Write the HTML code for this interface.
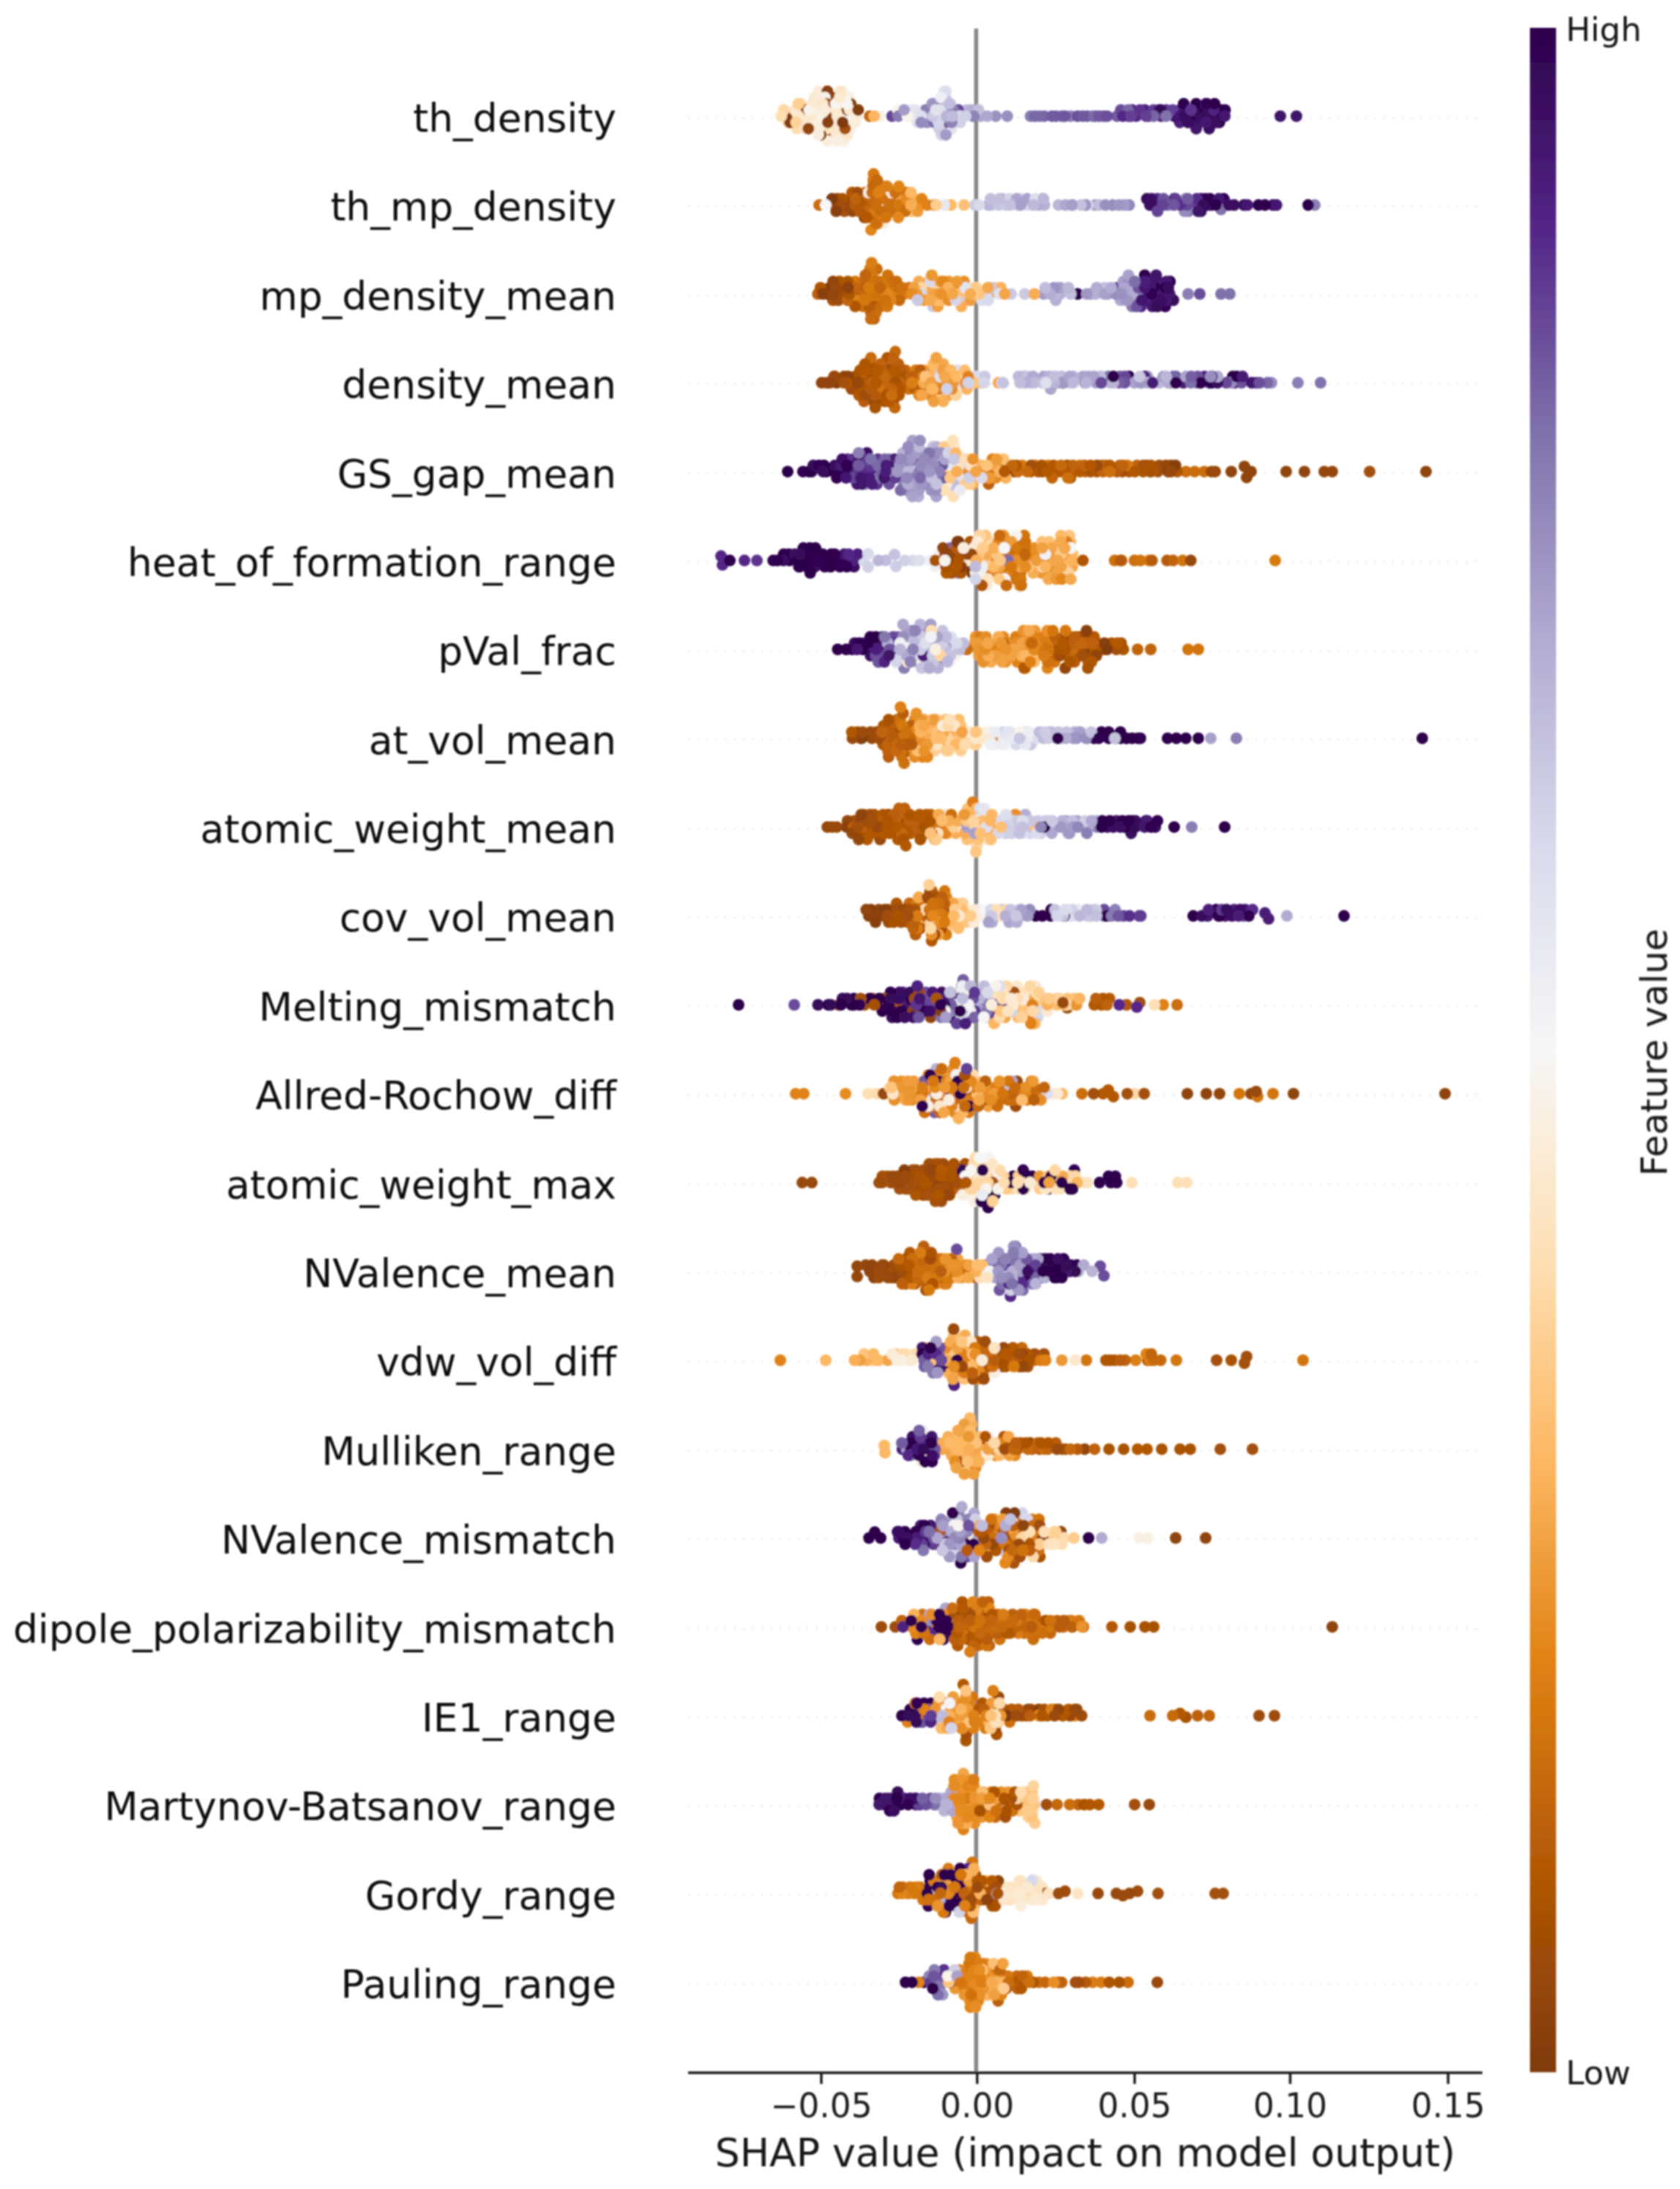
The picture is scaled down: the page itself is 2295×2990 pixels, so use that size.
<!DOCTYPE html><html><head><meta charset="utf-8"><title>SHAP summary</title>
<style>html,body{margin:0;padding:0;background:#fff}svg{display:block}text{font-family:"DejaVu Sans","Liberation Sans",sans-serif}</style></head><body>
<svg width="2295" height="2990" viewBox="0 0 2295 2990">
<rect width="2295" height="2990" fill="#fff"/>
<defs><linearGradient id="cb" x1="0" y1="0" x2="0" y2="1"><stop offset="0%" stop-color="#2d004b"/><stop offset="10%" stop-color="#542788"/><stop offset="20%" stop-color="#8073ac"/><stop offset="30%" stop-color="#b2abd2"/><stop offset="40%" stop-color="#d8daeb"/><stop offset="50%" stop-color="#f7f7f7"/><stop offset="60%" stop-color="#fee0b6"/><stop offset="70%" stop-color="#fdb863"/><stop offset="80%" stop-color="#e08214"/><stop offset="90%" stop-color="#b35806"/><stop offset="100%" stop-color="#7f3b08"/></linearGradient><filter id="bl" x="0" y="0" width="100%" height="100%" filterUnits="userSpaceOnUse"><feGaussianBlur stdDeviation="0.9"/></filter></defs>
<g filter="url(#bl)">
<line x1="1333.5" y1="39" x2="1333.5" y2="2830.5" stroke="#888" stroke-width="5.6"/>
<line x1="940" y1="160.7" x2="2025" y2="160.7" stroke="#ccc" stroke-width="2.1" stroke-dasharray="2.1 10.4" opacity="0.55"/>
<line x1="940" y1="282.1" x2="2025" y2="282.1" stroke="#ccc" stroke-width="2.1" stroke-dasharray="2.1 10.4" opacity="0.55"/>
<line x1="940" y1="403.5" x2="2025" y2="403.5" stroke="#ccc" stroke-width="2.1" stroke-dasharray="2.1 10.4" opacity="0.55"/>
<line x1="940" y1="524.8" x2="2025" y2="524.8" stroke="#ccc" stroke-width="2.1" stroke-dasharray="2.1 10.4" opacity="0.55"/>
<line x1="940" y1="646.2" x2="2025" y2="646.2" stroke="#ccc" stroke-width="2.1" stroke-dasharray="2.1 10.4" opacity="0.55"/>
<line x1="940" y1="767.6" x2="2025" y2="767.6" stroke="#ccc" stroke-width="2.1" stroke-dasharray="2.1 10.4" opacity="0.55"/>
<line x1="940" y1="889.0" x2="2025" y2="889.0" stroke="#ccc" stroke-width="2.1" stroke-dasharray="2.1 10.4" opacity="0.55"/>
<line x1="940" y1="1010.4" x2="2025" y2="1010.4" stroke="#ccc" stroke-width="2.1" stroke-dasharray="2.1 10.4" opacity="0.55"/>
<line x1="940" y1="1131.7" x2="2025" y2="1131.7" stroke="#ccc" stroke-width="2.1" stroke-dasharray="2.1 10.4" opacity="0.55"/>
<line x1="940" y1="1253.1" x2="2025" y2="1253.1" stroke="#ccc" stroke-width="2.1" stroke-dasharray="2.1 10.4" opacity="0.55"/>
<line x1="940" y1="1374.5" x2="2025" y2="1374.5" stroke="#ccc" stroke-width="2.1" stroke-dasharray="2.1 10.4" opacity="0.55"/>
<line x1="940" y1="1495.9" x2="2025" y2="1495.9" stroke="#ccc" stroke-width="2.1" stroke-dasharray="2.1 10.4" opacity="0.55"/>
<line x1="940" y1="1617.3" x2="2025" y2="1617.3" stroke="#ccc" stroke-width="2.1" stroke-dasharray="2.1 10.4" opacity="0.55"/>
<line x1="940" y1="1738.6" x2="2025" y2="1738.6" stroke="#ccc" stroke-width="2.1" stroke-dasharray="2.1 10.4" opacity="0.55"/>
<line x1="940" y1="1860.0" x2="2025" y2="1860.0" stroke="#ccc" stroke-width="2.1" stroke-dasharray="2.1 10.4" opacity="0.55"/>
<line x1="940" y1="1981.4" x2="2025" y2="1981.4" stroke="#ccc" stroke-width="2.1" stroke-dasharray="2.1 10.4" opacity="0.55"/>
<line x1="940" y1="2102.8" x2="2025" y2="2102.8" stroke="#ccc" stroke-width="2.1" stroke-dasharray="2.1 10.4" opacity="0.55"/>
<line x1="940" y1="2224.2" x2="2025" y2="2224.2" stroke="#ccc" stroke-width="2.1" stroke-dasharray="2.1 10.4" opacity="0.55"/>
<line x1="940" y1="2345.5" x2="2025" y2="2345.5" stroke="#ccc" stroke-width="2.1" stroke-dasharray="2.1 10.4" opacity="0.55"/>
<line x1="940" y1="2466.9" x2="2025" y2="2466.9" stroke="#ccc" stroke-width="2.1" stroke-dasharray="2.1 10.4" opacity="0.55"/>
<line x1="940" y1="2588.3" x2="2025" y2="2588.3" stroke="#ccc" stroke-width="2.1" stroke-dasharray="2.1 10.4" opacity="0.55"/>
<line x1="940" y1="2709.7" x2="2025" y2="2709.7" stroke="#ccc" stroke-width="2.1" stroke-dasharray="2.1 10.4" opacity="0.55"/>
<g>
<circle cx="1320.5" cy="150.2" r="8" fill="#bebada"/><circle cx="1622.7" cy="150.2" r="8" fill="#2d004b"/><circle cx="1650.3" cy="167.2" r="8" fill="#451871"/><circle cx="1149.6" cy="167.2" r="8" fill="#faedda"/><circle cx="1485.4" cy="158.7" r="8" fill="#7159a0"/><circle cx="1273.3" cy="158.7" r="8" fill="#958abc"/><circle cx="1139.6" cy="158.7" r="8" fill="#934607"/><circle cx="1291.3" cy="133.2" r="8" fill="#c5c2de"/><circle cx="1132.6" cy="184.2" r="8" fill="#a34f07"/><circle cx="1153.2" cy="158.7" r="8" fill="#fbebd5"/><circle cx="1253.5" cy="167.2" r="8" fill="#dddfed"/><circle cx="1161.4" cy="167.2" r="8" fill="#f9f1e6"/><circle cx="1658.4" cy="158.7" r="8" fill="#380b5c"/><circle cx="1611.6" cy="167.2" r="8" fill="#4a1d78"/><circle cx="1122.5" cy="167.2" r="8" fill="#faeedd"/><circle cx="1159.4" cy="133.2" r="8" fill="#f9f0e2"/><circle cx="1159.0" cy="158.7" r="8" fill="#f8f5f2"/><circle cx="1665.3" cy="158.7" r="8" fill="#310451"/><circle cx="1243.3" cy="150.2" r="8" fill="#ebecf3"/><circle cx="1273.4" cy="150.2" r="8" fill="#9489bb"/><circle cx="1118.5" cy="124.7" r="8" fill="#faecd9"/><circle cx="1328.4" cy="158.7" r="8" fill="#b9b4d7"/><circle cx="1143.6" cy="141.7" r="8" fill="#f9f1e6"/><circle cx="1129.7" cy="175.7" r="8" fill="#fde2bc"/><circle cx="1525.8" cy="158.7" r="8" fill="#725ca1"/><circle cx="1088.4" cy="175.7" r="8" fill="#feddaf"/><circle cx="1611.9" cy="150.2" r="8" fill="#471a73"/><circle cx="1531.1" cy="150.2" r="8" fill="#694b99"/><circle cx="1151.7" cy="124.7" r="8" fill="#f8f3eb"/><circle cx="1635.4" cy="158.7" r="8" fill="#390c5d"/><circle cx="1264.3" cy="150.2" r="8" fill="#8b80b5"/><circle cx="1100.1" cy="175.7" r="8" fill="#fde4c2"/><circle cx="1546.4" cy="150.2" r="8" fill="#4a1d79"/><circle cx="1286.1" cy="184.2" r="8" fill="#d3d3e7"/><circle cx="1376.0" cy="158.7" r="8" fill="#998fbf"/><circle cx="1496.0" cy="158.7" r="8" fill="#6e539d"/><circle cx="1286.4" cy="141.7" r="8" fill="#ada5ce"/><circle cx="1617.0" cy="141.7" r="8" fill="#2f024e"/><circle cx="1309.1" cy="150.2" r="8" fill="#674897"/><circle cx="1420.1" cy="158.7" r="8" fill="#7f71ab"/><circle cx="1289.9" cy="124.7" r="8" fill="#e2e3ef"/><circle cx="1245.2" cy="158.7" r="8" fill="#fbebd5"/><circle cx="1326.7" cy="150.2" r="8" fill="#b5afd4"/><circle cx="1162.0" cy="141.7" r="8" fill="#873f08"/><circle cx="1593.1" cy="150.2" r="8" fill="#5c358f"/><circle cx="1552.1" cy="158.7" r="8" fill="#552989"/><circle cx="1252.7" cy="158.7" r="8" fill="#e4e6f0"/><circle cx="1604.1" cy="158.7" r="8" fill="#3e1165"/><circle cx="1124.2" cy="133.2" r="8" fill="#f8f3ed"/><circle cx="1202.3" cy="158.7" r="8" fill="#f9f1e6"/><circle cx="1098.2" cy="158.7" r="8" fill="#fde2bc"/><circle cx="1120.1" cy="150.2" r="8" fill="#f8f2ea"/><circle cx="1130.2" cy="192.7" r="8" fill="#faeedd"/><circle cx="1292.3" cy="175.7" r="8" fill="#d1d2e7"/><circle cx="1568.9" cy="158.7" r="8" fill="#542788"/><circle cx="1298.2" cy="141.7" r="8" fill="#cecee4"/><circle cx="1138.1" cy="133.2" r="8" fill="#8b4208"/><circle cx="1653.9" cy="158.7" r="8" fill="#3b0e61"/><circle cx="1107.3" cy="167.2" r="8" fill="#853e08"/><circle cx="1668.0" cy="150.2" r="8" fill="#2d004b"/><circle cx="1563.7" cy="150.2" r="8" fill="#4c1f7b"/><circle cx="1111.3" cy="158.7" r="8" fill="#faeede"/><circle cx="1218.5" cy="158.7" r="8" fill="#664696"/><circle cx="1116.6" cy="175.7" r="8" fill="#f9f0e3"/><circle cx="1094.3" cy="141.7" r="8" fill="#fedfb4"/><circle cx="1541.5" cy="158.7" r="8" fill="#613e93"/><circle cx="1130.2" cy="124.7" r="8" fill="#873f08"/><circle cx="1152.3" cy="192.7" r="8" fill="#f9efe1"/><circle cx="1121.2" cy="184.2" r="8" fill="#873f08"/><circle cx="1601.9" cy="150.2" r="8" fill="#634195"/><circle cx="1626.3" cy="158.7" r="8" fill="#41146a"/><circle cx="1290.4" cy="150.2" r="8" fill="#cecee5"/><circle cx="1226.6" cy="150.2" r="8" fill="#f8f4ef"/><circle cx="1147.0" cy="175.7" r="8" fill="#f7f6f4"/><circle cx="1227.0" cy="158.7" r="8" fill="#887cb2"/><circle cx="1140.2" cy="150.2" r="8" fill="#fce7c9"/><circle cx="1135.8" cy="167.2" r="8" fill="#faedda"/><circle cx="1299.9" cy="175.7" r="8" fill="#e1e2ee"/><circle cx="1082.6" cy="158.7" r="8" fill="#feddaf"/><circle cx="1292.0" cy="124.7" r="8" fill="#dcdeed"/><circle cx="1157.5" cy="184.2" r="8" fill="#fce7c9"/><circle cx="1450.8" cy="158.7" r="8" fill="#7662a4"/><circle cx="1302.0" cy="150.2" r="8" fill="#8b80b5"/><circle cx="1126.7" cy="133.2" r="8" fill="#f9f1e7"/><circle cx="1360.2" cy="158.7" r="8" fill="#9c92c1"/><circle cx="1339.7" cy="158.7" r="8" fill="#aca5ce"/><circle cx="1575.8" cy="150.2" r="8" fill="#613e93"/><circle cx="1128.9" cy="141.7" r="8" fill="#9d4b07"/><circle cx="1628.7" cy="167.2" r="8" fill="#2d004b"/><circle cx="1771.0" cy="158.7" r="8" fill="#40146a"/><circle cx="1426.6" cy="158.7" r="8" fill="#7967a6"/><circle cx="1284.4" cy="158.7" r="8" fill="#d3d4e8"/><circle cx="1250.2" cy="150.2" r="8" fill="#e3e4ef"/><circle cx="1632.8" cy="150.2" r="8" fill="#350857"/><circle cx="1583.7" cy="150.2" r="8" fill="#512483"/><circle cx="1336.7" cy="150.2" r="8" fill="#c2bfdc"/><circle cx="1274.9" cy="141.7" r="8" fill="#867ab0"/><circle cx="1076.6" cy="167.2" r="8" fill="#fedbac"/><circle cx="1437.1" cy="158.7" r="8" fill="#735ca1"/><circle cx="1079.2" cy="167.2" r="8" fill="#833d08"/><circle cx="1330.2" cy="158.7" r="8" fill="#8f83b7"/><circle cx="1647.1" cy="150.2" r="8" fill="#320552"/><circle cx="1647.6" cy="158.7" r="8" fill="#380b5b"/><circle cx="1586.1" cy="158.7" r="8" fill="#4e217f"/><circle cx="1239.7" cy="158.7" r="8" fill="#f8f4ed"/><circle cx="1149.5" cy="150.2" r="8" fill="#fde4c1"/><circle cx="1611.9" cy="158.7" r="8" fill="#461972"/><circle cx="1651.8" cy="175.7" r="8" fill="#390c5e"/><circle cx="1111.0" cy="150.2" r="8" fill="#faeede"/><circle cx="1634.0" cy="141.7" r="8" fill="#2d004b"/><circle cx="1651.6" cy="150.2" r="8" fill="#370a5a"/><circle cx="1188.1" cy="158.7" r="8" fill="#c4670b"/><circle cx="1099.8" cy="150.2" r="8" fill="#a65107"/><circle cx="1128.7" cy="158.7" r="8" fill="#894108"/><circle cx="1292.0" cy="167.2" r="8" fill="#735ca1"/><circle cx="1266.5" cy="167.2" r="8" fill="#998fbf"/><circle cx="1118.4" cy="175.7" r="8" fill="#faedda"/><circle cx="1647.5" cy="141.7" r="8" fill="#461973"/><circle cx="1665.8" cy="167.2" r="8" fill="#2d004b"/><circle cx="1121.9" cy="158.7" r="8" fill="#f9f0e3"/><circle cx="1113.1" cy="167.2" r="8" fill="#faefdf"/><circle cx="1283.4" cy="150.2" r="8" fill="#e0e1ee"/><circle cx="1273.5" cy="141.7" r="8" fill="#9e95c3"/><circle cx="1462.6" cy="158.7" r="8" fill="#8b80b5"/><circle cx="1442.5" cy="158.7" r="8" fill="#725aa0"/><circle cx="1311.7" cy="158.7" r="8" fill="#d9dbeb"/><circle cx="1585.7" cy="150.2" r="8" fill="#340756"/><circle cx="1144.1" cy="158.7" r="8" fill="#fbead4"/><circle cx="1106.8" cy="158.7" r="8" fill="#fbe9cf"/><circle cx="1161.5" cy="175.7" r="8" fill="#f9efe2"/><circle cx="1074.1" cy="158.7" r="8" fill="#863f08"/><circle cx="1139.9" cy="175.7" r="8" fill="#fce8cc"/><circle cx="1276.1" cy="167.2" r="8" fill="#7d6eaa"/><circle cx="1258.5" cy="158.7" r="8" fill="#dfe0ee"/><circle cx="1557.4" cy="150.2" r="8" fill="#5b328d"/><circle cx="1235.1" cy="150.2" r="8" fill="#a49cc8"/><circle cx="1089.0" cy="150.2" r="8" fill="#884008"/><circle cx="1311.8" cy="167.2" r="8" fill="#d1d2e7"/><circle cx="1348.5" cy="158.7" r="8" fill="#aea7cf"/><circle cx="1258.3" cy="167.2" r="8" fill="#968bbd"/><circle cx="1285.5" cy="133.2" r="8" fill="#eeeef3"/><circle cx="1142.7" cy="184.2" r="8" fill="#fbe9d0"/><circle cx="1154.4" cy="175.7" r="8" fill="#a55007"/><circle cx="1109.9" cy="141.7" r="8" fill="#fce7c9"/><circle cx="1282.9" cy="175.7" r="8" fill="#cecee5"/><circle cx="1319.0" cy="158.7" r="8" fill="#d1d1e6"/><circle cx="1638.7" cy="167.2" r="8" fill="#3d1065"/><circle cx="1085.8" cy="150.2" r="8" fill="#fce8cb"/><circle cx="1097.3" cy="167.2" r="8" fill="#fce8cd"/><circle cx="1168.2" cy="167.2" r="8" fill="#faeede"/><circle cx="1282.1" cy="167.2" r="8" fill="#d4d5e9"/><circle cx="1090.7" cy="158.7" r="8" fill="#fce8cd"/><circle cx="1493.4" cy="158.7" r="8" fill="#7b6ba8"/><circle cx="1541.1" cy="150.2" r="8" fill="#7866a6"/><circle cx="1143.4" cy="192.7" r="8" fill="#f9f0e2"/><circle cx="1634.1" cy="175.7" r="8" fill="#3f1267"/><circle cx="1300.1" cy="167.2" r="8" fill="#8e82b6"/><circle cx="1157.6" cy="150.2" r="8" fill="#833d08"/><circle cx="1194.1" cy="158.7" r="8" fill="#fcb660"/><circle cx="1160.8" cy="150.2" r="8" fill="#fbe9d1"/><circle cx="1407.8" cy="158.7" r="8" fill="#887cb2"/><circle cx="1658.1" cy="150.2" r="8" fill="#502382"/><circle cx="1533.9" cy="158.7" r="8" fill="#542888"/><circle cx="1070.7" cy="150.2" r="8" fill="#fed7a3"/><circle cx="1673.5" cy="150.2" r="8" fill="#2f024e"/><circle cx="1593.1" cy="158.7" r="8" fill="#8073ac"/><circle cx="1471.9" cy="158.7" r="8" fill="#6c519c"/><circle cx="1155.2" cy="133.2" r="8" fill="#f9f0e4"/><circle cx="1274.5" cy="158.7" r="8" fill="#cbcae2"/><circle cx="1141.9" cy="141.7" r="8" fill="#f8f3ed"/><circle cx="1576.1" cy="158.7" r="8" fill="#7865a5"/><circle cx="1508.0" cy="158.7" r="8" fill="#6c519c"/><circle cx="1170.5" cy="158.7" r="8" fill="#faeddb"/><circle cx="1105.6" cy="150.2" r="8" fill="#f8f3eb"/><circle cx="1114.4" cy="141.7" r="8" fill="#faecd8"/><circle cx="1117.7" cy="184.2" r="8" fill="#f9efe1"/><circle cx="1293.2" cy="158.7" r="8" fill="#b8b2d6"/><circle cx="1622.7" cy="167.2" r="8" fill="#3b0e61"/><circle cx="1749.0" cy="158.7" r="8" fill="#40146a"/><circle cx="1156.6" cy="141.7" r="8" fill="#f7f6f4"/><circle cx="1618.5" cy="158.7" r="8" fill="#390c5e"/><circle cx="1673.1" cy="158.7" r="8" fill="#451870"/><circle cx="1172.3" cy="150.2" r="8" fill="#823d08"/><circle cx="1661.2" cy="167.2" r="8" fill="#3a0d5f"/><circle cx="1413.7" cy="158.7" r="8" fill="#7968a7"/><circle cx="1087.6" cy="167.2" r="8" fill="#fed29a"/><circle cx="1565.4" cy="158.7" r="8" fill="#623f93"/><circle cx="1148.0" cy="124.7" r="8" fill="#fce6c7"/><circle cx="1123.5" cy="141.7" r="8" fill="#fce7cb"/><circle cx="1067.2" cy="158.7" r="8" fill="#fedfb4"/><circle cx="1090.7" cy="141.7" r="8" fill="#fecf92"/><circle cx="1545.2" cy="158.7" r="8" fill="#634194"/><circle cx="1104.3" cy="175.7" r="8" fill="#944607"/><circle cx="1292.1" cy="184.2" r="8" fill="#a39bc7"/><circle cx="1627.0" cy="150.2" r="8" fill="#5a328d"/><circle cx="1648.4" cy="141.7" r="8" fill="#320553"/><circle cx="1659.2" cy="141.7" r="8" fill="#2d004b"/><circle cx="1479.1" cy="158.7" r="8" fill="#70589f"/><circle cx="1647.3" cy="167.2" r="8" fill="#44176f"/><circle cx="1501.4" cy="158.7" r="8" fill="#6f569e"/><circle cx="1126.8" cy="150.2" r="8" fill="#faeddb"/><circle cx="1130.9" cy="167.2" r="8" fill="#894108"/><circle cx="1147.2" cy="133.2" r="8" fill="#fbead1"/><circle cx="1112.9" cy="133.2" r="8" fill="#fbead3"/><circle cx="1454.8" cy="158.7" r="8" fill="#70579f"/><circle cx="1151.2" cy="167.2" r="8" fill="#7f3b08"/><circle cx="1297.0" cy="141.7" r="8" fill="#c1bddc"/><circle cx="1300.9" cy="158.7" r="8" fill="#c0bcdb"/><circle cx="1512.5" cy="158.7" r="8" fill="#6c509c"/><circle cx="1278.4" cy="150.2" r="8" fill="#e0e2ee"/>
</g>
<g>
<circle cx="1173.9" cy="288.6" r="8" fill="#934607"/><circle cx="1163.3" cy="271.6" r="8" fill="#823c08"/><circle cx="1445.9" cy="280.1" r="8" fill="#bbb6d8"/><circle cx="1640.5" cy="288.6" r="8" fill="#340756"/><circle cx="1604.1" cy="271.6" r="8" fill="#41146a"/><circle cx="1225.7" cy="271.6" r="8" fill="#e3881c"/><circle cx="1153.6" cy="288.6" r="8" fill="#a55007"/><circle cx="1426.9" cy="280.1" r="8" fill="#b7b1d5"/><circle cx="1299.0" cy="280.1" r="8" fill="#fdb863"/><circle cx="1619.8" cy="280.1" r="8" fill="#745ea2"/><circle cx="1520.0" cy="280.1" r="8" fill="#968cbd"/><circle cx="1190.5" cy="271.6" r="8" fill="#d97c12"/><circle cx="1213.2" cy="280.1" r="8" fill="#c66a0c"/><circle cx="1355.5" cy="280.1" r="8" fill="#cac9e2"/><circle cx="1640.3" cy="271.6" r="8" fill="#360959"/><circle cx="1671.8" cy="271.6" r="8" fill="#310452"/><circle cx="1174.3" cy="271.6" r="8" fill="#7f3b08"/><circle cx="1495.8" cy="280.1" r="8" fill="#a79ec9"/><circle cx="1581.2" cy="271.6" r="8" fill="#572c8a"/><circle cx="1163.0" cy="280.1" r="8" fill="#8f4407"/><circle cx="1465.1" cy="280.1" r="8" fill="#a39ac6"/><circle cx="1646.7" cy="271.6" r="8" fill="#330654"/><circle cx="1163.9" cy="263.1" r="8" fill="#b55906"/><circle cx="1181.4" cy="263.1" r="8" fill="#d77911"/><circle cx="1486.0" cy="280.1" r="8" fill="#d8daeb"/><circle cx="1144.0" cy="271.6" r="8" fill="#9b4b07"/><circle cx="1231.1" cy="271.6" r="8" fill="#f4a74a"/><circle cx="1482.9" cy="280.1" r="8" fill="#9f95c3"/><circle cx="1207.7" cy="263.1" r="8" fill="#c1650a"/><circle cx="1157.9" cy="280.1" r="8" fill="#964807"/><circle cx="1245.2" cy="288.6" r="8" fill="#fdc073"/><circle cx="1331.9" cy="280.1" r="8" fill="#cbcbe3"/><circle cx="1796.0" cy="280.1" r="8" fill="#8a7eb4"/><circle cx="1594.9" cy="280.1" r="8" fill="#7866a6"/><circle cx="1182.8" cy="280.1" r="8" fill="#b55a07"/><circle cx="1209.2" cy="288.6" r="8" fill="#e3881d"/><circle cx="1673.0" cy="280.1" r="8" fill="#340756"/><circle cx="1542.5" cy="280.1" r="8" fill="#9287b9"/><circle cx="1248.1" cy="280.1" r="8" fill="#fbb45e"/><circle cx="1192.5" cy="297.1" r="8" fill="#c2660b"/><circle cx="1631.3" cy="280.1" r="8" fill="#634094"/><circle cx="1253.5" cy="288.6" r="8" fill="#ed9a37"/><circle cx="1589.5" cy="271.6" r="8" fill="#6c519c"/><circle cx="1199.3" cy="280.1" r="8" fill="#faecd8"/><circle cx="1699.3" cy="280.1" r="8" fill="#380b5c"/><circle cx="1187.0" cy="271.6" r="8" fill="#c5680b"/><circle cx="1404.2" cy="280.1" r="8" fill="#d5d7e9"/><circle cx="1369.2" cy="271.6" r="8" fill="#bab5d7"/><circle cx="1212.3" cy="271.6" r="8" fill="#c76a0c"/><circle cx="1164.7" cy="288.6" r="8" fill="#974807"/><circle cx="1739.0" cy="280.1" r="8" fill="#3a0d60"/><circle cx="1190.0" cy="314.1" r="8" fill="#e28519"/><circle cx="1177.8" cy="280.1" r="8" fill="#b35806"/><circle cx="1290.0" cy="280.1" r="8" fill="#e8e8f1"/><circle cx="1150.7" cy="271.6" r="8" fill="#a95206"/><circle cx="1255.3" cy="280.1" r="8" fill="#ea952f"/><circle cx="1393.8" cy="271.6" r="8" fill="#d4d4e8"/><circle cx="1186.8" cy="263.1" r="8" fill="#f9f0e3"/><circle cx="1424.2" cy="271.6" r="8" fill="#a9a1cb"/><circle cx="1573.6" cy="280.1" r="8" fill="#390c5d"/><circle cx="1248.6" cy="271.6" r="8" fill="#f8ae55"/><circle cx="1654.4" cy="280.1" r="8" fill="#380b5c"/><circle cx="1223.0" cy="288.6" r="8" fill="#e78f27"/><circle cx="1476.6" cy="280.1" r="8" fill="#c4c1de"/><circle cx="1216.4" cy="271.6" r="8" fill="#d0730f"/><circle cx="1455.5" cy="280.1" r="8" fill="#b0a8d0"/><circle cx="1350.1" cy="280.1" r="8" fill="#bab5d7"/><circle cx="1233.0" cy="280.1" r="8" fill="#d77a11"/><circle cx="1217.5" cy="263.1" r="8" fill="#faeedf"/><circle cx="1623.6" cy="288.6" r="8" fill="#8a7eb4"/><circle cx="1180.9" cy="297.1" r="8" fill="#994907"/><circle cx="1419.0" cy="280.1" r="8" fill="#b1aad2"/><circle cx="1619.5" cy="271.6" r="8" fill="#968cbd"/><circle cx="1390.0" cy="280.1" r="8" fill="#cbcae3"/><circle cx="1168.0" cy="280.1" r="8" fill="#b55a07"/><circle cx="1192.9" cy="246.1" r="8" fill="#d67911"/><circle cx="1205.4" cy="297.1" r="8" fill="#e18316"/><circle cx="1403.1" cy="271.6" r="8" fill="#aaa2cc"/><circle cx="1222.7" cy="263.1" r="8" fill="#ce710e"/><circle cx="1171.2" cy="263.1" r="8" fill="#9f4d07"/><circle cx="1183.6" cy="288.6" r="8" fill="#c4670b"/><circle cx="1378.8" cy="271.6" r="8" fill="#d3d4e8"/><circle cx="1266.6" cy="280.1" r="8" fill="#e18316"/><circle cx="1501.4" cy="280.1" r="8" fill="#c0bcdb"/><circle cx="1649.3" cy="280.1" r="8" fill="#3c0f63"/><circle cx="1743.8" cy="280.1" r="8" fill="#461972"/><circle cx="1191.3" cy="263.1" r="8" fill="#ca6d0d"/><circle cx="1218.7" cy="288.6" r="8" fill="#c96d0d"/><circle cx="1787.0" cy="280.1" r="8" fill="#2d004b"/><circle cx="1276.4" cy="280.1" r="8" fill="#d47710"/><circle cx="1259.1" cy="271.6" r="8" fill="#e08214"/><circle cx="1653.0" cy="271.6" r="8" fill="#310451"/><circle cx="1510.1" cy="280.1" r="8" fill="#9a90c0"/><circle cx="1192.5" cy="254.6" r="8" fill="#c4670b"/><circle cx="1139.9" cy="280.1" r="8" fill="#a14e07"/><circle cx="1536.0" cy="280.1" r="8" fill="#a39ac7"/><circle cx="1414.2" cy="271.6" r="8" fill="#dddeed"/><circle cx="1618.1" cy="288.6" r="8" fill="#978cbd"/><circle cx="1119.0" cy="280.1" r="8" fill="#ca6d0d"/><circle cx="1175.0" cy="288.6" r="8" fill="#b55a07"/><circle cx="1148.3" cy="280.1" r="8" fill="#a14e07"/><circle cx="1668.0" cy="286.1" r="8" fill="#8073ac"/><circle cx="1621.8" cy="280.1" r="8" fill="#684998"/><circle cx="1353.0" cy="271.6" r="8" fill="#c2bfdd"/><circle cx="1237.9" cy="263.1" r="8" fill="#d1740f"/><circle cx="1195.1" cy="288.6" r="8" fill="#d87b12"/><circle cx="1388.8" cy="271.6" r="8" fill="#ada5ce"/><circle cx="1605.9" cy="271.6" r="8" fill="#623e93"/><circle cx="1464.1" cy="280.1" r="8" fill="#a69dc9"/><circle cx="1528.6" cy="280.1" r="8" fill="#9f96c3"/><circle cx="1214.9" cy="280.1" r="8" fill="#cb6f0e"/><circle cx="1136.6" cy="271.6" r="8" fill="#7f3b08"/><circle cx="1142.3" cy="288.6" r="8" fill="#884008"/><circle cx="1128.0" cy="280.1" r="8" fill="#f7f7f7"/><circle cx="1279.0" cy="280.1" r="8" fill="#fecc8c"/><circle cx="1566.7" cy="271.6" r="8" fill="#350858"/><circle cx="1634.7" cy="271.6" r="8" fill="#572c8a"/><circle cx="1612.6" cy="280.1" r="8" fill="#5a328d"/><circle cx="1603.6" cy="280.1" r="8" fill="#6e549d"/><circle cx="1588.4" cy="280.1" r="8" fill="#644395"/><circle cx="1364.5" cy="280.1" r="8" fill="#c6c3df"/><circle cx="1168.6" cy="271.6" r="8" fill="#be630a"/><circle cx="1184.6" cy="297.1" r="8" fill="#b45906"/><circle cx="1193.4" cy="237.6" r="8" fill="#d57811"/><circle cx="1228.1" cy="280.1" r="8" fill="#d57710"/><circle cx="1719.1" cy="280.1" r="8" fill="#2d004b"/><circle cx="1411.8" cy="280.1" r="8" fill="#bdb9d9"/><circle cx="1685.9" cy="280.1" r="8" fill="#370a5b"/><circle cx="1205.3" cy="271.6" r="8" fill="#cf720f"/><circle cx="1203.0" cy="288.6" r="8" fill="#c96c0d"/><circle cx="1425.5" cy="271.6" r="8" fill="#bcb7d8"/><circle cx="1206.3" cy="305.6" r="8" fill="#f9efe2"/><circle cx="1643.8" cy="280.1" r="8" fill="#360959"/><circle cx="1199.0" cy="305.6" r="8" fill="#ed9b38"/><circle cx="1196.4" cy="280.1" r="8" fill="#c96d0d"/><circle cx="1238.5" cy="271.6" r="8" fill="#e58a20"/><circle cx="1210.1" cy="297.1" r="8" fill="#d27510"/><circle cx="1664.9" cy="271.6" r="8" fill="#441770"/><circle cx="1728.0" cy="280.1" r="8" fill="#2f024e"/><circle cx="1205.7" cy="254.6" r="8" fill="#df8114"/><circle cx="1394.2" cy="280.1" r="8" fill="#a79fca"/><circle cx="1636.7" cy="288.6" r="8" fill="#401368"/><circle cx="1374.2" cy="280.1" r="8" fill="#c9c8e1"/><circle cx="1236.5" cy="288.6" r="8" fill="#cc700e"/><circle cx="1678.7" cy="280.1" r="8" fill="#3b0e61"/><circle cx="1200.3" cy="263.1" r="8" fill="#de8013"/><circle cx="1337.4" cy="280.1" r="8" fill="#d8daeb"/><circle cx="1244.5" cy="263.1" r="8" fill="#fdb863"/><circle cx="1211.8" cy="254.6" r="8" fill="#dc7f13"/><circle cx="1622.6" cy="271.6" r="8" fill="#725aa0"/><circle cx="1227.9" cy="254.6" r="8" fill="#e18417"/><circle cx="1317.0" cy="280.1" r="8" fill="#fdc074"/><circle cx="1379.9" cy="280.1" r="8" fill="#c4c1de"/><circle cx="1196.9" cy="305.6" r="8" fill="#cc6f0e"/><circle cx="1227.1" cy="297.1" r="8" fill="#e3871c"/><circle cx="1704.2" cy="280.1" r="8" fill="#461972"/><circle cx="1244.3" cy="280.1" r="8" fill="#f7ad53"/><circle cx="1570.8" cy="280.1" r="8" fill="#3a0d60"/><circle cx="1581.3" cy="288.6" r="8" fill="#644395"/><circle cx="1198.4" cy="246.1" r="8" fill="#c5690c"/><circle cx="1365.1" cy="271.6" r="8" fill="#c2bedc"/><circle cx="1661.0" cy="280.1" r="8" fill="#2d004b"/><circle cx="1573.2" cy="271.6" r="8" fill="#3d1064"/>
</g>
<g>
<circle cx="1268.8" cy="384.5" r="8" fill="#f4a84b"/><circle cx="1197.9" cy="367.5" r="8" fill="#c86c0d"/><circle cx="1179.9" cy="401.5" r="8" fill="#d37610"/><circle cx="1680.0" cy="401.5" r="8" fill="#8073ac"/><circle cx="1167.8" cy="401.5" r="8" fill="#b85c07"/><circle cx="1526.1" cy="393.0" r="8" fill="#b4add3"/><circle cx="1195.9" cy="393.0" r="8" fill="#ce720f"/><circle cx="1546.5" cy="418.5" r="8" fill="#867ab0"/><circle cx="1211.7" cy="384.5" r="8" fill="#dd7f13"/><circle cx="1582.4" cy="393.0" r="8" fill="#3d1064"/><circle cx="1570.5" cy="401.5" r="8" fill="#380b5d"/><circle cx="1668.0" cy="401.5" r="8" fill="#8073ac"/><circle cx="1168.2" cy="384.5" r="8" fill="#d67811"/><circle cx="1582.1" cy="384.5" r="8" fill="#491c77"/><circle cx="1544.0" cy="393.0" r="8" fill="#b9b3d6"/><circle cx="1133.5" cy="393.0" r="8" fill="#823d08"/><circle cx="1158.2" cy="384.5" r="8" fill="#ab5406"/><circle cx="1274.6" cy="418.5" r="8" fill="#cac9e2"/><circle cx="1598.3" cy="384.5" r="8" fill="#2d004b"/><circle cx="1593.7" cy="384.5" r="8" fill="#461972"/><circle cx="1292.5" cy="401.5" r="8" fill="#f6aa4f"/><circle cx="1449.1" cy="393.0" r="8" fill="#c5c2de"/><circle cx="1358.8" cy="393.0" r="8" fill="#fdca88"/><circle cx="1212.8" cy="376.0" r="8" fill="#cf720f"/><circle cx="1352.6" cy="401.5" r="8" fill="#f1a243"/><circle cx="1200.7" cy="401.5" r="8" fill="#d47710"/><circle cx="1591.3" cy="401.5" r="8" fill="#8e83b7"/><circle cx="1568.2" cy="384.5" r="8" fill="#a9a1cb"/><circle cx="1296.0" cy="384.5" r="8" fill="#eb9732"/><circle cx="1230.3" cy="401.5" r="8" fill="#c76a0c"/><circle cx="1639.0" cy="401.5" r="8" fill="#6a4d9a"/><circle cx="1508.7" cy="393.0" r="8" fill="#c4c1de"/><circle cx="1254.8" cy="410.0" r="8" fill="#e8912a"/><circle cx="1186.9" cy="384.5" r="8" fill="#d1740f"/><circle cx="1117.2" cy="401.5" r="8" fill="#bc6009"/><circle cx="1425.7" cy="401.5" r="8" fill="#a39ac7"/><circle cx="1120.8" cy="393.0" r="8" fill="#ac5406"/><circle cx="1219.4" cy="401.5" r="8" fill="#df8114"/><circle cx="1579.4" cy="376.0" r="8" fill="#41146a"/><circle cx="1334.3" cy="393.0" r="8" fill="#fed39a"/><circle cx="1316.9" cy="384.5" r="8" fill="#e89029"/><circle cx="1183.1" cy="376.0" r="8" fill="#c96c0d"/><circle cx="1281.0" cy="418.5" r="8" fill="#f09f3e"/><circle cx="1526.9" cy="393.0" r="8" fill="#664697"/><circle cx="1558.7" cy="418.5" r="8" fill="#512483"/><circle cx="1341.2" cy="410.0" r="8" fill="#dcdeec"/><circle cx="1275.7" cy="393.0" r="8" fill="#f7ad53"/><circle cx="1489.6" cy="401.5" r="8" fill="#9b91c0"/><circle cx="1156.1" cy="401.5" r="8" fill="#934607"/><circle cx="1310.8" cy="393.0" r="8" fill="#dee0ed"/><circle cx="1448.1" cy="401.5" r="8" fill="#b7b2d6"/><circle cx="1183.5" cy="410.0" r="8" fill="#c86c0d"/><circle cx="1148.8" cy="393.0" r="8" fill="#9e4c07"/><circle cx="1262.7" cy="401.5" r="8" fill="#f5a94d"/><circle cx="1347.2" cy="401.5" r="8" fill="#d1d1e6"/><circle cx="1442.3" cy="410.0" r="8" fill="#b5afd4"/><circle cx="1367.1" cy="393.0" r="8" fill="#fab35c"/><circle cx="1234.7" cy="401.5" r="8" fill="#d67911"/><circle cx="1280.7" cy="410.0" r="8" fill="#fdbe6f"/><circle cx="1159.1" cy="393.0" r="8" fill="#853e08"/><circle cx="1280.3" cy="393.0" r="8" fill="#fed6a0"/><circle cx="1578.2" cy="393.0" r="8" fill="#2d004b"/><circle cx="1137.8" cy="410.0" r="8" fill="#a34f07"/><circle cx="1381.2" cy="401.5" r="8" fill="#cac8e2"/><circle cx="1353.9" cy="393.0" r="8" fill="#c9c8e1"/><circle cx="1146.4" cy="401.5" r="8" fill="#9d4c07"/><circle cx="1602.9" cy="410.0" r="8" fill="#340756"/><circle cx="1472.0" cy="401.5" r="8" fill="#2d004b"/><circle cx="1191.3" cy="376.0" r="8" fill="#d37610"/><circle cx="1168.1" cy="393.0" r="8" fill="#c2660b"/><circle cx="1145.2" cy="410.0" r="8" fill="#9d4b07"/><circle cx="1498.2" cy="393.0" r="8" fill="#b2abd2"/><circle cx="1196.5" cy="410.0" r="8" fill="#dc7e13"/><circle cx="1213.3" cy="393.0" r="8" fill="#d0730f"/><circle cx="1262.1" cy="393.0" r="8" fill="#f3a648"/><circle cx="1215.0" cy="393.0" r="8" fill="#d77911"/><circle cx="1201.3" cy="384.5" r="8" fill="#d87a11"/><circle cx="1566.0" cy="410.0" r="8" fill="#4f2280"/><circle cx="1159.1" cy="410.0" r="8" fill="#ba5e08"/><circle cx="1591.8" cy="418.5" r="8" fill="#330655"/><circle cx="1530.7" cy="410.0" r="8" fill="#aea7cf"/><circle cx="1571.7" cy="393.0" r="8" fill="#3f1267"/><circle cx="1220.3" cy="384.5" r="8" fill="#cb6e0d"/><circle cx="1442.3" cy="401.5" r="8" fill="#bcb7d8"/><circle cx="1205.6" cy="410.0" r="8" fill="#da7c12"/><circle cx="1146.8" cy="384.5" r="8" fill="#ac5406"/><circle cx="1179.2" cy="418.5" r="8" fill="#ce710e"/><circle cx="1228.6" cy="410.0" r="8" fill="#c4680b"/><circle cx="1138.0" cy="384.5" r="8" fill="#904407"/><circle cx="1534.6" cy="384.5" r="8" fill="#a79fca"/><circle cx="1526.5" cy="401.5" r="8" fill="#b1aad2"/><circle cx="1587.6" cy="401.5" r="8" fill="#3f1267"/><circle cx="1198.9" cy="384.5" r="8" fill="#cc6f0e"/><circle cx="1579.1" cy="410.0" r="8" fill="#41146a"/><circle cx="1447.2" cy="393.0" r="8" fill="#a79fca"/><circle cx="1623.0" cy="401.5" r="8" fill="#8a7eb4"/><circle cx="1195.1" cy="418.5" r="8" fill="#b45906"/><circle cx="1399.9" cy="401.5" r="8" fill="#cbcae2"/><circle cx="1193.9" cy="435.5" r="8" fill="#c0640a"/><circle cx="1309.2" cy="393.0" r="8" fill="#e4891e"/><circle cx="1271.3" cy="384.5" r="8" fill="#dadcec"/><circle cx="1284.7" cy="384.5" r="8" fill="#ee9b39"/><circle cx="1302.7" cy="401.5" r="8" fill="#fdb863"/><circle cx="1228.0" cy="393.0" r="8" fill="#c96c0d"/><circle cx="1211.1" cy="401.5" r="8" fill="#e4891f"/><circle cx="1255.2" cy="384.5" r="8" fill="#f6aa4f"/><circle cx="1312.8" cy="410.0" r="8" fill="#d1d1e6"/><circle cx="1574.2" cy="418.5" r="8" fill="#43166e"/><circle cx="1592.4" cy="393.0" r="8" fill="#2e014c"/><circle cx="1560.6" cy="401.5" r="8" fill="#461972"/><circle cx="1563.8" cy="376.0" r="8" fill="#2e014d"/><circle cx="1216.5" cy="410.0" r="8" fill="#e2861a"/><circle cx="1242.0" cy="393.0" r="8" fill="#cc700e"/><circle cx="1551.9" cy="410.0" r="8" fill="#8c81b5"/><circle cx="1141.7" cy="393.0" r="8" fill="#994907"/><circle cx="1129.8" cy="401.5" r="8" fill="#863f08"/><circle cx="1541.8" cy="384.5" r="8" fill="#968cbd"/><circle cx="1331.1" cy="393.0" r="8" fill="#fdcc8c"/><circle cx="1325.6" cy="410.0" r="8" fill="#ef9d3c"/><circle cx="1203.0" cy="418.5" r="8" fill="#c6690c"/><circle cx="1553.6" cy="401.5" r="8" fill="#8b7fb4"/><circle cx="1196.1" cy="401.5" r="8" fill="#cf720f"/><circle cx="1185.1" cy="401.5" r="8" fill="#d0730f"/><circle cx="1365.5" cy="401.5" r="8" fill="#e0e2ee"/><circle cx="1496.7" cy="401.5" r="8" fill="#b6afd4"/><circle cx="1310.4" cy="401.5" r="8" fill="#fdbf71"/><circle cx="1350.1" cy="410.0" r="8" fill="#d8daeb"/><circle cx="1413.0" cy="401.5" r="8" fill="#f7ad53"/><circle cx="1277.5" cy="401.5" r="8" fill="#f0a141"/><circle cx="1169.8" cy="410.0" r="8" fill="#de8013"/><circle cx="1212.1" cy="418.5" r="8" fill="#d47610"/><circle cx="1290.7" cy="393.0" r="8" fill="#f6ac51"/><circle cx="1313.4" cy="418.5" r="8" fill="#f8ae55"/><circle cx="1189.7" cy="427.0" r="8" fill="#bf630a"/><circle cx="1258.7" cy="393.0" r="8" fill="#fed6a1"/><circle cx="1196.7" cy="427.0" r="8" fill="#c86c0d"/><circle cx="1258.6" cy="401.5" r="8" fill="#d6d8ea"/><circle cx="1318.7" cy="393.0" r="8" fill="#e3e5ef"/><circle cx="1524.1" cy="401.5" r="8" fill="#958abc"/><circle cx="1547.0" cy="401.5" r="8" fill="#b2abd2"/><circle cx="1541.6" cy="376.0" r="8" fill="#a9a1cb"/><circle cx="1262.4" cy="410.0" r="8" fill="#ec9935"/><circle cx="1288.2" cy="384.5" r="8" fill="#e3881d"/><circle cx="1484.6" cy="401.5" r="8" fill="#a096c4"/><circle cx="1439.9" cy="393.0" r="8" fill="#9d93c2"/><circle cx="1295.6" cy="393.0" r="8" fill="#fab25b"/><circle cx="1512.5" cy="401.5" r="8" fill="#9d93c2"/><circle cx="1248.5" cy="393.0" r="8" fill="#f1a142"/><circle cx="1573.1" cy="401.5" r="8" fill="#330655"/><circle cx="1252.3" cy="401.5" r="8" fill="#ec9935"/><circle cx="1337.6" cy="401.5" r="8" fill="#fdc680"/><circle cx="1329.2" cy="401.5" r="8" fill="#fecd90"/><circle cx="1286.3" cy="410.0" r="8" fill="#fdbc6c"/><circle cx="1180.5" cy="384.5" r="8" fill="#c76b0c"/><circle cx="1245.2" cy="401.5" r="8" fill="#e58b22"/><circle cx="1572.3" cy="384.5" r="8" fill="#42156c"/><circle cx="1188.3" cy="367.5" r="8" fill="#d37610"/><circle cx="1508.9" cy="401.5" r="8" fill="#a8a0ca"/><circle cx="1295.9" cy="410.0" r="8" fill="#e8912b"/><circle cx="1372.6" cy="401.5" r="8" fill="#f3a547"/><circle cx="1182.1" cy="376.0" r="8" fill="#c1650a"/><circle cx="1517.8" cy="393.0" r="8" fill="#b4add3"/><circle cx="1462.7" cy="401.5" r="8" fill="#c1bedc"/><circle cx="1555.0" cy="393.0" r="8" fill="#6f559e"/><circle cx="1124.1" cy="401.5" r="8" fill="#894008"/><circle cx="1182.2" cy="393.0" r="8" fill="#bc6009"/><circle cx="1305.8" cy="410.0" r="8" fill="#d4d5e9"/><circle cx="1186.9" cy="393.0" r="8" fill="#d77a11"/><circle cx="1552.7" cy="418.5" r="8" fill="#6c519c"/><circle cx="1540.2" cy="410.0" r="8" fill="#a096c4"/><circle cx="1224.7" cy="384.5" r="8" fill="#c96c0d"/><circle cx="1349.5" cy="393.0" r="8" fill="#f5a94c"/><circle cx="1168.3" cy="418.5" r="8" fill="#b15706"/><circle cx="1593.2" cy="410.0" r="8" fill="#461971"/><circle cx="1232.5" cy="393.0" r="8" fill="#cf720f"/><circle cx="1535.6" cy="393.0" r="8" fill="#ada5ce"/><circle cx="1538.5" cy="410.0" r="8" fill="#a096c4"/><circle cx="1202.5" cy="393.0" r="8" fill="#c3660b"/><circle cx="1559.4" cy="410.0" r="8" fill="#42156d"/><circle cx="1187.0" cy="418.5" r="8" fill="#b65b07"/><circle cx="1581.0" cy="418.5" r="8" fill="#350858"/><circle cx="1563.5" cy="393.0" r="8" fill="#461971"/><circle cx="1270.6" cy="410.0" r="8" fill="#f5a94e"/><circle cx="1307.6" cy="384.5" r="8" fill="#ed9a36"/><circle cx="1189.7" cy="435.5" r="8" fill="#c66a0c"/><circle cx="1563.5" cy="384.5" r="8" fill="#4c1f7c"/><circle cx="1209.6" cy="410.0" r="8" fill="#ce710e"/><circle cx="1434.9" cy="401.5" r="8" fill="#b4add3"/><circle cx="1181.3" cy="410.0" r="8" fill="#d47710"/><circle cx="1587.6" cy="410.0" r="8" fill="#3d1064"/><circle cx="1285.6" cy="401.5" r="8" fill="#e9922c"/><circle cx="1597.8" cy="401.5" r="8" fill="#42156c"/><circle cx="1301.3" cy="401.5" r="8" fill="#f3a649"/><circle cx="1427.8" cy="393.0" r="8" fill="#bfbbda"/><circle cx="1157.8" cy="410.0" r="8" fill="#c0640a"/><circle cx="1550.2" cy="384.5" r="8" fill="#7d6da9"/><circle cx="1325.7" cy="401.5" r="8" fill="#f7ad53"/><circle cx="1272.9" cy="376.0" r="8" fill="#eb9732"/><circle cx="1532.0" cy="401.5" r="8" fill="#9b91c0"/><circle cx="1160.1" cy="401.5" r="8" fill="#ad5506"/><circle cx="1459.5" cy="393.0" r="8" fill="#bbb7d8"/><circle cx="1190.7" cy="359.0" r="8" fill="#da7d12"/><circle cx="1137.4" cy="401.5" r="8" fill="#924607"/><circle cx="1596.1" cy="393.0" r="8" fill="#370a5b"/><circle cx="1158.4" cy="393.0" r="8" fill="#8e4307"/><circle cx="1253.5" cy="410.0" r="8" fill="#cbcae3"/>
</g>
<g>
<circle cx="1645.5" cy="514.3" r="8" fill="#502382"/><circle cx="1479.4" cy="514.3" r="8" fill="#aba3cc"/><circle cx="1683.9" cy="514.3" r="8" fill="#2d004b"/><circle cx="1180.5" cy="531.3" r="8" fill="#b85c07"/><circle cx="1190.8" cy="497.3" r="8" fill="#a95206"/><circle cx="1507.5" cy="514.3" r="8" fill="#d6d7e9"/><circle cx="1296.3" cy="539.8" r="8" fill="#f4a84b"/><circle cx="1481.9" cy="522.8" r="8" fill="#a39ac6"/><circle cx="1435.3" cy="531.3" r="8" fill="#aca4cd"/><circle cx="1391.4" cy="514.3" r="8" fill="#bebada"/><circle cx="1542.6" cy="514.3" r="8" fill="#2d004b"/><circle cx="1220.9" cy="539.8" r="8" fill="#b35806"/><circle cx="1129.7" cy="522.8" r="8" fill="#924507"/><circle cx="1567.6" cy="514.3" r="8" fill="#a299c6"/><circle cx="1153.0" cy="514.3" r="8" fill="#924607"/><circle cx="1486.6" cy="514.3" r="8" fill="#aca4cd"/><circle cx="1284.9" cy="539.8" r="8" fill="#fbb55e"/><circle cx="1288.7" cy="497.3" r="8" fill="#f4a74b"/><circle cx="1335.9" cy="514.3" r="8" fill="#d9dbeb"/><circle cx="1274.5" cy="514.3" r="8" fill="#ef9e3d"/><circle cx="1364.0" cy="522.8" r="8" fill="#f5a94d"/><circle cx="1240.9" cy="531.3" r="8" fill="#ce720f"/><circle cx="1606.4" cy="514.3" r="8" fill="#755fa3"/><circle cx="1425.6" cy="514.3" r="8" fill="#aba3cc"/><circle cx="1220.3" cy="548.3" r="8" fill="#a24e07"/><circle cx="1408.4" cy="522.8" r="8" fill="#b9b4d7"/><circle cx="1210.2" cy="522.8" r="8" fill="#a65106"/><circle cx="1686.5" cy="522.8" r="8" fill="#3a0d60"/><circle cx="1188.7" cy="514.3" r="8" fill="#c2660b"/><circle cx="1515.9" cy="522.8" r="8" fill="#bfbbda"/><circle cx="1223.0" cy="480.3" r="8" fill="#c5690c"/><circle cx="1773.0" cy="522.8" r="8" fill="#8a7eb4"/><circle cx="1184.3" cy="514.3" r="8" fill="#a34f07"/><circle cx="1340.2" cy="522.8" r="8" fill="#fcb660"/><circle cx="1563.6" cy="514.3" r="8" fill="#4d207e"/><circle cx="1191.5" cy="505.8" r="8" fill="#aa5306"/><circle cx="1204.9" cy="497.3" r="8" fill="#c76b0c"/><circle cx="1280.0" cy="539.8" r="8" fill="#fdc47d"/><circle cx="1175.9" cy="514.3" r="8" fill="#c3670b"/><circle cx="1206.5" cy="531.3" r="8" fill="#b15706"/><circle cx="1369.0" cy="522.8" r="8" fill="#e0e1ee"/><circle cx="1236.9" cy="505.8" r="8" fill="#c4680b"/><circle cx="1167.1" cy="531.3" r="8" fill="#984907"/><circle cx="1330.8" cy="514.3" r="8" fill="#dadcec"/><circle cx="1602.8" cy="514.3" r="8" fill="#7866a6"/><circle cx="1514.4" cy="514.3" r="8" fill="#8073ac"/><circle cx="1311.2" cy="531.3" r="8" fill="#fce6c7"/><circle cx="1284.0" cy="522.8" r="8" fill="#f5a94d"/><circle cx="1271.3" cy="539.8" r="8" fill="#e3881d"/><circle cx="1201.7" cy="514.3" r="8" fill="#b25806"/><circle cx="1307.5" cy="505.8" r="8" fill="#dbddec"/><circle cx="1450.3" cy="514.3" r="8" fill="#bfbbdb"/><circle cx="1189.7" cy="488.8" r="8" fill="#c96c0d"/><circle cx="1181.0" cy="505.8" r="8" fill="#b55906"/><circle cx="1696.0" cy="522.8" r="8" fill="#6c519c"/><circle cx="1305.8" cy="539.8" r="8" fill="#fed298"/><circle cx="1442.6" cy="514.3" r="8" fill="#c2bfdd"/><circle cx="1529.6" cy="514.3" r="8" fill="#735da1"/><circle cx="1227.3" cy="497.3" r="8" fill="#b95e08"/><circle cx="1505.0" cy="522.8" r="8" fill="#a49bc7"/><circle cx="1262.4" cy="531.3" r="8" fill="#f5a94c"/><circle cx="1197.7" cy="539.8" r="8" fill="#c66a0c"/><circle cx="1681.7" cy="522.8" r="8" fill="#958bbc"/><circle cx="1445.1" cy="522.8" r="8" fill="#a59cc8"/><circle cx="1536.5" cy="514.3" r="8" fill="#664797"/><circle cx="1716.9" cy="522.8" r="8" fill="#4f2280"/><circle cx="1310.6" cy="514.3" r="8" fill="#e68e25"/><circle cx="1398.7" cy="514.3" r="8" fill="#bbb6d8"/><circle cx="1460.9" cy="522.8" r="8" fill="#c4c1de"/><circle cx="1567.6" cy="522.8" r="8" fill="#b5aed4"/><circle cx="1403.5" cy="514.3" r="8" fill="#c6c3df"/><circle cx="1252.7" cy="522.8" r="8" fill="#dc7e13"/><circle cx="1452.0" cy="522.8" r="8" fill="#2d004b"/><circle cx="1276.9" cy="505.8" r="8" fill="#cdcce3"/><circle cx="1300.4" cy="531.3" r="8" fill="#e58b21"/><circle cx="1710.0" cy="522.8" r="8" fill="#43166d"/><circle cx="1222.4" cy="556.8" r="8" fill="#c2660b"/><circle cx="1274.9" cy="497.3" r="8" fill="#fdb762"/><circle cx="1560.1" cy="522.8" r="8" fill="#aca4cd"/><circle cx="1598.4" cy="522.8" r="8" fill="#7967a6"/><circle cx="1242.8" cy="514.3" r="8" fill="#ca6e0d"/><circle cx="1225.3" cy="514.3" r="8" fill="#b85c07"/><circle cx="1616.6" cy="522.8" r="8" fill="#471a73"/><circle cx="1231.5" cy="505.8" r="8" fill="#b85d08"/><circle cx="1212.2" cy="488.8" r="8" fill="#ae5506"/><circle cx="1257.5" cy="531.3" r="8" fill="#d0730f"/><circle cx="1200.3" cy="548.3" r="8" fill="#bf630a"/><circle cx="1228.0" cy="539.8" r="8" fill="#b05606"/><circle cx="1636.2" cy="514.3" r="8" fill="#6d539d"/><circle cx="1312.5" cy="522.8" r="8" fill="#d7d9eb"/><circle cx="1675.1" cy="522.8" r="8" fill="#654596"/><circle cx="1142.8" cy="522.8" r="8" fill="#884008"/><circle cx="1250.6" cy="505.8" r="8" fill="#da7d12"/><circle cx="1451.7" cy="522.8" r="8" fill="#a198c5"/><circle cx="1173.8" cy="522.8" r="8" fill="#9a4a07"/><circle cx="1440.5" cy="522.8" r="8" fill="#b9b4d7"/><circle cx="1180.3" cy="548.3" r="8" fill="#b85d08"/><circle cx="1283.3" cy="531.3" r="8" fill="#dc7e13"/><circle cx="1208.5" cy="548.3" r="8" fill="#ab5306"/><circle cx="1270.4" cy="505.8" r="8" fill="#fdba68"/><circle cx="1249.6" cy="531.3" r="8" fill="#ba5f08"/><circle cx="1320.9" cy="531.3" r="8" fill="#fab35b"/><circle cx="1193.8" cy="548.3" r="8" fill="#964807"/><circle cx="1220.3" cy="488.8" r="8" fill="#be6209"/><circle cx="1652.2" cy="522.8" r="8" fill="#4e217f"/><circle cx="1497.7" cy="522.8" r="8" fill="#a49cc8"/><circle cx="1466.2" cy="514.3" r="8" fill="#b7b1d5"/><circle cx="1503.1" cy="514.3" r="8" fill="#c0bcdb"/><circle cx="1411.2" cy="514.3" r="8" fill="#afa8d0"/><circle cx="1279.0" cy="488.8" r="8" fill="#f1a243"/><circle cx="1314.9" cy="514.3" r="8" fill="#fed6a2"/><circle cx="1291.5" cy="505.8" r="8" fill="#f4a84b"/><circle cx="1274.9" cy="531.3" r="8" fill="#fab35c"/><circle cx="1302.1" cy="522.8" r="8" fill="#eb9632"/><circle cx="1433.0" cy="514.3" r="8" fill="#b6b0d4"/><circle cx="1212.5" cy="522.8" r="8" fill="#c3670b"/><circle cx="1737.0" cy="522.8" r="8" fill="#998fbf"/><circle cx="1413.0" cy="522.8" r="8" fill="#bebada"/><circle cx="1203.0" cy="497.3" r="8" fill="#c0640a"/><circle cx="1219.1" cy="497.3" r="8" fill="#be6209"/><circle cx="1583.5" cy="522.8" r="8" fill="#bbb6d8"/><circle cx="1596.0" cy="522.8" r="8" fill="#b1aad1"/><circle cx="1273.5" cy="514.3" r="8" fill="#fcb55f"/><circle cx="1276.3" cy="522.8" r="8" fill="#e8912a"/><circle cx="1689.3" cy="514.3" r="8" fill="#2d004b"/><circle cx="1214.3" cy="505.8" r="8" fill="#9c4b07"/><circle cx="1262.4" cy="505.8" r="8" fill="#ef9d3c"/><circle cx="1255.6" cy="539.8" r="8" fill="#e3871c"/><circle cx="1242.2" cy="522.8" r="8" fill="#c5690c"/><circle cx="1304.6" cy="514.3" r="8" fill="#fdb864"/><circle cx="1163.2" cy="531.3" r="8" fill="#9e4c07"/><circle cx="1257.0" cy="505.8" r="8" fill="#b85d08"/><circle cx="1655.1" cy="522.8" r="8" fill="#2d004c"/><circle cx="1400.7" cy="522.8" r="8" fill="#b5aed4"/><circle cx="1731.5" cy="522.8" r="8" fill="#7a68a7"/><circle cx="1284.4" cy="514.3" r="8" fill="#dddfed"/><circle cx="1589.0" cy="514.3" r="8" fill="#a59cc8"/><circle cx="1330.9" cy="522.8" r="8" fill="#fdc67f"/><circle cx="1214.5" cy="514.3" r="8" fill="#b95d08"/><circle cx="1720.7" cy="522.8" r="8" fill="#6c509b"/><circle cx="1174.9" cy="505.8" r="8" fill="#b05606"/><circle cx="1234.7" cy="514.3" r="8" fill="#ab5406"/><circle cx="1229.4" cy="522.8" r="8" fill="#bf630a"/><circle cx="1549.5" cy="522.8" r="8" fill="#aaa2cc"/><circle cx="1557.9" cy="522.8" r="8" fill="#a096c4"/><circle cx="1230.0" cy="531.3" r="8" fill="#b35806"/><circle cx="1173.5" cy="539.8" r="8" fill="#b15706"/><circle cx="1461.1" cy="514.3" r="8" fill="#ada5ce"/><circle cx="1214.2" cy="548.3" r="8" fill="#b25806"/><circle cx="1259.6" cy="539.8" r="8" fill="#f4a649"/><circle cx="1180.9" cy="522.8" r="8" fill="#ac5406"/><circle cx="1317.9" cy="505.8" r="8" fill="#fdbc6c"/><circle cx="1635.7" cy="522.8" r="8" fill="#6a4d9a"/><circle cx="1345.4" cy="514.3" r="8" fill="#cac9e2"/><circle cx="1494.5" cy="514.3" r="8" fill="#aaa3cc"/><circle cx="1640.2" cy="522.8" r="8" fill="#2d004b"/><circle cx="1393.4" cy="522.8" r="8" fill="#c1bedc"/><circle cx="1200.7" cy="531.3" r="8" fill="#d1740f"/><circle cx="1370.3" cy="522.8" r="8" fill="#c5c3df"/><circle cx="1223.3" cy="522.8" r="8" fill="#a65106"/><circle cx="1205.4" cy="505.8" r="8" fill="#b95e08"/><circle cx="1122.5" cy="522.8" r="8" fill="#914507"/><circle cx="1288.6" cy="548.3" r="8" fill="#f8af55"/><circle cx="1344.4" cy="522.8" r="8" fill="#d5d6e9"/><circle cx="1536.4" cy="522.8" r="8" fill="#6d529c"/><circle cx="1318.6" cy="522.8" r="8" fill="#ea9530"/><circle cx="1194.7" cy="539.8" r="8" fill="#b55a07"/><circle cx="1663.2" cy="522.8" r="8" fill="#390c5d"/><circle cx="1178.3" cy="531.3" r="8" fill="#ac5406"/><circle cx="1259.4" cy="514.3" r="8" fill="#ce710e"/><circle cx="1168.0" cy="514.3" r="8" fill="#a85206"/><circle cx="1140.4" cy="514.3" r="8" fill="#974907"/><circle cx="1190.7" cy="522.8" r="8" fill="#bd6109"/><circle cx="1294.0" cy="522.8" r="8" fill="#ec9936"/><circle cx="1424.5" cy="522.8" r="8" fill="#c4c1de"/><circle cx="1226.8" cy="531.3" r="8" fill="#b15706"/><circle cx="1439.4" cy="514.3" r="8" fill="#c2bedc"/><circle cx="1322.6" cy="514.3" r="8" fill="#df8214"/><circle cx="1663.3" cy="514.3" r="8" fill="#b0a9d1"/><circle cx="1158.5" cy="514.3" r="8" fill="#8b4208"/><circle cx="1139.2" cy="514.3" r="8" fill="#994907"/><circle cx="1528.8" cy="522.8" r="8" fill="#745ea2"/><circle cx="1466.0" cy="522.8" r="8" fill="#bcb8d9"/><circle cx="1217.7" cy="531.3" r="8" fill="#c0640a"/><circle cx="1222.8" cy="505.8" r="8" fill="#b45906"/><circle cx="1430.0" cy="522.8" r="8" fill="#b6b0d5"/><circle cx="1156.4" cy="522.8" r="8" fill="#b15706"/><circle cx="1262.1" cy="522.8" r="8" fill="#f6ab50"/><circle cx="1606.1" cy="522.8" r="8" fill="#2f024e"/><circle cx="1556.9" cy="514.3" r="8" fill="#cac9e2"/><circle cx="1504.3" cy="522.8" r="8" fill="#674897"/><circle cx="1484.2" cy="522.8" r="8" fill="#b9b4d7"/><circle cx="1264.1" cy="514.3" r="8" fill="#fdc379"/><circle cx="1287.9" cy="505.8" r="8" fill="#ef9f3e"/><circle cx="1182.0" cy="539.8" r="8" fill="#a24e07"/><circle cx="1275.5" cy="548.3" r="8" fill="#ef9f3e"/><circle cx="1520.7" cy="522.8" r="8" fill="#bab4d7"/><circle cx="1298.7" cy="505.8" r="8" fill="#fcb761"/><circle cx="1208.5" cy="514.3" r="8" fill="#c3670b"/><circle cx="1593.2" cy="514.3" r="8" fill="#bbb7d8"/><circle cx="1181.5" cy="497.3" r="8" fill="#ac5406"/><circle cx="1271.4" cy="522.8" r="8" fill="#f1a243"/><circle cx="1429.0" cy="522.8" r="8" fill="#dee0ed"/><circle cx="1322.9" cy="522.8" r="8" fill="#d2d2e7"/><circle cx="1655.5" cy="514.3" r="8" fill="#43166d"/><circle cx="1244.7" cy="514.3" r="8" fill="#bc6109"/><circle cx="1195.6" cy="556.8" r="8" fill="#a75206"/><circle cx="1133.4" cy="522.8" r="8" fill="#914507"/><circle cx="1198.9" cy="505.8" r="8" fill="#b45906"/><circle cx="1190.2" cy="531.3" r="8" fill="#b55a07"/><circle cx="1653.9" cy="514.3" r="8" fill="#998fbf"/><circle cx="1152.7" cy="522.8" r="8" fill="#a55007"/><circle cx="1520.9" cy="514.3" r="8" fill="#2d004b"/><circle cx="1245.7" cy="522.8" r="8" fill="#dc7e13"/><circle cx="1197.0" cy="522.8" r="8" fill="#b35806"/><circle cx="1290.6" cy="514.3" r="8" fill="#f4a84b"/><circle cx="1210.8" cy="539.8" r="8" fill="#ad5506"/><circle cx="1293.5" cy="531.3" r="8" fill="#d1d2e7"/><circle cx="1620.1" cy="514.3" r="8" fill="#aca4cd"/><circle cx="1626.7" cy="522.8" r="8" fill="#7e70aa"/><circle cx="1171.7" cy="522.8" r="8" fill="#964807"/><circle cx="1273.1" cy="531.3" r="8" fill="#fcb761"/><circle cx="1574.6" cy="522.8" r="8" fill="#471a74"/><circle cx="1697.5" cy="514.3" r="8" fill="#471a73"/><circle cx="1218.2" cy="539.8" r="8" fill="#ca6d0d"/><circle cx="1627.3" cy="514.3" r="8" fill="#745ea2"/><circle cx="1804.0" cy="522.8" r="8" fill="#8073ac"/>
</g>
<g>
<circle cx="1277.0" cy="627.2" r="8" fill="#beb9da"/><circle cx="1373.3" cy="635.7" r="8" fill="#e9932d"/><circle cx="1294.9" cy="644.2" r="8" fill="#cecde4"/><circle cx="1620.0" cy="644.2" r="8" fill="#ca6d0d"/><circle cx="1303.9" cy="610.2" r="8" fill="#fce8cc"/><circle cx="1297.3" cy="618.7" r="8" fill="#fedcae"/><circle cx="1254.6" cy="678.2" r="8" fill="#b2abd2"/><circle cx="1317.5" cy="644.2" r="8" fill="#fedbab"/><circle cx="1199.4" cy="627.2" r="8" fill="#5a318d"/><circle cx="1385.1" cy="644.2" r="8" fill="#984907"/><circle cx="1645.0" cy="644.2" r="8" fill="#ca6d0d"/><circle cx="1166.1" cy="627.2" r="8" fill="#461972"/><circle cx="1418.2" cy="644.2" r="8" fill="#b15706"/><circle cx="1184.3" cy="618.7" r="8" fill="#3d1064"/><circle cx="1581.7" cy="644.2" r="8" fill="#a34f07"/><circle cx="1275.0" cy="627.2" r="8" fill="#988ebe"/><circle cx="1198.1" cy="661.2" r="8" fill="#5c358e"/><circle cx="1279.0" cy="678.2" r="8" fill="#aaa2cc"/><circle cx="1463.6" cy="644.2" r="8" fill="#cd710e"/><circle cx="1166.4" cy="652.7" r="8" fill="#3b0e62"/><circle cx="1272.3" cy="669.7" r="8" fill="#9b91c0"/><circle cx="1234.8" cy="661.2" r="8" fill="#8d82b6"/><circle cx="1247.3" cy="669.7" r="8" fill="#8e83b7"/><circle cx="1157.6" cy="644.2" r="8" fill="#522585"/><circle cx="1265.6" cy="644.2" r="8" fill="#c5c2de"/><circle cx="1233.3" cy="618.7" r="8" fill="#b8b3d6"/><circle cx="1236.0" cy="644.2" r="8" fill="#8477af"/><circle cx="1255.2" cy="669.7" r="8" fill="#a69ec9"/><circle cx="1213.3" cy="652.7" r="8" fill="#7e70ab"/><circle cx="1462.4" cy="652.7" r="8" fill="#b25806"/><circle cx="1214.8" cy="627.2" r="8" fill="#8174ad"/><circle cx="1157.9" cy="627.2" r="8" fill="#5b338e"/><circle cx="1311.0" cy="661.2" r="8" fill="#f2a345"/><circle cx="1147.0" cy="644.2" r="8" fill="#43166d"/><circle cx="1187.6" cy="635.7" r="8" fill="#582e8b"/><circle cx="1475.0" cy="635.7" r="8" fill="#cb6f0e"/><circle cx="1353.3" cy="635.7" r="8" fill="#de8013"/><circle cx="1190.5" cy="644.2" r="8" fill="#562a89"/><circle cx="1482.7" cy="644.2" r="8" fill="#c1650a"/><circle cx="1238.6" cy="635.7" r="8" fill="#8f84b7"/><circle cx="1315.7" cy="627.2" r="8" fill="#c5c2de"/><circle cx="1553.2" cy="635.7" r="8" fill="#bf630a"/><circle cx="1274.6" cy="610.2" r="8" fill="#c6c4df"/><circle cx="1285.3" cy="644.2" r="8" fill="#a9a1cb"/><circle cx="1260.1" cy="618.7" r="8" fill="#9186b9"/><circle cx="1263.4" cy="635.7" r="8" fill="#aaa2cc"/><circle cx="1182.1" cy="661.2" r="8" fill="#9186b9"/><circle cx="1193.2" cy="652.7" r="8" fill="#461973"/><circle cx="1294.3" cy="627.2" r="8" fill="#fde2bb"/><circle cx="1583.7" cy="635.7" r="8" fill="#a24f07"/><circle cx="1330.3" cy="635.7" r="8" fill="#ef9e3d"/><circle cx="1363.5" cy="644.2" r="8" fill="#fed59e"/><circle cx="1566.5" cy="635.7" r="8" fill="#a75106"/><circle cx="1505.7" cy="635.7" r="8" fill="#c1650a"/><circle cx="1299.6" cy="669.7" r="8" fill="#d1d2e7"/><circle cx="1076.0" cy="644.2" r="8" fill="#2d004b"/><circle cx="1572.6" cy="644.2" r="8" fill="#bd6109"/><circle cx="1109.0" cy="644.2" r="8" fill="#360959"/><circle cx="1350.5" cy="661.2" r="8" fill="#bc6009"/><circle cx="1340.3" cy="635.7" r="8" fill="#fdb762"/><circle cx="1285.4" cy="669.7" r="8" fill="#9d93c2"/><circle cx="1809.0" cy="644.2" r="8" fill="#944707"/><circle cx="1246.5" cy="601.7" r="8" fill="#a89fca"/><circle cx="1608.2" cy="644.2" r="8" fill="#b05706"/><circle cx="1632.0" cy="644.2" r="8" fill="#ca6d0d"/><circle cx="1297.0" cy="635.7" r="8" fill="#f1f2f5"/><circle cx="1448.3" cy="644.2" r="8" fill="#bb5f08"/><circle cx="1820.0" cy="644.2" r="8" fill="#944707"/><circle cx="1176.7" cy="627.2" r="8" fill="#310452"/><circle cx="1250.8" cy="635.7" r="8" fill="#a39bc7"/><circle cx="1250.2" cy="610.2" r="8" fill="#a299c6"/><circle cx="1562.2" cy="635.7" r="8" fill="#a65107"/><circle cx="1234.8" cy="652.7" r="8" fill="#8e83b7"/><circle cx="1871.0" cy="644.2" r="8" fill="#a34f07"/><circle cx="1542.3" cy="644.2" r="8" fill="#ae5506"/><circle cx="1250.7" cy="644.2" r="8" fill="#c8c6e1"/><circle cx="1342.8" cy="644.2" r="8" fill="#ef9e3d"/><circle cx="1177.6" cy="661.2" r="8" fill="#401369"/><circle cx="1414.2" cy="635.7" r="8" fill="#cf720f"/><circle cx="1320.1" cy="635.7" r="8" fill="#dddfed"/><circle cx="1222.0" cy="627.2" r="8" fill="#481b75"/><circle cx="1128.9" cy="644.2" r="8" fill="#2d004b"/><circle cx="1475.1" cy="644.2" r="8" fill="#b55906"/><circle cx="1139.2" cy="644.2" r="8" fill="#2d004b"/><circle cx="1253.6" cy="627.2" r="8" fill="#a299c6"/><circle cx="1263.8" cy="618.7" r="8" fill="#b5afd4"/><circle cx="1318.0" cy="652.7" r="8" fill="#f4a74a"/><circle cx="1660.0" cy="644.2" r="8" fill="#994a07"/><circle cx="1222.6" cy="635.7" r="8" fill="#5e3890"/><circle cx="1214.7" cy="661.2" r="8" fill="#6a4d9a"/><circle cx="1171.0" cy="661.2" r="8" fill="#44176e"/><circle cx="1372.7" cy="635.7" r="8" fill="#bc6109"/><circle cx="1396.5" cy="635.7" r="8" fill="#d77a11"/><circle cx="1143.1" cy="652.7" r="8" fill="#310451"/><circle cx="1155.8" cy="644.2" r="8" fill="#320553"/><circle cx="1533.1" cy="644.2" r="8" fill="#a24f07"/><circle cx="1200.0" cy="652.7" r="8" fill="#867ab1"/><circle cx="1279.2" cy="610.2" r="8" fill="#b8b3d6"/><circle cx="1173.1" cy="618.7" r="8" fill="#8b7fb4"/><circle cx="1096.9" cy="644.2" r="8" fill="#320553"/><circle cx="1571.2" cy="644.2" r="8" fill="#a65106"/><circle cx="1592.7" cy="635.7" r="8" fill="#974807"/><circle cx="1289.7" cy="610.2" r="8" fill="#fecc8d"/><circle cx="1229.1" cy="635.7" r="8" fill="#9e95c3"/><circle cx="1279.1" cy="618.7" r="8" fill="#968cbd"/><circle cx="1561.7" cy="644.2" r="8" fill="#aa5306"/><circle cx="1246.7" cy="627.2" r="8" fill="#7967a6"/><circle cx="1204.1" cy="644.2" r="8" fill="#735da2"/><circle cx="1310.4" cy="652.7" r="8" fill="#e2e3ef"/><circle cx="1140.4" cy="635.7" r="8" fill="#390c5d"/><circle cx="1289.3" cy="661.2" r="8" fill="#a79fca"/><circle cx="1243.9" cy="618.7" r="8" fill="#8e83b7"/><circle cx="1321.7" cy="627.2" r="8" fill="#fed6a2"/><circle cx="1302.7" cy="661.2" r="8" fill="#c0bddc"/><circle cx="1355.7" cy="627.2" r="8" fill="#de8013"/><circle cx="1222.6" cy="652.7" r="8" fill="#603b91"/><circle cx="1328.8" cy="661.2" r="8" fill="#f7ad53"/><circle cx="1262.4" cy="661.2" r="8" fill="#8e83b7"/><circle cx="1572.2" cy="635.7" r="8" fill="#a95206"/><circle cx="1595.8" cy="644.2" r="8" fill="#8e4307"/><circle cx="1105.2" cy="644.2" r="8" fill="#2d004b"/><circle cx="1294.0" cy="652.7" r="8" fill="#cfcee5"/><circle cx="1489.8" cy="644.2" r="8" fill="#a65107"/><circle cx="1240.7" cy="644.2" r="8" fill="#bdb8d9"/><circle cx="1238.3" cy="669.7" r="8" fill="#9b92c1"/><circle cx="1318.4" cy="661.2" r="8" fill="#fdcb8b"/><circle cx="1529.8" cy="635.7" r="8" fill="#bd6209"/><circle cx="1481.7" cy="635.7" r="8" fill="#c0640a"/><circle cx="1443.4" cy="644.2" r="8" fill="#b25706"/><circle cx="1185.4" cy="627.2" r="8" fill="#5f3991"/><circle cx="1525.7" cy="644.2" r="8" fill="#b55a07"/><circle cx="1298.5" cy="644.2" r="8" fill="#fdbc6c"/><circle cx="1356.0" cy="644.2" r="8" fill="#ca6d0d"/><circle cx="1261.0" cy="652.7" r="8" fill="#a59cc8"/><circle cx="1282.9" cy="635.7" r="8" fill="#bbb6d8"/><circle cx="1457.7" cy="635.7" r="8" fill="#a85206"/><circle cx="1243.7" cy="627.2" r="8" fill="#a198c5"/><circle cx="1465.6" cy="635.7" r="8" fill="#be6209"/><circle cx="1431.8" cy="635.7" r="8" fill="#d47710"/><circle cx="1307.4" cy="635.7" r="8" fill="#fce7cb"/><circle cx="1329.0" cy="652.7" r="8" fill="#fbb45d"/><circle cx="1213.5" cy="635.7" r="8" fill="#43166e"/><circle cx="1599.9" cy="635.7" r="8" fill="#924607"/><circle cx="1293.1" cy="661.2" r="8" fill="#faeddc"/><circle cx="1540.3" cy="635.7" r="8" fill="#d67911"/><circle cx="1349.9" cy="652.7" r="8" fill="#ec9834"/><circle cx="1297.3" cy="635.7" r="8" fill="#e7e8f1"/><circle cx="1703.0" cy="652.2" r="8" fill="#8f4407"/><circle cx="1184.6" cy="644.2" r="8" fill="#5c358f"/><circle cx="1289.4" cy="652.7" r="8" fill="#735da1"/><circle cx="1252.8" cy="618.7" r="8" fill="#a49bc7"/><circle cx="1255.8" cy="644.2" r="8" fill="#887cb2"/><circle cx="1172.5" cy="644.2" r="8" fill="#5e3990"/><circle cx="1285.8" cy="618.7" r="8" fill="#9c92c1"/><circle cx="1287.3" cy="635.7" r="8" fill="#6d529c"/><circle cx="1255.4" cy="610.2" r="8" fill="#bebada"/><circle cx="1196.9" cy="635.7" r="8" fill="#582f8c"/><circle cx="1180.4" cy="635.7" r="8" fill="#613e93"/><circle cx="1498.3" cy="644.2" r="8" fill="#ad5506"/><circle cx="1341.7" cy="644.2" r="8" fill="#e9932d"/><circle cx="1506.9" cy="644.2" r="8" fill="#bf630a"/><circle cx="1125.7" cy="635.7" r="8" fill="#2d004b"/><circle cx="1269.3" cy="618.7" r="8" fill="#8275ad"/><circle cx="1550.3" cy="644.2" r="8" fill="#b05606"/><circle cx="1199.0" cy="635.7" r="8" fill="#7b6aa8"/><circle cx="1148.8" cy="635.7" r="8" fill="#471a73"/><circle cx="1177.3" cy="644.2" r="8" fill="#582d8b"/><circle cx="1249.4" cy="652.7" r="8" fill="#8a7eb3"/><circle cx="1510.3" cy="635.7" r="8" fill="#c1650a"/><circle cx="1246.8" cy="661.2" r="8" fill="#a79fca"/><circle cx="1359.0" cy="635.7" r="8" fill="#f3a446"/><circle cx="1948.0" cy="644.2" r="8" fill="#8f4407"/><circle cx="1189.7" cy="627.2" r="8" fill="#7e6faa"/><circle cx="1324.7" cy="661.2" r="8" fill="#fecf93"/><circle cx="1374.0" cy="652.7" r="8" fill="#f9b159"/><circle cx="1302.2" cy="678.2" r="8" fill="#fedeb1"/><circle cx="1423.2" cy="635.7" r="8" fill="#a85206"/><circle cx="1709.0" cy="644.2" r="8" fill="#8f4407"/><circle cx="1655.0" cy="644.2" r="8" fill="#994a07"/><circle cx="1533.8" cy="635.7" r="8" fill="#be630a"/><circle cx="1111.1" cy="635.7" r="8" fill="#36095a"/><circle cx="1272.1" cy="661.2" r="8" fill="#998fbf"/><circle cx="1213.1" cy="644.2" r="8" fill="#988ebe"/><circle cx="1259.3" cy="661.2" r="8" fill="#9e95c3"/><circle cx="1682.0" cy="644.2" r="8" fill="#8f4407"/><circle cx="1455.1" cy="644.2" r="8" fill="#b25706"/><circle cx="1458.8" cy="652.7" r="8" fill="#cc6f0e"/><circle cx="1323.4" cy="644.2" r="8" fill="#e68d24"/><circle cx="1371.0" cy="627.2" r="8" fill="#fdc074"/><circle cx="1390.6" cy="644.2" r="8" fill="#c86b0c"/><circle cx="1119.0" cy="635.7" r="8" fill="#330654"/><circle cx="1700.0" cy="637.2" r="8" fill="#8f4407"/><circle cx="1240.6" cy="610.2" r="8" fill="#978cbd"/><circle cx="1360.5" cy="652.7" r="8" fill="#e58a20"/><circle cx="1408.2" cy="644.2" r="8" fill="#b35806"/><circle cx="1301.7" cy="601.7" r="8" fill="#fee1b8"/><circle cx="1208.7" cy="627.2" r="8" fill="#7764a5"/><circle cx="1230.3" cy="669.7" r="8" fill="#7b6ba8"/><circle cx="1423.8" cy="644.2" r="8" fill="#a65106"/><circle cx="1437.3" cy="652.7" r="8" fill="#c1650a"/><circle cx="1388.4" cy="635.7" r="8" fill="#b25806"/><circle cx="1361.7" cy="627.2" r="8" fill="#ee9c39"/><circle cx="1439.3" cy="635.7" r="8" fill="#b35806"/><circle cx="1207.7" cy="652.7" r="8" fill="#3f1268"/><circle cx="1430.9" cy="644.2" r="8" fill="#b45906"/><circle cx="1277.7" cy="652.7" r="8" fill="#887cb2"/><circle cx="1124.3" cy="644.2" r="8" fill="#380b5c"/><circle cx="1290.7" cy="669.7" r="8" fill="#fee2bb"/><circle cx="1382.9" cy="635.7" r="8" fill="#c2660b"/><circle cx="1164.5" cy="652.7" r="8" fill="#654496"/><circle cx="1210.7" cy="635.7" r="8" fill="#491c77"/><circle cx="1408.7" cy="635.7" r="8" fill="#a24f07"/><circle cx="1240.4" cy="661.2" r="8" fill="#b3acd3"/><circle cx="1191.4" cy="661.2" r="8" fill="#491c77"/><circle cx="1275.7" cy="635.7" r="8" fill="#958bbc"/><circle cx="1605.8" cy="635.7" r="8" fill="#873f08"/><circle cx="1498.7" cy="635.7" r="8" fill="#9b4b07"/><circle cx="1325.8" cy="635.7" r="8" fill="#fde4c2"/><circle cx="1258.3" cy="635.7" r="8" fill="#958bbc"/><circle cx="1210.3" cy="644.2" r="8" fill="#4a1d78"/><circle cx="1516.5" cy="644.2" r="8" fill="#cf720f"/><circle cx="1324.3" cy="652.7" r="8" fill="#cfcfe5"/><circle cx="1366.1" cy="644.2" r="8" fill="#fbb55e"/><circle cx="1352.4" cy="652.7" r="8" fill="#ed9a38"/><circle cx="1278.2" cy="669.7" r="8" fill="#998fbf"/><circle cx="1282.8" cy="644.2" r="8" fill="#8e82b6"/><circle cx="1187.9" cy="652.7" r="8" fill="#4a1d78"/><circle cx="1312.5" cy="627.2" r="8" fill="#fee1b9"/><circle cx="1290.8" cy="627.2" r="8" fill="#aca4ce"/><circle cx="1329.1" cy="627.2" r="8" fill="#ea942e"/><circle cx="1160.3" cy="635.7" r="8" fill="#41146a"/><circle cx="1230.8" cy="627.2" r="8" fill="#948abb"/><circle cx="1340.9" cy="652.7" r="8" fill="#d9dbeb"/><circle cx="1246.2" cy="678.2" r="8" fill="#aaa3cc"/><circle cx="1298.2" cy="652.7" r="8" fill="#fdc782"/><circle cx="1256.8" cy="601.7" r="8" fill="#998fbf"/><circle cx="1449.3" cy="635.7" r="8" fill="#c5690c"/><circle cx="1782.0" cy="644.2" r="8" fill="#8f4407"/><circle cx="1516.0" cy="635.7" r="8" fill="#b25806"/><circle cx="1515.4" cy="644.2" r="8" fill="#cc700e"/><circle cx="1347.9" cy="635.7" r="8" fill="#fdc37a"/><circle cx="1225.9" cy="644.2" r="8" fill="#a097c4"/><circle cx="1272.6" cy="652.7" r="8" fill="#c3c0dd"/><circle cx="1311.4" cy="669.7" r="8" fill="#eaebf2"/><circle cx="1295.6" cy="618.7" r="8" fill="#d3d4e8"/><circle cx="1262.6" cy="627.2" r="8" fill="#9489bb"/><circle cx="1269.9" cy="644.2" r="8" fill="#9f96c4"/><circle cx="1176.1" cy="652.7" r="8" fill="#43166e"/><circle cx="1305.5" cy="618.7" r="8" fill="#fdb966"/><circle cx="1173.0" cy="635.7" r="8" fill="#7159a0"/><circle cx="1372.2" cy="644.2" r="8" fill="#b35806"/><circle cx="1238.8" cy="652.7" r="8" fill="#9287b9"/><circle cx="1333.1" cy="644.2" r="8" fill="#f2a344"/><circle cx="1599.7" cy="644.2" r="8" fill="#974907"/><circle cx="1150.6" cy="627.2" r="8" fill="#3c0f62"/><circle cx="1403.1" cy="644.2" r="8" fill="#c76a0c"/><circle cx="1489.9" cy="635.7" r="8" fill="#b25706"/><circle cx="1303.2" cy="627.2" r="8" fill="#c9c7e1"/><circle cx="1757.0" cy="644.2" r="8" fill="#8f4407"/><circle cx="1156.8" cy="635.7" r="8" fill="#320553"/><circle cx="1257.2" cy="652.7" r="8" fill="#7b6ba8"/><circle cx="1279.4" cy="661.2" r="8" fill="#c5c2de"/><circle cx="1155.8" cy="652.7" r="8" fill="#451871"/><circle cx="1307.1" cy="644.2" r="8" fill="#f7ad52"/>
</g>
<g>
<circle cx="1303.4" cy="765.6" r="8" fill="#a04e07"/><circle cx="1106.3" cy="748.6" r="8" fill="#2d004b"/><circle cx="1429.2" cy="782.6" r="8" fill="#f0a040"/><circle cx="1462.1" cy="740.1" r="8" fill="#f9b058"/><circle cx="1180.0" cy="765.6" r="8" fill="#d8daeb"/><circle cx="1394.4" cy="782.6" r="8" fill="#d77a11"/><circle cx="1439.7" cy="782.6" r="8" fill="#f3a649"/><circle cx="1433.5" cy="740.1" r="8" fill="#fdc175"/><circle cx="1351.6" cy="774.1" r="8" fill="#e79028"/><circle cx="1373.8" cy="782.6" r="8" fill="#e68c23"/><circle cx="1422.9" cy="782.6" r="8" fill="#eb9732"/><circle cx="1399.3" cy="731.6" r="8" fill="#d27510"/><circle cx="1141.7" cy="765.6" r="8" fill="#2d004b"/><circle cx="1344.7" cy="757.1" r="8" fill="#f9f0e4"/><circle cx="1455.9" cy="782.6" r="8" fill="#fdbc6b"/><circle cx="1337.8" cy="731.6" r="8" fill="#fedbab"/><circle cx="1351.4" cy="748.6" r="8" fill="#f5a94c"/><circle cx="987.0" cy="771.6" r="8" fill="#542788"/><circle cx="1078.7" cy="765.6" r="8" fill="#2d004b"/><circle cx="1569.5" cy="765.6" r="8" fill="#d87b12"/><circle cx="1532.4" cy="765.6" r="8" fill="#df8114"/><circle cx="1298.3" cy="748.6" r="8" fill="#7a68a7"/><circle cx="1464.9" cy="774.1" r="8" fill="#f3a648"/><circle cx="1278.0" cy="773.6" r="8" fill="#f1f1f5"/><circle cx="1393.0" cy="799.6" r="8" fill="#ec9834"/><circle cx="1450.4" cy="765.6" r="8" fill="#f8af56"/><circle cx="1424.4" cy="774.1" r="8" fill="#fde3bf"/><circle cx="1308.5" cy="757.1" r="8" fill="#8e4307"/><circle cx="1331.5" cy="774.1" r="8" fill="#fce6c6"/><circle cx="1432.2" cy="791.1" r="8" fill="#f5a94d"/><circle cx="1549.7" cy="765.6" r="8" fill="#ca6e0d"/><circle cx="1594.3" cy="765.6" r="8" fill="#b65a07"/><circle cx="1522.7" cy="765.6" r="8" fill="#cd700e"/><circle cx="1120.3" cy="757.1" r="8" fill="#320553"/><circle cx="1340.0" cy="791.1" r="8" fill="#fedfb3"/><circle cx="1247.0" cy="765.6" r="8" fill="#d8daeb"/><circle cx="1097.4" cy="748.6" r="8" fill="#2d004b"/><circle cx="1407.4" cy="765.6" r="8" fill="#dd7f13"/><circle cx="1385.5" cy="782.6" r="8" fill="#dc7e13"/><circle cx="1436.5" cy="774.1" r="8" fill="#eb9733"/><circle cx="1445.7" cy="782.6" r="8" fill="#f3a548"/><circle cx="1308.5" cy="782.6" r="8" fill="#8c81b5"/><circle cx="1309.5" cy="740.1" r="8" fill="#873f08"/><circle cx="1312.8" cy="757.1" r="8" fill="#a75106"/><circle cx="1376.4" cy="757.1" r="8" fill="#d77911"/><circle cx="1388.5" cy="740.1" r="8" fill="#b65b07"/><circle cx="1346.6" cy="765.6" r="8" fill="#fecd8f"/><circle cx="1299.7" cy="782.6" r="8" fill="#a85206"/><circle cx="1455.1" cy="774.1" r="8" fill="#fdbe70"/><circle cx="1407.6" cy="757.1" r="8" fill="#e78e26"/><circle cx="1070.5" cy="757.1" r="8" fill="#2f024e"/><circle cx="1367.4" cy="748.6" r="8" fill="#d1740f"/><circle cx="1425.3" cy="757.1" r="8" fill="#db7e13"/><circle cx="1394.6" cy="765.6" r="8" fill="#c86c0d"/><circle cx="1350.5" cy="782.6" r="8" fill="#df8114"/><circle cx="1413.1" cy="748.6" r="8" fill="#e78f27"/><circle cx="1327.2" cy="765.6" r="8" fill="#a04d07"/><circle cx="985.0" cy="759.6" r="8" fill="#542788"/><circle cx="1292.0" cy="774.1" r="8" fill="#aa5306"/><circle cx="1317.8" cy="774.1" r="8" fill="#874008"/><circle cx="1391.4" cy="782.6" r="8" fill="#cc6f0e"/><circle cx="1324.4" cy="765.6" r="8" fill="#fbe9d0"/><circle cx="1133.3" cy="765.6" r="8" fill="#2d004b"/><circle cx="1352.9" cy="740.1" r="8" fill="#fedbac"/><circle cx="1339.3" cy="740.1" r="8" fill="#fdc986"/><circle cx="1077.5" cy="757.1" r="8" fill="#2d004b"/><circle cx="1388.0" cy="731.6" r="8" fill="#f8f4ed"/><circle cx="1325.3" cy="740.1" r="8" fill="#b05606"/><circle cx="1115.6" cy="757.1" r="8" fill="#320552"/><circle cx="1092.2" cy="774.1" r="8" fill="#2d004b"/><circle cx="1460.9" cy="731.6" r="8" fill="#fdc57f"/><circle cx="1107.3" cy="765.6" r="8" fill="#2d004b"/><circle cx="1102.3" cy="774.1" r="8" fill="#2d004b"/><circle cx="1442.9" cy="791.1" r="8" fill="#ec9936"/><circle cx="1459.5" cy="782.6" r="8" fill="#fed39c"/><circle cx="1222.0" cy="757.6" r="8" fill="#c5c2de"/><circle cx="1135.4" cy="757.1" r="8" fill="#2d004b"/><circle cx="1602.6" cy="765.6" r="8" fill="#bf630a"/><circle cx="1171.6" cy="757.1" r="8" fill="#4b1e7a"/><circle cx="1433.0" cy="748.6" r="8" fill="#fcb660"/><circle cx="1426.0" cy="765.6" r="8" fill="#f4a749"/><circle cx="1085.7" cy="757.1" r="8" fill="#3b0e61"/><circle cx="1126.7" cy="774.1" r="8" fill="#320553"/><circle cx="1130.5" cy="765.6" r="8" fill="#2d004b"/><circle cx="1093.7" cy="765.6" r="8" fill="#2d004b"/><circle cx="1346.5" cy="731.6" r="8" fill="#fdc47b"/><circle cx="1296.1" cy="765.6" r="8" fill="#833d08"/><circle cx="1113.0" cy="774.1" r="8" fill="#340755"/><circle cx="1448.7" cy="748.6" r="8" fill="#fecf92"/><circle cx="1465.4" cy="757.1" r="8" fill="#fdbc6a"/><circle cx="1365.6" cy="757.1" r="8" fill="#d27510"/><circle cx="1436.5" cy="748.6" r="8" fill="#f4a74b"/><circle cx="1450.5" cy="791.1" r="8" fill="#e3881d"/><circle cx="1270.0" cy="765.6" r="8" fill="#f1f1f5"/><circle cx="1457.3" cy="740.1" r="8" fill="#dd7f13"/><circle cx="1410.7" cy="774.1" r="8" fill="#fdc885"/><circle cx="1091.4" cy="774.1" r="8" fill="#2d004b"/><circle cx="1362.0" cy="782.6" r="8" fill="#d77911"/><circle cx="1455.1" cy="757.1" r="8" fill="#f4a74a"/><circle cx="1371.4" cy="774.1" r="8" fill="#d77a11"/><circle cx="1152.2" cy="765.6" r="8" fill="#310451"/><circle cx="1411.5" cy="782.6" r="8" fill="#f7ad53"/><circle cx="1330.2" cy="748.6" r="8" fill="#a34f07"/><circle cx="1615.7" cy="765.6" r="8" fill="#d0730f"/><circle cx="1383.0" cy="748.6" r="8" fill="#8073ac"/><circle cx="1465.6" cy="765.6" r="8" fill="#fbb35c"/><circle cx="1147.3" cy="774.1" r="8" fill="#320553"/><circle cx="1282.9" cy="757.1" r="8" fill="#f9f2e8"/><circle cx="1104.9" cy="757.1" r="8" fill="#2f024e"/><circle cx="1384.7" cy="765.6" r="8" fill="#f5f5f6"/><circle cx="1186.0" cy="756.6" r="8" fill="#d8daeb"/><circle cx="1742.0" cy="765.6" r="8" fill="#d77a11"/><circle cx="1361.1" cy="765.6" r="8" fill="#e9932c"/><circle cx="1318.1" cy="748.6" r="8" fill="#a04d07"/><circle cx="1449.3" cy="774.1" r="8" fill="#f1a243"/><circle cx="1290.8" cy="757.1" r="8" fill="#a44f07"/><circle cx="1070.2" cy="765.6" r="8" fill="#390c5e"/><circle cx="1462.6" cy="748.6" r="8" fill="#f7f7f7"/><circle cx="1321.2" cy="757.1" r="8" fill="#a04d07"/><circle cx="1393.9" cy="774.1" r="8" fill="#f2a446"/><circle cx="1162.0" cy="765.6" r="8" fill="#3a0d60"/><circle cx="1312.6" cy="782.6" r="8" fill="#aa5306"/><circle cx="1388.3" cy="791.1" r="8" fill="#cf720f"/><circle cx="1313.4" cy="774.1" r="8" fill="#894108"/><circle cx="1210.0" cy="765.6" r="8" fill="#c1bedc"/><circle cx="1462.8" cy="791.1" r="8" fill="#f5a94d"/><circle cx="1330.2" cy="748.6" r="8" fill="#fbebd5"/><circle cx="1090.1" cy="765.6" r="8" fill="#2d004b"/><circle cx="1153.2" cy="757.1" r="8" fill="#42156c"/><circle cx="1134.7" cy="774.1" r="8" fill="#2d004b"/><circle cx="1328.1" cy="782.6" r="8" fill="#803b08"/><circle cx="1288.2" cy="748.6" r="8" fill="#914507"/><circle cx="1423.5" cy="740.1" r="8" fill="#fdbf71"/><circle cx="1400.2" cy="748.6" r="8" fill="#d0730f"/><circle cx="1339.1" cy="782.6" r="8" fill="#f8f4ef"/><circle cx="1306.3" cy="748.6" r="8" fill="#b75c07"/><circle cx="1342.5" cy="765.6" r="8" fill="#fdc884"/><circle cx="1394.5" cy="791.1" r="8" fill="#d47710"/><circle cx="1349.0" cy="757.1" r="8" fill="#f5a94e"/><circle cx="1440.5" cy="765.6" r="8" fill="#f3a648"/><circle cx="1405.3" cy="774.1" r="8" fill="#fdbf72"/><circle cx="1166.7" cy="774.1" r="8" fill="#3d1064"/><circle cx="1336.8" cy="757.1" r="8" fill="#fdc37a"/><circle cx="1362.9" cy="782.6" r="8" fill="#e48a20"/><circle cx="1361.8" cy="757.1" r="8" fill="#fdc57e"/><circle cx="1435.4" cy="757.1" r="8" fill="#f2a344"/><circle cx="1424.3" cy="765.6" r="8" fill="#e18518"/><circle cx="1449.2" cy="731.6" r="8" fill="#fdbc6b"/><circle cx="1092.6" cy="757.1" r="8" fill="#380b5c"/><circle cx="1061.9" cy="765.6" r="8" fill="#2d004b"/><circle cx="1400.8" cy="774.1" r="8" fill="#e58c23"/><circle cx="1395.2" cy="799.6" r="8" fill="#cd700e"/><circle cx="1377.0" cy="740.1" r="8" fill="#da7d12"/><circle cx="1165.3" cy="765.6" r="8" fill="#4d207e"/><circle cx="1348.6" cy="799.6" r="8" fill="#fbebd6"/><circle cx="1531.0" cy="765.6" r="8" fill="#b55a07"/><circle cx="1342.4" cy="774.1" r="8" fill="#eeeff4"/><circle cx="1364.8" cy="774.1" r="8" fill="#f2a446"/><circle cx="1017.0" cy="765.6" r="8" fill="#542788"/><circle cx="1124.0" cy="757.1" r="8" fill="#2d004b"/><circle cx="1357.2" cy="774.1" r="8" fill="#fdba66"/><circle cx="1236.0" cy="765.6" r="8" fill="#d0d1e6"/><circle cx="1349.3" cy="791.1" r="8" fill="#fce6c6"/><circle cx="1339.2" cy="731.6" r="8" fill="#fed49e"/><circle cx="1109.3" cy="765.6" r="8" fill="#2d004b"/><circle cx="1309.1" cy="765.6" r="8" fill="#ab5306"/><circle cx="1034.0" cy="765.6" r="8" fill="#5d368f"/><circle cx="1382.0" cy="740.1" r="8" fill="#ee9c3a"/><circle cx="1156.9" cy="774.1" r="8" fill="#320553"/><circle cx="1389.6" cy="757.1" r="8" fill="#d87b12"/><circle cx="1448.7" cy="740.1" r="8" fill="#f5aa4e"/><circle cx="1448.9" cy="757.1" r="8" fill="#fdc986"/><circle cx="1224.0" cy="773.6" r="8" fill="#cdcce4"/><circle cx="1389.7" cy="748.6" r="8" fill="#d47710"/><circle cx="1372.1" cy="791.1" r="8" fill="#f5f5f6"/><circle cx="1327.1" cy="757.1" r="8" fill="#964807"/><circle cx="1371.1" cy="731.6" r="8" fill="#ec9834"/><circle cx="1378.6" cy="757.1" r="8" fill="#cd700e"/><circle cx="1413.7" cy="757.1" r="8" fill="#e68d24"/><circle cx="1365.0" cy="791.1" r="8" fill="#fdc782"/><circle cx="1374.8" cy="799.6" r="8" fill="#c76b0c"/><circle cx="1200.0" cy="765.6" r="8" fill="#bab4d7"/><circle cx="1292.9" cy="782.6" r="8" fill="#b25806"/><circle cx="1333.7" cy="765.6" r="8" fill="#f9b058"/><circle cx="1387.8" cy="765.6" r="8" fill="#e78e26"/><circle cx="1140.4" cy="757.1" r="8" fill="#300350"/><circle cx="1335.4" cy="740.1" r="8" fill="#fbebd4"/><circle cx="1416.5" cy="765.6" r="8" fill="#ee9c3a"/><circle cx="1294.7" cy="757.1" r="8" fill="#914507"/><circle cx="1186.0" cy="774.6" r="8" fill="#d0d1e6"/><circle cx="1114.0" cy="748.6" r="8" fill="#2d004b"/><circle cx="1377.2" cy="765.6" r="8" fill="#7c6da9"/><circle cx="997.0" cy="765.6" r="8" fill="#2d004b"/><circle cx="1428.0" cy="757.1" r="8" fill="#f2f2f5"/><circle cx="1557.7" cy="765.6" r="8" fill="#d0730f"/><circle cx="1333.0" cy="782.6" r="8" fill="#f8f3eb"/><circle cx="1332.5" cy="774.1" r="8" fill="#bfbbdb"/><circle cx="1364.0" cy="740.1" r="8" fill="#e28519"/><circle cx="1423.6" cy="748.6" r="8" fill="#f0a141"/><circle cx="1341.5" cy="799.6" r="8" fill="#b05606"/><circle cx="1626.7" cy="765.6" r="8" fill="#974807"/><circle cx="1277.7" cy="765.6" r="8" fill="#a85206"/><circle cx="1307.8" cy="740.1" r="8" fill="#7f3b08"/><circle cx="1293.6" cy="774.1" r="8" fill="#a75106"/><circle cx="1316.3" cy="748.6" r="8" fill="#faeddc"/><circle cx="1454.6" cy="748.6" r="8" fill="#f4a74b"/><circle cx="1479.3" cy="765.6" r="8" fill="#b05706"/><circle cx="1357.0" cy="748.6" r="8" fill="#f8ae55"/><circle cx="1342.5" cy="748.6" r="8" fill="#fecc8d"/><circle cx="1400.4" cy="757.1" r="8" fill="#c2660b"/><circle cx="1306.9" cy="774.1" r="8" fill="#ae5506"/><circle cx="1427.8" cy="774.1" r="8" fill="#fbb55f"/><circle cx="1290.8" cy="765.6" r="8" fill="#f8f3ed"/><circle cx="1371.9" cy="748.6" r="8" fill="#f7f7f7"/><circle cx="1332.5" cy="791.1" r="8" fill="#d4d5e8"/><circle cx="1159.5" cy="757.1" r="8" fill="#532686"/><circle cx="1366.1" cy="765.6" r="8" fill="#fdc783"/><circle cx="1444.6" cy="765.6" r="8" fill="#f3a548"/><circle cx="1400.9" cy="740.1" r="8" fill="#cf720f"/><circle cx="1573.7" cy="765.6" r="8" fill="#b75b07"/><circle cx="1106.8" cy="782.6" r="8" fill="#2d004b"/><circle cx="1116.1" cy="765.6" r="8" fill="#330655"/><circle cx="1256.0" cy="765.6" r="8" fill="#dee0ed"/><circle cx="1365.6" cy="731.6" r="8" fill="#c86b0c"/><circle cx="1056.2" cy="765.6" r="8" fill="#310451"/><circle cx="1381.6" cy="774.1" r="8" fill="#d57811"/>
</g>
<g>
<circle cx="1378.1" cy="878.5" r="8" fill="#e89029"/><circle cx="1217.6" cy="895.5" r="8" fill="#9b91c0"/><circle cx="1179.8" cy="878.5" r="8" fill="#4d207d"/><circle cx="1301.3" cy="878.5" r="8" fill="#c7c5e0"/><circle cx="1236.8" cy="887.0" r="8" fill="#a39bc7"/><circle cx="1425.6" cy="878.5" r="8" fill="#ca6e0d"/><circle cx="1259.0" cy="861.5" r="8" fill="#aaa2cc"/><circle cx="1313.9" cy="887.0" r="8" fill="#c7c5e0"/><circle cx="1226.8" cy="870.0" r="8" fill="#7f71ab"/><circle cx="1572.0" cy="887.0" r="8" fill="#c0650a"/><circle cx="1332.7" cy="870.0" r="8" fill="#ea9530"/><circle cx="1276.2" cy="878.5" r="8" fill="#bfbbdb"/><circle cx="1494.6" cy="870.0" r="8" fill="#b55906"/><circle cx="1436.3" cy="895.5" r="8" fill="#e08214"/><circle cx="1508.0" cy="887.0" r="8" fill="#ad5406"/><circle cx="1188.9" cy="870.0" r="8" fill="#2d004b"/><circle cx="1306.0" cy="895.5" r="8" fill="#f8f3ec"/><circle cx="1374.6" cy="895.5" r="8" fill="#c76b0c"/><circle cx="1417.3" cy="895.5" r="8" fill="#da7d12"/><circle cx="1239.7" cy="878.5" r="8" fill="#b7b1d5"/><circle cx="1167.4" cy="878.5" r="8" fill="#370a5a"/><circle cx="1173.6" cy="878.5" r="8" fill="#2f024e"/><circle cx="1206.6" cy="887.0" r="8" fill="#320552"/><circle cx="1407.0" cy="887.0" r="8" fill="#e68d24"/><circle cx="1298.8" cy="887.0" r="8" fill="#d7d8ea"/><circle cx="1473.4" cy="870.0" r="8" fill="#a85206"/><circle cx="1253.3" cy="904.0" r="8" fill="#a69ec9"/><circle cx="1298.3" cy="904.0" r="8" fill="#f7f7f7"/><circle cx="1360.3" cy="878.5" r="8" fill="#ec9834"/><circle cx="1399.8" cy="904.0" r="8" fill="#fed299"/><circle cx="1518.5" cy="878.5" r="8" fill="#ae5506"/><circle cx="1354.0" cy="904.0" r="8" fill="#f5aa4e"/><circle cx="1412.8" cy="895.5" r="8" fill="#f9b057"/><circle cx="1387.4" cy="887.0" r="8" fill="#db7d12"/><circle cx="1338.5" cy="870.0" r="8" fill="#dd7f13"/><circle cx="1228.8" cy="895.5" r="8" fill="#d4d5e9"/><circle cx="1205.6" cy="870.0" r="8" fill="#2d004b"/><circle cx="1337.2" cy="895.5" r="8" fill="#ee9d3b"/><circle cx="1471.2" cy="887.0" r="8" fill="#b85c07"/><circle cx="1388.2" cy="895.5" r="8" fill="#d57811"/><circle cx="1200.7" cy="878.5" r="8" fill="#491c76"/><circle cx="1331.6" cy="878.5" r="8" fill="#ee9b39"/><circle cx="1343.1" cy="895.5" r="8" fill="#e68d23"/><circle cx="1486.6" cy="904.0" r="8" fill="#b65a07"/><circle cx="1438.4" cy="878.5" r="8" fill="#da7c12"/><circle cx="1294.5" cy="878.5" r="8" fill="#a198c5"/><circle cx="1462.5" cy="878.5" r="8" fill="#c3670b"/><circle cx="1438.5" cy="904.0" r="8" fill="#b75c07"/><circle cx="1400.8" cy="912.5" r="8" fill="#e3871c"/><circle cx="1240.8" cy="878.5" r="8" fill="#efeff4"/><circle cx="1534.6" cy="887.0" r="8" fill="#ab5406"/><circle cx="1203.3" cy="895.5" r="8" fill="#654596"/><circle cx="1191.2" cy="887.0" r="8" fill="#5f3991"/><circle cx="1277.6" cy="870.0" r="8" fill="#c4c2de"/><circle cx="1220.2" cy="870.0" r="8" fill="#684a99"/><circle cx="1389.7" cy="904.0" r="8" fill="#e08214"/><circle cx="1295.0" cy="895.5" r="8" fill="#bbb6d8"/><circle cx="1270.7" cy="895.5" r="8" fill="#f8f4f0"/><circle cx="1291.4" cy="887.0" r="8" fill="#c2bfdc"/><circle cx="1270.0" cy="861.5" r="8" fill="#9186b9"/><circle cx="1339.2" cy="878.5" r="8" fill="#ef9e3d"/><circle cx="1399.0" cy="912.5" r="8" fill="#b35806"/><circle cx="1531.6" cy="878.5" r="8" fill="#a75106"/><circle cx="1343.4" cy="904.0" r="8" fill="#e8912b"/><circle cx="1280.6" cy="904.0" r="8" fill="#8578b0"/><circle cx="1362.3" cy="887.0" r="8" fill="#ee9c3a"/><circle cx="1189.3" cy="895.5" r="8" fill="#3d1064"/><circle cx="1395.7" cy="887.0" r="8" fill="#e8912a"/><circle cx="1281.3" cy="912.5" r="8" fill="#b6b0d5"/><circle cx="1435.2" cy="887.0" r="8" fill="#e9922c"/><circle cx="1366.6" cy="895.5" r="8" fill="#f6aa4f"/><circle cx="1486.7" cy="887.0" r="8" fill="#9c4b07"/><circle cx="1444.7" cy="878.5" r="8" fill="#c86c0d"/><circle cx="1178.7" cy="887.0" r="8" fill="#2d004b"/><circle cx="1218.4" cy="887.0" r="8" fill="#471a73"/><circle cx="1274.9" cy="904.0" r="8" fill="#c6c4df"/><circle cx="1299.0" cy="870.0" r="8" fill="#dddeed"/><circle cx="1345.0" cy="887.0" r="8" fill="#bab4d7"/><circle cx="1491.3" cy="887.0" r="8" fill="#894108"/><circle cx="1259.4" cy="904.0" r="8" fill="#f9f2e9"/><circle cx="1373.7" cy="904.0" r="8" fill="#e79028"/><circle cx="1476.4" cy="895.5" r="8" fill="#b25706"/><circle cx="1525.1" cy="887.0" r="8" fill="#a55007"/><circle cx="1453.7" cy="887.0" r="8" fill="#a95306"/><circle cx="1453.8" cy="870.0" r="8" fill="#954707"/><circle cx="1287.4" cy="878.5" r="8" fill="#cfcfe5"/><circle cx="1421.1" cy="887.0" r="8" fill="#d0730f"/><circle cx="1249.9" cy="870.0" r="8" fill="#a198c5"/><circle cx="1399.6" cy="870.0" r="8" fill="#fdbf72"/><circle cx="1335.9" cy="887.0" r="8" fill="#eb9631"/><circle cx="1387.8" cy="870.0" r="8" fill="#dc7f13"/><circle cx="1265.6" cy="904.0" r="8" fill="#bdb9d9"/><circle cx="1287.6" cy="861.5" r="8" fill="#c5c2de"/><circle cx="1417.1" cy="878.5" r="8" fill="#df8114"/><circle cx="1440.6" cy="904.0" r="8" fill="#d27510"/><circle cx="1498.5" cy="878.5" r="8" fill="#ac5406"/><circle cx="1416.2" cy="870.0" r="8" fill="#ec9835"/><circle cx="1433.5" cy="870.0" r="8" fill="#dd7f13"/><circle cx="1479.5" cy="870.0" r="8" fill="#a34f07"/><circle cx="1346.4" cy="887.0" r="8" fill="#eb9732"/><circle cx="1164.0" cy="887.0" r="8" fill="#340756"/><circle cx="1444.9" cy="895.5" r="8" fill="#bd6209"/><circle cx="1370.7" cy="870.0" r="8" fill="#e48a20"/><circle cx="1554.0" cy="887.0" r="8" fill="#c0650a"/><circle cx="1257.8" cy="878.5" r="8" fill="#b5aed4"/><circle cx="1196.5" cy="878.5" r="8" fill="#43166d"/><circle cx="1413.7" cy="861.5" r="8" fill="#ed9a37"/><circle cx="1235.1" cy="912.5" r="8" fill="#8a7eb4"/><circle cx="1361.9" cy="887.0" r="8" fill="#e18518"/><circle cx="1156.0" cy="887.0" r="8" fill="#30034f"/><circle cx="1464.9" cy="895.5" r="8" fill="#b35806"/><circle cx="1526.8" cy="878.5" r="8" fill="#b45906"/><circle cx="1196.6" cy="895.5" r="8" fill="#6b4e9b"/><circle cx="1389.1" cy="878.5" r="8" fill="#e78f27"/><circle cx="1298.3" cy="895.5" r="8" fill="#c5c3df"/><circle cx="1425.4" cy="870.0" r="8" fill="#da7d12"/><circle cx="1320.8" cy="887.0" r="8" fill="#cac8e2"/><circle cx="1321.0" cy="887.0" r="8" fill="#ca6d0d"/><circle cx="1242.3" cy="870.0" r="8" fill="#c1bddc"/><circle cx="1222.3" cy="878.5" r="8" fill="#5a318d"/><circle cx="1259.4" cy="870.0" r="8" fill="#cdcce4"/><circle cx="1359.9" cy="895.5" r="8" fill="#ef9e3d"/><circle cx="1467.8" cy="904.0" r="8" fill="#b85c07"/><circle cx="1495.8" cy="887.0" r="8" fill="#b25706"/><circle cx="1483.8" cy="878.5" r="8" fill="#be6209"/><circle cx="1212.8" cy="878.5" r="8" fill="#b8b2d6"/><circle cx="1259.0" cy="912.5" r="8" fill="#c6c3df"/><circle cx="1623.0" cy="887.0" r="8" fill="#d27510"/><circle cx="1215.0" cy="887.0" r="8" fill="#6e539d"/><circle cx="1395.8" cy="895.5" r="8" fill="#f9b057"/><circle cx="1494.5" cy="895.5" r="8" fill="#a85206"/><circle cx="1200.0" cy="904.0" r="8" fill="#684a98"/><circle cx="1248.6" cy="895.5" r="8" fill="#d8daeb"/><circle cx="1257.0" cy="853.0" r="8" fill="#bbb6d8"/><circle cx="1253.3" cy="887.0" r="8" fill="#c4c1de"/><circle cx="1197.1" cy="887.0" r="8" fill="#4c1f7c"/><circle cx="1196.4" cy="870.0" r="8" fill="#2d004b"/><circle cx="1479.0" cy="895.5" r="8" fill="#a24f07"/><circle cx="1267.7" cy="887.0" r="8" fill="#bcb7d8"/><circle cx="1459.7" cy="895.5" r="8" fill="#ba5f08"/><circle cx="1431.1" cy="912.5" r="8" fill="#e08315"/><circle cx="1240.0" cy="904.0" r="8" fill="#fbe9d0"/><circle cx="1199.9" cy="904.0" r="8" fill="#6d539d"/><circle cx="1368.8" cy="904.0" r="8" fill="#f1a243"/><circle cx="1412.9" cy="904.0" r="8" fill="#fdbb69"/><circle cx="1310.9" cy="887.0" r="8" fill="#c3bfdd"/><circle cx="1292.5" cy="870.0" r="8" fill="#bfbbda"/><circle cx="1455.2" cy="912.5" r="8" fill="#934607"/><circle cx="1403.6" cy="870.0" r="8" fill="#ea9530"/><circle cx="1261.4" cy="895.5" r="8" fill="#4a1d79"/><circle cx="1282.1" cy="887.0" r="8" fill="#cecde4"/><circle cx="1508.7" cy="878.5" r="8" fill="#884008"/><circle cx="1441.4" cy="870.0" r="8" fill="#bc6109"/><circle cx="1430.5" cy="861.5" r="8" fill="#e89129"/><circle cx="1208.3" cy="904.0" r="8" fill="#4f2280"/><circle cx="1401.5" cy="895.5" r="8" fill="#fdb762"/><circle cx="1185.5" cy="878.5" r="8" fill="#2d004b"/><circle cx="1346.9" cy="870.0" r="8" fill="#e68d25"/><circle cx="1250.3" cy="878.5" r="8" fill="#bebada"/><circle cx="1170.9" cy="887.0" r="8" fill="#451871"/><circle cx="1464.8" cy="887.0" r="8" fill="#c96d0d"/><circle cx="1371.0" cy="878.5" r="8" fill="#c5690c"/><circle cx="1385.3" cy="887.0" r="8" fill="#f2a446"/><circle cx="1350.1" cy="895.5" r="8" fill="#f8af57"/><circle cx="1246.2" cy="861.5" r="8" fill="#8578af"/><circle cx="1396.8" cy="878.5" r="8" fill="#f2a344"/><circle cx="1412.3" cy="887.0" r="8" fill="#e4891f"/><circle cx="1363.9" cy="870.0" r="8" fill="#f6ab50"/><circle cx="1239.7" cy="861.5" r="8" fill="#a79ec9"/><circle cx="1461.5" cy="904.0" r="8" fill="#ac5406"/><circle cx="1407.4" cy="904.0" r="8" fill="#de8013"/><circle cx="1243.0" cy="895.5" r="8" fill="#afa8d0"/><circle cx="1460.5" cy="870.0" r="8" fill="#a14e07"/><circle cx="1448.0" cy="895.5" r="8" fill="#9f4d07"/><circle cx="1271.4" cy="853.0" r="8" fill="#a79fca"/><circle cx="1316.1" cy="878.5" r="8" fill="#c1bddc"/><circle cx="1455.6" cy="861.5" r="8" fill="#d47710"/><circle cx="1431.3" cy="904.0" r="8" fill="#ce710e"/><circle cx="1257.4" cy="887.0" r="8" fill="#cdcde4"/><circle cx="1280.2" cy="870.0" r="8" fill="#a9a1cb"/><circle cx="1238.7" cy="895.5" r="8" fill="#b0a8d0"/><circle cx="1381.2" cy="895.5" r="8" fill="#f0a141"/><circle cx="1247.2" cy="887.0" r="8" fill="#8c81b5"/><circle cx="1345.7" cy="887.0" r="8" fill="#e68e26"/><circle cx="1233.8" cy="870.0" r="8" fill="#978dbd"/><circle cx="1208.7" cy="870.0" r="8" fill="#8478af"/><circle cx="1243.7" cy="904.0" r="8" fill="#8c80b5"/><circle cx="1466.6" cy="878.5" r="8" fill="#be6209"/><circle cx="1455.5" cy="887.0" r="8" fill="#b05606"/><circle cx="1476.8" cy="878.5" r="8" fill="#c4680b"/><circle cx="1468.1" cy="870.0" r="8" fill="#ba5f08"/><circle cx="1367.7" cy="878.5" r="8" fill="#eb9632"/><circle cx="1497.8" cy="895.5" r="8" fill="#904507"/><circle cx="1446.0" cy="887.0" r="8" fill="#ac5406"/><circle cx="1637.0" cy="887.0" r="8" fill="#d27510"/><circle cx="1438.2" cy="861.5" r="8" fill="#d47610"/><circle cx="1274.1" cy="895.5" r="8" fill="#cbcae3"/><circle cx="1233.6" cy="853.0" r="8" fill="#aea6cf"/><circle cx="1452.4" cy="878.5" r="8" fill="#af5606"/><circle cx="1229.6" cy="878.5" r="8" fill="#f1f2f5"/><circle cx="1432.0" cy="887.0" r="8" fill="#d0730f"/><circle cx="1407.2" cy="878.5" r="8" fill="#e2861a"/><circle cx="1412.5" cy="870.0" r="8" fill="#e18418"/><circle cx="1491.1" cy="904.0" r="8" fill="#b05606"/><circle cx="1398.1" cy="861.5" r="8" fill="#e9932d"/><circle cx="1224.2" cy="904.0" r="8" fill="#d5d6e9"/><circle cx="1484.3" cy="861.5" r="8" fill="#894108"/><circle cx="1264.0" cy="878.5" r="8" fill="#dddfed"/><circle cx="1272.3" cy="861.5" r="8" fill="#fee0b5"/><circle cx="1486.1" cy="912.5" r="8" fill="#a85206"/><circle cx="1144.4" cy="887.0" r="8" fill="#2d004b"/><circle cx="1493.6" cy="878.5" r="8" fill="#bd6109"/><circle cx="1349.4" cy="878.5" r="8" fill="#f4a649"/><circle cx="1284.7" cy="895.5" r="8" fill="#fed5a0"/><circle cx="1250.2" cy="861.5" r="8" fill="#8f83b7"/><circle cx="1512.3" cy="887.0" r="8" fill="#823d08"/><circle cx="1405.7" cy="861.5" r="8" fill="#f6aa4f"/><circle cx="1409.8" cy="878.5" r="8" fill="#c6690c"/><circle cx="1306.9" cy="878.5" r="8" fill="#d8daeb"/><circle cx="1277.9" cy="887.0" r="8" fill="#f9f0e2"/><circle cx="1373.8" cy="887.0" r="8" fill="#ea942f"/><circle cx="1229.5" cy="887.0" r="8" fill="#b8b2d6"/><circle cx="1426.1" cy="895.5" r="8" fill="#da7c12"/><circle cx="1294.3" cy="904.0" r="8" fill="#bcb7d9"/><circle cx="1269.5" cy="912.5" r="8" fill="#b2abd2"/><circle cx="1271.9" cy="870.0" r="8" fill="#f1f2f5"/><circle cx="1214.5" cy="895.5" r="8" fill="#3f1268"/>
</g>
<g>
<circle cx="1406.4" cy="1008.4" r="8" fill="#dbddec"/><circle cx="1280.0" cy="991.4" r="8" fill="#fdc37a"/><circle cx="1384.8" cy="1016.9" r="8" fill="#f7f6f3"/><circle cx="1330.1" cy="1016.9" r="8" fill="#fde3bf"/><circle cx="1249.2" cy="982.9" r="8" fill="#e58b21"/><circle cx="1230.3" cy="999.9" r="8" fill="#b75c07"/><circle cx="1291.8" cy="982.9" r="8" fill="#fdbe70"/><circle cx="1232.0" cy="1033.9" r="8" fill="#cc700e"/><circle cx="1408.3" cy="1016.9" r="8" fill="#cac8e2"/><circle cx="1287.0" cy="1016.9" r="8" fill="#fcb660"/><circle cx="1554.8" cy="1008.4" r="8" fill="#300350"/><circle cx="1269.4" cy="1008.4" r="8" fill="#fab159"/><circle cx="1191.1" cy="1008.4" r="8" fill="#964807"/><circle cx="1177.3" cy="1008.4" r="8" fill="#813c08"/><circle cx="1259.9" cy="1033.9" r="8" fill="#e28519"/><circle cx="1416.5" cy="1008.4" r="8" fill="#dbddec"/><circle cx="1225.8" cy="982.9" r="8" fill="#bb6009"/><circle cx="1450.4" cy="1008.4" r="8" fill="#bfbcdb"/><circle cx="1467.6" cy="999.9" r="8" fill="#b7b1d5"/><circle cx="1360.9" cy="1008.4" r="8" fill="#e4e5f0"/><circle cx="1333.1" cy="1016.9" r="8" fill="#fecf94"/><circle cx="1306.0" cy="1008.4" r="8" fill="#f3a648"/><circle cx="1279.0" cy="982.9" r="8" fill="#fdbc6c"/><circle cx="1476.1" cy="999.9" r="8" fill="#b8b3d6"/><circle cx="1309.9" cy="982.9" r="8" fill="#fdbd6d"/><circle cx="1388.4" cy="1016.9" r="8" fill="#d8daeb"/><circle cx="1197.5" cy="999.9" r="8" fill="#934607"/><circle cx="1323.5" cy="1008.4" r="8" fill="#fed49e"/><circle cx="1433.6" cy="999.9" r="8" fill="#bdb8d9"/><circle cx="1171.2" cy="999.9" r="8" fill="#9f4d07"/><circle cx="1273.7" cy="991.4" r="8" fill="#f7ac52"/><circle cx="1332.6" cy="1008.4" r="8" fill="#fce8cb"/><circle cx="1265.7" cy="999.9" r="8" fill="#fdbf71"/><circle cx="1344.3" cy="1008.4" r="8" fill="#faecd7"/><circle cx="1485.3" cy="1008.4" r="8" fill="#988dbe"/><circle cx="1244.8" cy="991.4" r="8" fill="#ce720f"/><circle cx="1270.7" cy="1016.9" r="8" fill="#f7ae54"/><circle cx="1380.8" cy="999.9" r="8" fill="#e8e9f1"/><circle cx="1366.0" cy="1008.4" r="8" fill="#d27510"/><circle cx="1206.4" cy="1016.9" r="8" fill="#b25806"/><circle cx="1530.9" cy="1008.4" r="8" fill="#320553"/><circle cx="1244.0" cy="991.4" r="8" fill="#ba5f08"/><circle cx="1637.0" cy="1008.4" r="8" fill="#2d004b"/><circle cx="1297.4" cy="999.9" r="8" fill="#f5a84c"/><circle cx="1250.9" cy="1008.4" r="8" fill="#e79028"/><circle cx="1209.7" cy="1008.4" r="8" fill="#d0730f"/><circle cx="1494.6" cy="1008.4" r="8" fill="#2d004b"/><circle cx="1654.0" cy="1008.4" r="8" fill="#a8a0ca"/><circle cx="1314.3" cy="1016.9" r="8" fill="#fde5c3"/><circle cx="1269.8" cy="1025.4" r="8" fill="#f8ae55"/><circle cx="1298.7" cy="1008.4" r="8" fill="#fed298"/><circle cx="1372.5" cy="1016.9" r="8" fill="#f1f2f5"/><circle cx="1312.6" cy="991.4" r="8" fill="#fdc277"/><circle cx="1474.4" cy="999.9" r="8" fill="#a9a1cb"/><circle cx="1607.0" cy="1008.4" r="8" fill="#2d004b"/><circle cx="1277.0" cy="1025.4" r="8" fill="#fece91"/><circle cx="1229.8" cy="982.9" r="8" fill="#cc700e"/><circle cx="1470.8" cy="1008.4" r="8" fill="#9c92c1"/><circle cx="1269.7" cy="999.9" r="8" fill="#fdb762"/><circle cx="1483.5" cy="1008.4" r="8" fill="#998fbf"/><circle cx="1425.8" cy="1008.4" r="8" fill="#beb9da"/><circle cx="1248.9" cy="999.9" r="8" fill="#e48a1f"/><circle cx="1220.8" cy="991.4" r="8" fill="#ce710e"/><circle cx="1175.7" cy="1008.4" r="8" fill="#884008"/><circle cx="1943.0" cy="1008.4" r="8" fill="#2d004b"/><circle cx="1523.5" cy="1008.4" r="8" fill="#2d004b"/><circle cx="1213.9" cy="1033.9" r="8" fill="#b95d08"/><circle cx="1403.4" cy="1008.4" r="8" fill="#ebecf3"/><circle cx="1530.6" cy="999.9" r="8" fill="#2d004b"/><circle cx="1280.5" cy="999.9" r="8" fill="#fdc278"/><circle cx="1265.9" cy="1008.4" r="8" fill="#f6ac51"/><circle cx="1340.8" cy="1008.4" r="8" fill="#fce7cb"/><circle cx="1372.1" cy="1008.4" r="8" fill="#eeeef3"/><circle cx="1369.6" cy="999.9" r="8" fill="#d5d6e9"/><circle cx="1215.8" cy="1008.4" r="8" fill="#bf640a"/><circle cx="1307.5" cy="999.9" r="8" fill="#fab35b"/><circle cx="1255.4" cy="1008.4" r="8" fill="#e8912a"/><circle cx="1243.5" cy="1008.4" r="8" fill="#c5690c"/><circle cx="1216.1" cy="991.4" r="8" fill="#bd6109"/><circle cx="1402.6" cy="999.9" r="8" fill="#d8daeb"/><circle cx="1201.3" cy="1008.4" r="8" fill="#833d08"/><circle cx="1274.8" cy="982.9" r="8" fill="#ee9b39"/><circle cx="1394.1" cy="999.9" r="8" fill="#f8f3ec"/><circle cx="1304.0" cy="991.4" r="8" fill="#fce8cc"/><circle cx="1299.5" cy="1016.9" r="8" fill="#fed49e"/><circle cx="1240.5" cy="1025.4" r="8" fill="#b35806"/><circle cx="1406.7" cy="999.9" r="8" fill="#edeef3"/><circle cx="1436.5" cy="999.9" r="8" fill="#bdb9da"/><circle cx="1164.5" cy="1008.4" r="8" fill="#984907"/><circle cx="1370.7" cy="1008.4" r="8" fill="#e6e7f1"/><circle cx="1377.0" cy="999.9" r="8" fill="#e1e3ef"/><circle cx="1266.8" cy="1033.9" r="8" fill="#e3871c"/><circle cx="1213.1" cy="1025.4" r="8" fill="#bc6109"/><circle cx="1558.0" cy="1008.4" r="8" fill="#310451"/><circle cx="1504.6" cy="999.9" r="8" fill="#2d004b"/><circle cx="1262.9" cy="982.9" r="8" fill="#f7ae54"/><circle cx="1443.0" cy="1008.4" r="8" fill="#bebada"/><circle cx="1445.9" cy="999.9" r="8" fill="#c5c2de"/><circle cx="1249.5" cy="1033.9" r="8" fill="#e58c22"/><circle cx="1232.0" cy="1025.4" r="8" fill="#ce710e"/><circle cx="1456.8" cy="999.9" r="8" fill="#c4c2de"/><circle cx="1400.6" cy="1016.9" r="8" fill="#e7e8f1"/><circle cx="1257.2" cy="1016.9" r="8" fill="#e8922b"/><circle cx="1538.7" cy="1008.4" r="8" fill="#2d004b"/><circle cx="1546.7" cy="1008.4" r="8" fill="#2d004b"/><circle cx="1200.5" cy="1008.4" r="8" fill="#9f4d07"/><circle cx="1258.2" cy="982.9" r="8" fill="#eb9631"/><circle cx="1383.2" cy="1008.4" r="8" fill="#e8e9f1"/><circle cx="1203.4" cy="999.9" r="8" fill="#a14e07"/><circle cx="1289.0" cy="999.9" r="8" fill="#f3a649"/><circle cx="1249.3" cy="1025.4" r="8" fill="#e78f27"/><circle cx="1689.0" cy="1008.4" r="8" fill="#8a7eb4"/><circle cx="1419.9" cy="999.9" r="8" fill="#c0bcdb"/><circle cx="1432.3" cy="1008.4" r="8" fill="#cccbe3"/><circle cx="1288.0" cy="991.4" r="8" fill="#faecd7"/><circle cx="1352.9" cy="999.9" r="8" fill="#faeedc"/><circle cx="1347.8" cy="999.9" r="8" fill="#f9f1e7"/><circle cx="1227.6" cy="999.9" r="8" fill="#af5606"/><circle cx="1392.8" cy="1008.4" r="8" fill="#c8c6e1"/><circle cx="1253.5" cy="1025.4" r="8" fill="#fdbf71"/><circle cx="1490.7" cy="999.9" r="8" fill="#c5c3df"/><circle cx="1256.1" cy="991.4" r="8" fill="#f8af56"/><circle cx="1514.6" cy="999.9" r="8" fill="#2d004b"/><circle cx="1207.0" cy="991.4" r="8" fill="#b05606"/><circle cx="1311.7" cy="1008.4" r="8" fill="#fdc278"/><circle cx="1235.1" cy="1042.4" r="8" fill="#cd710e"/><circle cx="1233.8" cy="974.4" r="8" fill="#b95d08"/><circle cx="1336.6" cy="999.9" r="8" fill="#fce6c6"/><circle cx="1280.0" cy="1016.9" r="8" fill="#fde4c2"/><circle cx="1213.8" cy="999.9" r="8" fill="#b75c07"/><circle cx="1312.7" cy="1025.4" r="8" fill="#fece90"/><circle cx="1466.2" cy="1008.4" r="8" fill="#9e95c3"/><circle cx="1305.5" cy="1016.9" r="8" fill="#fdb762"/><circle cx="1456.2" cy="1008.4" r="8" fill="#b2abd2"/><circle cx="1296.2" cy="1025.4" r="8" fill="#fed196"/><circle cx="1351.4" cy="1008.4" r="8" fill="#fbead3"/><circle cx="1267.0" cy="1016.9" r="8" fill="#ed9a37"/><circle cx="1595.0" cy="1008.4" r="8" fill="#2d004b"/><circle cx="1295.1" cy="991.4" r="8" fill="#fed9a7"/><circle cx="1324.1" cy="999.9" r="8" fill="#fce8cc"/><circle cx="1189.2" cy="999.9" r="8" fill="#9d4c07"/><circle cx="1231.5" cy="1008.4" r="8" fill="#d1740f"/><circle cx="1358.7" cy="999.9" r="8" fill="#ebecf2"/><circle cx="1333.0" cy="999.9" r="8" fill="#fdc57e"/><circle cx="1204.9" cy="999.9" r="8" fill="#bf630a"/><circle cx="1356.1" cy="1016.9" r="8" fill="#e8e9f1"/><circle cx="1262.5" cy="1025.4" r="8" fill="#e9922c"/><circle cx="1233.1" cy="991.4" r="8" fill="#d77a11"/><circle cx="1214.0" cy="982.9" r="8" fill="#a95206"/><circle cx="1501.1" cy="1008.4" r="8" fill="#310451"/><circle cx="1514.4" cy="1008.4" r="8" fill="#310452"/><circle cx="1445.0" cy="1008.4" r="8" fill="#2d004b"/><circle cx="1212.7" cy="1016.9" r="8" fill="#bd6209"/><circle cx="1257.9" cy="999.9" r="8" fill="#fbb55e"/><circle cx="1237.6" cy="1016.9" r="8" fill="#b45906"/><circle cx="1245.6" cy="1016.9" r="8" fill="#b75c07"/><circle cx="1318.0" cy="1016.9" r="8" fill="#fedcad"/><circle cx="1297.6" cy="982.9" r="8" fill="#fee1b9"/><circle cx="1220.8" cy="1008.4" r="8" fill="#b75c07"/><circle cx="1224.7" cy="1025.4" r="8" fill="#c5690c"/><circle cx="1353.0" cy="1016.9" r="8" fill="#eff0f4"/><circle cx="1238.1" cy="999.9" r="8" fill="#cd700e"/><circle cx="1427.7" cy="999.9" r="8" fill="#cdcce4"/><circle cx="1368.7" cy="1016.9" r="8" fill="#ededf3"/><circle cx="1279.1" cy="1008.4" r="8" fill="#fdbe6e"/><circle cx="1226.9" cy="1016.9" r="8" fill="#c86c0d"/><circle cx="1292.9" cy="1025.4" r="8" fill="#fecc8d"/><circle cx="1523.0" cy="1008.4" r="8" fill="#c5c2de"/><circle cx="1163.6" cy="999.9" r="8" fill="#af5606"/><circle cx="1285.8" cy="1008.4" r="8" fill="#fdbc6a"/><circle cx="1251.7" cy="974.4" r="8" fill="#e8922b"/><circle cx="1230.2" cy="1016.9" r="8" fill="#bb5f08"/><circle cx="1620.0" cy="1008.4" r="8" fill="#2d004b"/><circle cx="1178.6" cy="999.9" r="8" fill="#9c4b07"/><circle cx="1262.1" cy="991.4" r="8" fill="#f5a84c"/><circle cx="1230.2" cy="965.9" r="8" fill="#dd7f13"/><circle cx="1314.2" cy="999.9" r="8" fill="#f2a345"/>
</g>
<g>
<circle cx="1167.0" cy="1121.2" r="8" fill="#a45007"/><circle cx="1305.5" cy="1138.2" r="8" fill="#f7ad53"/><circle cx="1333.6" cy="1112.7" r="8" fill="#fdb863"/><circle cx="1321.1" cy="1146.7" r="8" fill="#fdc175"/><circle cx="1176.5" cy="1121.2" r="8" fill="#8a4108"/><circle cx="1202.3" cy="1146.7" r="8" fill="#974807"/><circle cx="1271.4" cy="1112.7" r="8" fill="#fdba68"/><circle cx="1512.7" cy="1129.7" r="8" fill="#3c0f63"/><circle cx="1400.6" cy="1112.7" r="8" fill="#b5afd4"/><circle cx="1183.1" cy="1138.2" r="8" fill="#af5606"/><circle cx="1498.4" cy="1129.7" r="8" fill="#8d81b6"/><circle cx="1392.6" cy="1129.7" r="8" fill="#c5c2de"/><circle cx="1194.1" cy="1112.7" r="8" fill="#a95206"/><circle cx="1360.3" cy="1138.2" r="8" fill="#feddb0"/><circle cx="1370.2" cy="1129.7" r="8" fill="#c2bfdd"/><circle cx="1223.8" cy="1138.2" r="8" fill="#b35806"/><circle cx="1456.8" cy="1121.2" r="8" fill="#ada5ce"/><circle cx="1359.1" cy="1129.7" r="8" fill="#f6ac51"/><circle cx="1208.2" cy="1121.2" r="8" fill="#a65106"/><circle cx="1271.3" cy="1112.7" r="8" fill="#c4680b"/><circle cx="1172.8" cy="1138.2" r="8" fill="#a75106"/><circle cx="1548.5" cy="1129.7" r="8" fill="#43166e"/><circle cx="1565.4" cy="1121.2" r="8" fill="#300350"/><circle cx="1281.2" cy="1121.2" r="8" fill="#fdc073"/><circle cx="1524.9" cy="1121.2" r="8" fill="#42156b"/><circle cx="1322.1" cy="1104.2" r="8" fill="#fdc277"/><circle cx="1545.3" cy="1138.2" r="8" fill="#380b5d"/><circle cx="1184.7" cy="1146.7" r="8" fill="#b45906"/><circle cx="1357.8" cy="1138.2" r="8" fill="#fdbf72"/><circle cx="1533.1" cy="1121.2" r="8" fill="#2d004b"/><circle cx="1286.8" cy="1129.7" r="8" fill="#e68d24"/><circle cx="1312.2" cy="1129.7" r="8" fill="#fde3bf"/><circle cx="1239.6" cy="1121.2" r="8" fill="#c86c0d"/><circle cx="1294.6" cy="1138.2" r="8" fill="#f9b159"/><circle cx="1266.3" cy="1129.7" r="8" fill="#b45906"/><circle cx="1275.7" cy="1121.2" r="8" fill="#c96c0d"/><circle cx="1536.4" cy="1129.7" r="8" fill="#2d004b"/><circle cx="1422.2" cy="1138.2" r="8" fill="#d0d0e6"/><circle cx="1275.0" cy="1129.7" r="8" fill="#d37610"/><circle cx="1451.2" cy="1121.2" r="8" fill="#b8b2d6"/><circle cx="1235.6" cy="1104.2" r="8" fill="#bc6009"/><circle cx="1407.7" cy="1138.2" r="8" fill="#d5d6e9"/><circle cx="1201.9" cy="1138.2" r="8" fill="#a75106"/><circle cx="1241.7" cy="1112.7" r="8" fill="#d37610"/><circle cx="1345.9" cy="1121.2" r="8" fill="#f6ac51"/><circle cx="1244.5" cy="1129.7" r="8" fill="#b15706"/><circle cx="1417.8" cy="1121.2" r="8" fill="#cac9e2"/><circle cx="1341.2" cy="1129.7" r="8" fill="#f5aa4e"/><circle cx="1498.1" cy="1121.2" r="8" fill="#b1aad2"/><circle cx="1297.8" cy="1129.7" r="8" fill="#fdc277"/><circle cx="1387.0" cy="1112.7" r="8" fill="#e8912a"/><circle cx="1243.7" cy="1138.2" r="8" fill="#ab5406"/><circle cx="1157.8" cy="1121.2" r="8" fill="#934607"/><circle cx="1482.9" cy="1129.7" r="8" fill="#b1aad1"/><circle cx="1437.3" cy="1129.7" r="8" fill="#c9c8e1"/><circle cx="1254.6" cy="1121.2" r="8" fill="#a85206"/><circle cx="1330.4" cy="1146.7" r="8" fill="#fdc074"/><circle cx="1179.8" cy="1112.7" r="8" fill="#aa5306"/><circle cx="1350.9" cy="1112.7" r="8" fill="#fdcc8c"/><circle cx="1205.1" cy="1129.7" r="8" fill="#a75106"/><circle cx="1265.1" cy="1138.2" r="8" fill="#b25706"/><circle cx="1339.1" cy="1112.7" r="8" fill="#e5e6f0"/><circle cx="1334.6" cy="1155.2" r="8" fill="#fed6a1"/><circle cx="1179.5" cy="1129.7" r="8" fill="#b85d08"/><circle cx="1208.3" cy="1138.2" r="8" fill="#b45906"/><circle cx="1227.4" cy="1121.2" r="8" fill="#9b4b07"/><circle cx="1325.9" cy="1138.2" r="8" fill="#fdc074"/><circle cx="1551.1" cy="1121.2" r="8" fill="#3b0e61"/><circle cx="1486.0" cy="1129.7" r="8" fill="#b0a9d0"/><circle cx="1328.9" cy="1095.7" r="8" fill="#dd7f13"/><circle cx="1192.3" cy="1129.7" r="8" fill="#a75106"/><circle cx="1228.8" cy="1129.7" r="8" fill="#ad5506"/><circle cx="1374.2" cy="1138.2" r="8" fill="#cecee5"/><circle cx="1318.0" cy="1138.2" r="8" fill="#f7ac52"/><circle cx="1226.8" cy="1146.7" r="8" fill="#af5606"/><circle cx="1431.5" cy="1121.2" r="8" fill="#c3c0dd"/><circle cx="1427.8" cy="1121.2" r="8" fill="#cbc9e2"/><circle cx="1228.2" cy="1104.2" r="8" fill="#c0640a"/><circle cx="1241.5" cy="1129.7" r="8" fill="#ad5506"/><circle cx="1284.1" cy="1129.7" r="8" fill="#d57811"/><circle cx="1130.2" cy="1129.7" r="8" fill="#944607"/><circle cx="1227.2" cy="1112.7" r="8" fill="#bf630a"/><circle cx="1182.3" cy="1121.2" r="8" fill="#9f4d07"/><circle cx="1567.2" cy="1121.2" r="8" fill="#471a73"/><circle cx="1520.8" cy="1129.7" r="8" fill="#390c5e"/><circle cx="1238.5" cy="1138.2" r="8" fill="#b05706"/><circle cx="1213.5" cy="1112.7" r="8" fill="#964807"/><circle cx="1206.4" cy="1112.7" r="8" fill="#ab5306"/><circle cx="1436.9" cy="1138.2" r="8" fill="#aea7cf"/><circle cx="1259.1" cy="1121.2" r="8" fill="#b75c07"/><circle cx="1156.5" cy="1129.7" r="8" fill="#8a4108"/><circle cx="1265.4" cy="1112.7" r="8" fill="#b35806"/><circle cx="1291.5" cy="1138.2" r="8" fill="#e2861a"/><circle cx="1200.5" cy="1121.2" r="8" fill="#b75b07"/><circle cx="1231.9" cy="1138.2" r="8" fill="#c1650a"/><circle cx="1403.9" cy="1129.7" r="8" fill="#c2bfdd"/><circle cx="1471.2" cy="1121.2" r="8" fill="#a69ec9"/><circle cx="1173.1" cy="1146.7" r="8" fill="#934607"/><circle cx="1365.0" cy="1121.2" r="8" fill="#fde2bd"/><circle cx="1458.8" cy="1138.2" r="8" fill="#bab5d7"/><circle cx="1413.7" cy="1129.7" r="8" fill="#fdbf72"/><circle cx="1428.3" cy="1129.7" r="8" fill="#c6c4df"/><circle cx="1254.2" cy="1138.2" r="8" fill="#b85d08"/><circle cx="1257.3" cy="1146.7" r="8" fill="#a75206"/><circle cx="1188.4" cy="1112.7" r="8" fill="#a24f07"/><circle cx="1310.3" cy="1121.2" r="8" fill="#fdbb6a"/><circle cx="1578.2" cy="1129.7" r="8" fill="#350858"/><circle cx="1382.4" cy="1129.7" r="8" fill="#c4c1de"/><circle cx="1276.9" cy="1146.7" r="8" fill="#f6ac51"/><circle cx="1321.0" cy="1129.7" r="8" fill="#a59dc8"/><circle cx="1323.9" cy="1112.7" r="8" fill="#fbb45d"/><circle cx="1348.7" cy="1146.7" r="8" fill="#fde4c1"/><circle cx="1550.8" cy="1129.7" r="8" fill="#350857"/><circle cx="1280.8" cy="1138.2" r="8" fill="#fee1b8"/><circle cx="1234.1" cy="1146.7" r="8" fill="#aa5306"/><circle cx="1628.0" cy="1129.7" r="8" fill="#8a7eb4"/><circle cx="1332.1" cy="1129.7" r="8" fill="#fed9a7"/><circle cx="1482.1" cy="1121.2" r="8" fill="#cecee5"/><circle cx="1350.4" cy="1138.2" r="8" fill="#fab35c"/><circle cx="1581.2" cy="1121.2" r="8" fill="#310451"/><circle cx="1372.7" cy="1121.2" r="8" fill="#c7c5e0"/><circle cx="1272.7" cy="1138.2" r="8" fill="#ad5506"/><circle cx="1504.7" cy="1129.7" r="8" fill="#2d004b"/><circle cx="1465.3" cy="1121.2" r="8" fill="#c2bfdd"/><circle cx="1222.8" cy="1121.2" r="8" fill="#bf630a"/><circle cx="1223.4" cy="1129.7" r="8" fill="#b45906"/><circle cx="1237.4" cy="1155.2" r="8" fill="#b45906"/><circle cx="1165.9" cy="1129.7" r="8" fill="#b75b07"/><circle cx="1302.7" cy="1129.7" r="8" fill="#fecf92"/><circle cx="1364.2" cy="1138.2" r="8" fill="#d7d8ea"/><circle cx="1378.3" cy="1129.7" r="8" fill="#cac8e2"/><circle cx="1252.0" cy="1129.7" r="8" fill="#b95e08"/><circle cx="1262.5" cy="1129.7" r="8" fill="#a95206"/><circle cx="1242.1" cy="1121.2" r="8" fill="#bb6009"/><circle cx="1333.2" cy="1163.7" r="8" fill="#fdc783"/><circle cx="1546.3" cy="1121.2" r="8" fill="#360959"/><circle cx="1530.4" cy="1129.7" r="8" fill="#3b0e61"/><circle cx="1365.0" cy="1121.2" r="8" fill="#dadcec"/><circle cx="1454.5" cy="1129.7" r="8" fill="#afa7d0"/><circle cx="1334.2" cy="1104.2" r="8" fill="#fbb55e"/><circle cx="1448.4" cy="1129.7" r="8" fill="#a198c5"/><circle cx="1342.1" cy="1121.2" r="8" fill="#fdbc6b"/><circle cx="1242.9" cy="1112.7" r="8" fill="#ad5506"/><circle cx="1563.5" cy="1129.7" r="8" fill="#42156c"/><circle cx="1307.8" cy="1121.2" r="8" fill="#f6ac51"/><circle cx="1382.1" cy="1138.2" r="8" fill="#cfcfe5"/><circle cx="1516.0" cy="1121.2" r="8" fill="#2d004b"/><circle cx="1278.9" cy="1146.7" r="8" fill="#fdcc8c"/><circle cx="1407.2" cy="1121.2" r="8" fill="#c8c6e1"/><circle cx="1416.2" cy="1138.2" r="8" fill="#dcdeed"/><circle cx="1572.2" cy="1129.7" r="8" fill="#310451"/><circle cx="1383.2" cy="1121.2" r="8" fill="#d4d5e8"/><circle cx="1336.1" cy="1146.7" r="8" fill="#fdc074"/><circle cx="1191.6" cy="1138.2" r="8" fill="#b05706"/><circle cx="1338.9" cy="1104.2" r="8" fill="#dddfed"/><circle cx="1270.3" cy="1121.2" r="8" fill="#ad5506"/><circle cx="1427.0" cy="1129.7" r="8" fill="#2d004b"/><circle cx="1292.0" cy="1112.7" r="8" fill="#fde3be"/><circle cx="1331.3" cy="1138.2" r="8" fill="#a8a0ca"/><circle cx="1461.1" cy="1138.2" r="8" fill="#a097c4"/><circle cx="1198.6" cy="1129.7" r="8" fill="#994a07"/><circle cx="1191.8" cy="1121.2" r="8" fill="#a24f07"/><circle cx="1344.5" cy="1104.2" r="8" fill="#e4e5f0"/><circle cx="1211.7" cy="1129.7" r="8" fill="#ab5306"/><circle cx="1176.5" cy="1112.7" r="8" fill="#8e4407"/><circle cx="1367.6" cy="1129.7" r="8" fill="#fdbf72"/><circle cx="1505.7" cy="1121.2" r="8" fill="#2d004b"/><circle cx="1164.2" cy="1138.2" r="8" fill="#934607"/><circle cx="1397.2" cy="1138.2" r="8" fill="#dbddec"/><circle cx="1320.5" cy="1121.2" r="8" fill="#fdc987"/><circle cx="1329.7" cy="1121.2" r="8" fill="#fed39c"/><circle cx="1673.0" cy="1129.7" r="8" fill="#2d004b"/><circle cx="1299.4" cy="1112.7" r="8" fill="#cc6f0e"/><circle cx="1143.0" cy="1129.7" r="8" fill="#984907"/><circle cx="1220.7" cy="1112.7" r="8" fill="#ba5e08"/><circle cx="1391.2" cy="1121.2" r="8" fill="#cac9e2"/><circle cx="1392.5" cy="1138.2" r="8" fill="#c4c1de"/><circle cx="1353.5" cy="1146.7" r="8" fill="#fdc176"/><circle cx="1604.0" cy="1129.7" r="8" fill="#2d004b"/><circle cx="1465.5" cy="1129.7" r="8" fill="#a59cc8"/><circle cx="1296.4" cy="1121.2" r="8" fill="#f7ac52"/><circle cx="1374.2" cy="1112.7" r="8" fill="#dedfed"/><circle cx="1472.4" cy="1129.7" r="8" fill="#9186b9"/><circle cx="1421.6" cy="1129.7" r="8" fill="#9388ba"/><circle cx="1397.0" cy="1121.2" r="8" fill="#dcdeed"/><circle cx="1215.3" cy="1138.2" r="8" fill="#ae5506"/><circle cx="1347.7" cy="1129.7" r="8" fill="#dee0ed"/><circle cx="1437.4" cy="1121.2" r="8" fill="#cbc9e2"/><circle cx="1484.8" cy="1138.2" r="8" fill="#8a7fb4"/><circle cx="1212.1" cy="1121.2" r="8" fill="#ac5406"/><circle cx="1339.5" cy="1138.2" r="8" fill="#fdc074"/><circle cx="1317.2" cy="1112.7" r="8" fill="#ec9834"/><circle cx="1171.5" cy="1129.7" r="8" fill="#a44f07"/><circle cx="1354.7" cy="1112.7" r="8" fill="#fdb966"/><circle cx="1541.7" cy="1121.2" r="8" fill="#2e014d"/><circle cx="1396.7" cy="1129.7" r="8" fill="#c4c1de"/><circle cx="1282.4" cy="1112.7" r="8" fill="#f5aa4e"/><circle cx="1286.8" cy="1121.2" r="8" fill="#fdbd6d"/><circle cx="1491.0" cy="1121.2" r="8" fill="#b0a8d0"/><circle cx="1256.2" cy="1112.7" r="8" fill="#b35806"/><circle cx="1136.3" cy="1129.7" r="8" fill="#9a4a07"/><circle cx="1271.2" cy="1138.2" r="8" fill="#fdc278"/><circle cx="1352.8" cy="1121.2" r="8" fill="#fcb661"/>
</g>
<g>
<circle cx="1290.5" cy="1217.1" r="8" fill="#d37610"/><circle cx="1212.5" cy="1242.6" r="8" fill="#8e4307"/><circle cx="1516.3" cy="1251.1" r="8" fill="#7866a6"/><circle cx="1396.6" cy="1251.1" r="8" fill="#cac9e2"/><circle cx="1196.5" cy="1251.1" r="8" fill="#944707"/><circle cx="1460.0" cy="1251.1" r="8" fill="#d8daeb"/><circle cx="1473.0" cy="1242.6" r="8" fill="#e8e9f1"/><circle cx="1337.8" cy="1242.6" r="8" fill="#eff0f4"/><circle cx="1342.6" cy="1251.1" r="8" fill="#f8f5f0"/><circle cx="1224.7" cy="1234.1" r="8" fill="#ae5506"/><circle cx="1685.8" cy="1242.6" r="8" fill="#4a1d78"/><circle cx="1318.2" cy="1251.1" r="8" fill="#fee1b8"/><circle cx="1490.1" cy="1251.1" r="8" fill="#bdb8d9"/><circle cx="1508.3" cy="1242.6" r="8" fill="#684a98"/><circle cx="1315.1" cy="1234.1" r="8" fill="#fecd8f"/><circle cx="1240.0" cy="1259.6" r="8" fill="#b75c07"/><circle cx="1329.6" cy="1242.6" r="8" fill="#fbead2"/><circle cx="1250.7" cy="1276.6" r="8" fill="#b65b07"/><circle cx="1507.8" cy="1251.1" r="8" fill="#897db3"/><circle cx="1335.6" cy="1251.1" r="8" fill="#faeede"/><circle cx="1295.6" cy="1242.6" r="8" fill="#a34f07"/><circle cx="1273.3" cy="1217.1" r="8" fill="#c4680b"/><circle cx="1436.0" cy="1242.6" r="8" fill="#2d004b"/><circle cx="1630.0" cy="1251.1" r="8" fill="#2d004b"/><circle cx="1315.3" cy="1242.6" r="8" fill="#fecf93"/><circle cx="1280.5" cy="1225.6" r="8" fill="#a34f07"/><circle cx="1278.3" cy="1242.6" r="8" fill="#cd700e"/><circle cx="1274.6" cy="1259.6" r="8" fill="#ca6e0d"/><circle cx="1386.0" cy="1251.1" r="8" fill="#fee0b6"/><circle cx="1207.7" cy="1251.1" r="8" fill="#8b4208"/><circle cx="1464.8" cy="1251.1" r="8" fill="#dcdeed"/><circle cx="1264.6" cy="1259.6" r="8" fill="#f7ac51"/><circle cx="1345.7" cy="1242.6" r="8" fill="#f7f6f5"/><circle cx="1325.1" cy="1259.6" r="8" fill="#fce6c8"/><circle cx="1292.9" cy="1225.6" r="8" fill="#db7e13"/><circle cx="1200.5" cy="1242.6" r="8" fill="#924507"/><circle cx="1649.8" cy="1251.1" r="8" fill="#41146b"/><circle cx="1294.2" cy="1268.1" r="8" fill="#fecc8d"/><circle cx="1292.6" cy="1276.6" r="8" fill="#d77a11"/><circle cx="1186.8" cy="1251.1" r="8" fill="#894108"/><circle cx="1661.2" cy="1242.6" r="8" fill="#2f024e"/><circle cx="1511.0" cy="1251.1" r="8" fill="#2d004b"/><circle cx="1464.6" cy="1242.6" r="8" fill="#d2d3e7"/><circle cx="1353.7" cy="1242.6" r="8" fill="#d6d8ea"/><circle cx="1382.0" cy="1251.1" r="8" fill="#c2bfdd"/><circle cx="1231.0" cy="1259.6" r="8" fill="#a45007"/><circle cx="1242.4" cy="1234.1" r="8" fill="#b15706"/><circle cx="1286.3" cy="1268.1" r="8" fill="#a75106"/><circle cx="1673.7" cy="1251.1" r="8" fill="#401368"/><circle cx="1414.7" cy="1251.1" r="8" fill="#2d004b"/><circle cx="1242.3" cy="1234.1" r="8" fill="#c66a0c"/><circle cx="1758.0" cy="1251.1" r="8" fill="#b2abd2"/><circle cx="1264.5" cy="1251.1" r="8" fill="#b95e08"/><circle cx="1435.3" cy="1251.1" r="8" fill="#310451"/><circle cx="1319.3" cy="1259.6" r="8" fill="#fdc680"/><circle cx="1368.3" cy="1242.6" r="8" fill="#cbcae2"/><circle cx="1485.6" cy="1251.1" r="8" fill="#c8c6e0"/><circle cx="1391.0" cy="1242.6" r="8" fill="#d4d5e8"/><circle cx="1406.7" cy="1242.6" r="8" fill="#948abb"/><circle cx="1403.8" cy="1251.1" r="8" fill="#a39bc7"/><circle cx="1456.6" cy="1242.6" r="8" fill="#dee0ed"/><circle cx="1361.4" cy="1242.6" r="8" fill="#fedeb3"/><circle cx="1556.0" cy="1251.1" r="8" fill="#694b99"/><circle cx="1700.9" cy="1242.6" r="8" fill="#42156c"/><circle cx="1365.4" cy="1251.1" r="8" fill="#fee1ba"/><circle cx="1225.1" cy="1242.6" r="8" fill="#a04e07"/><circle cx="1286.0" cy="1251.1" r="8" fill="#c0640a"/><circle cx="1523.3" cy="1242.6" r="8" fill="#8c81b5"/><circle cx="1666.0" cy="1251.1" r="8" fill="#350858"/><circle cx="1698.9" cy="1251.1" r="8" fill="#644395"/><circle cx="1272.7" cy="1285.1" r="8" fill="#b25806"/><circle cx="1641.7" cy="1251.1" r="8" fill="#370a5b"/><circle cx="1378.6" cy="1259.6" r="8" fill="#aca4cd"/><circle cx="1388.9" cy="1259.6" r="8" fill="#b4add3"/><circle cx="1664.7" cy="1251.1" r="8" fill="#2f024d"/><circle cx="1271.3" cy="1234.1" r="8" fill="#c0640a"/><circle cx="1711.1" cy="1242.6" r="8" fill="#572c8a"/><circle cx="1313.8" cy="1242.6" r="8" fill="#fdbc6c"/><circle cx="1535.0" cy="1251.1" r="8" fill="#664697"/><circle cx="1308.2" cy="1259.6" r="8" fill="#fdc277"/><circle cx="1375.7" cy="1242.6" r="8" fill="#fed7a3"/><circle cx="1300.4" cy="1259.6" r="8" fill="#fdb762"/><circle cx="1669.1" cy="1242.6" r="8" fill="#5e3890"/><circle cx="1257.1" cy="1268.1" r="8" fill="#ab5406"/><circle cx="1252.7" cy="1234.1" r="8" fill="#d77a11"/><circle cx="1270.5" cy="1217.1" r="8" fill="#aa5306"/><circle cx="1263.0" cy="1234.1" r="8" fill="#cf720f"/><circle cx="1496.9" cy="1242.6" r="8" fill="#d4d5e9"/><circle cx="1355.3" cy="1259.6" r="8" fill="#b4aed3"/><circle cx="1272.1" cy="1259.6" r="8" fill="#fed8a6"/><circle cx="1728.0" cy="1247.1" r="8" fill="#481b76"/><circle cx="1249.9" cy="1259.6" r="8" fill="#c96d0d"/><circle cx="1380.4" cy="1242.6" r="8" fill="#c5c3df"/><circle cx="1269.2" cy="1208.6" r="8" fill="#fed094"/><circle cx="1454.0" cy="1251.1" r="8" fill="#2d004b"/><circle cx="1441.4" cy="1242.6" r="8" fill="#c7c4e0"/><circle cx="1189.7" cy="1242.6" r="8" fill="#863f08"/><circle cx="1290.3" cy="1251.1" r="8" fill="#d1740f"/><circle cx="1235.5" cy="1251.1" r="8" fill="#b55a07"/><circle cx="1253.2" cy="1268.1" r="8" fill="#da7c12"/><circle cx="1493.8" cy="1242.6" r="8" fill="#cac9e2"/><circle cx="1263.8" cy="1242.6" r="8" fill="#fedcae"/><circle cx="1214.1" cy="1259.6" r="8" fill="#994a07"/><circle cx="1306.9" cy="1234.1" r="8" fill="#fecc8d"/><circle cx="1283.7" cy="1242.6" r="8" fill="#d97b12"/><circle cx="1286.9" cy="1225.6" r="8" fill="#bb6009"/><circle cx="1301.6" cy="1234.1" r="8" fill="#f2a446"/><circle cx="1290.2" cy="1234.1" r="8" fill="#bc6109"/><circle cx="1271.7" cy="1251.1" r="8" fill="#af5606"/><circle cx="1255.0" cy="1225.6" r="8" fill="#f4a84b"/><circle cx="1543.0" cy="1251.1" r="8" fill="#582e8b"/><circle cx="1675.6" cy="1242.6" r="8" fill="#370a5a"/><circle cx="1193.6" cy="1251.1" r="8" fill="#8d4307"/><circle cx="1836.0" cy="1251.1" r="8" fill="#2d004b"/><circle cx="1518.7" cy="1251.1" r="8" fill="#877bb1"/><circle cx="1694.0" cy="1242.6" r="8" fill="#3d1064"/><circle cx="1284.6" cy="1259.6" r="8" fill="#e8912a"/><circle cx="1452.4" cy="1251.1" r="8" fill="#c6c3df"/><circle cx="1269.6" cy="1242.6" r="8" fill="#cd710e"/><circle cx="1682.9" cy="1251.1" r="8" fill="#3d1064"/><circle cx="1304.8" cy="1242.6" r="8" fill="#fece90"/><circle cx="1196.0" cy="1259.6" r="8" fill="#894008"/><circle cx="1241.7" cy="1251.1" r="8" fill="#b15706"/><circle cx="1274.9" cy="1268.1" r="8" fill="#e18316"/><circle cx="1309.3" cy="1268.1" r="8" fill="#fdbd6d"/><circle cx="1310.5" cy="1251.1" r="8" fill="#fce7cb"/><circle cx="1474.9" cy="1251.1" r="8" fill="#bcb7d8"/><circle cx="1355.3" cy="1251.1" r="8" fill="#d2d2e7"/><circle cx="1444.1" cy="1251.1" r="8" fill="#d6d8ea"/><circle cx="1395.2" cy="1242.6" r="8" fill="#aaa2cc"/><circle cx="1353.5" cy="1251.1" r="8" fill="#cac8e1"/><circle cx="1220.8" cy="1259.6" r="8" fill="#a85206"/><circle cx="1424.0" cy="1251.1" r="8" fill="#2d004b"/><circle cx="1234.4" cy="1242.6" r="8" fill="#974807"/><circle cx="1706.1" cy="1251.1" r="8" fill="#300350"/><circle cx="1208.7" cy="1242.6" r="8" fill="#874008"/><circle cx="1454.9" cy="1242.6" r="8" fill="#dadcec"/><circle cx="1330.5" cy="1259.6" r="8" fill="#faecd7"/><circle cx="1373.5" cy="1251.1" r="8" fill="#b5afd4"/><circle cx="1527.5" cy="1251.1" r="8" fill="#70579f"/><circle cx="1350.5" cy="1259.6" r="8" fill="#a9a1cb"/><circle cx="1281.6" cy="1276.6" r="8" fill="#f09f3f"/><circle cx="1303.3" cy="1251.1" r="8" fill="#fdbb69"/><circle cx="1247.5" cy="1268.1" r="8" fill="#bf640a"/><circle cx="1240.5" cy="1242.6" r="8" fill="#9d4c07"/><circle cx="1227.5" cy="1251.1" r="8" fill="#a95306"/><circle cx="1267.2" cy="1225.6" r="8" fill="#9e4c07"/><circle cx="1276.9" cy="1276.6" r="8" fill="#984907"/><circle cx="1248.4" cy="1259.6" r="8" fill="#bb6009"/><circle cx="1250.1" cy="1242.6" r="8" fill="#ad5406"/><circle cx="1212.2" cy="1251.1" r="8" fill="#a14e07"/><circle cx="1497.9" cy="1251.1" r="8" fill="#c3c0dd"/><circle cx="1484.8" cy="1242.6" r="8" fill="#bcb8d9"/><circle cx="1388.2" cy="1251.1" r="8" fill="#c9c7e1"/><circle cx="1274.4" cy="1251.1" r="8" fill="#e3871b"/><circle cx="1272.6" cy="1276.6" r="8" fill="#e78f27"/><circle cx="1183.3" cy="1242.6" r="8" fill="#904407"/><circle cx="1691.8" cy="1251.1" r="8" fill="#481b75"/><circle cx="1558.5" cy="1251.1" r="8" fill="#603c92"/><circle cx="1282.8" cy="1234.1" r="8" fill="#c96c0d"/><circle cx="1325.9" cy="1251.1" r="8" fill="#fdca87"/><circle cx="1242.1" cy="1242.6" r="8" fill="#a55007"/><circle cx="1253.0" cy="1251.1" r="8" fill="#d97c12"/><circle cx="1274.6" cy="1234.1" r="8" fill="#ce710e"/><circle cx="1733.0" cy="1255.1" r="8" fill="#481b76"/><circle cx="1650.9" cy="1242.6" r="8" fill="#4b1e7a"/><circle cx="1290.1" cy="1259.6" r="8" fill="#d87a11"/><circle cx="1271.3" cy="1268.1" r="8" fill="#fedaa9"/><circle cx="1240.3" cy="1251.1" r="8" fill="#a34f07"/>
</g>
<g>
<circle cx="1360.5" cy="1381.0" r="8" fill="#fdc681"/><circle cx="1320.3" cy="1372.5" r="8" fill="#2d004b"/><circle cx="1402.9" cy="1372.5" r="8" fill="#fbead3"/><circle cx="1279.2" cy="1381.0" r="8" fill="#71589f"/><circle cx="1235.0" cy="1372.5" r="8" fill="#390c5e"/><circle cx="1313.9" cy="1347.0" r="8" fill="#9085b8"/><circle cx="1386.9" cy="1355.5" r="8" fill="#c9c7e1"/><circle cx="1390.0" cy="1372.5" r="8" fill="#fdc885"/><circle cx="1318.6" cy="1355.5" r="8" fill="#745ea2"/><circle cx="1242.5" cy="1372.5" r="8" fill="#3f1267"/><circle cx="1389.1" cy="1347.0" r="8" fill="#fce7cb"/><circle cx="1362.6" cy="1355.5" r="8" fill="#feddaf"/><circle cx="1337.0" cy="1364.0" r="8" fill="#a59dc8"/><circle cx="1338.7" cy="1355.5" r="8" fill="#cecde4"/><circle cx="1191.8" cy="1364.0" r="8" fill="#924507"/><circle cx="1417.4" cy="1389.5" r="8" fill="#d1d1e6"/><circle cx="1414.5" cy="1347.0" r="8" fill="#fbe9d1"/><circle cx="1166.5" cy="1364.0" r="8" fill="#2d004b"/><circle cx="1236.5" cy="1381.0" r="8" fill="#41146a"/><circle cx="1467.7" cy="1364.0" r="8" fill="#fdc279"/><circle cx="1356.8" cy="1364.0" r="8" fill="#f3f3f5"/><circle cx="1295.9" cy="1364.0" r="8" fill="#4c1f7c"/><circle cx="1390.7" cy="1389.5" r="8" fill="#fdbd6d"/><circle cx="1352.4" cy="1364.0" r="8" fill="#bbb6d8"/><circle cx="1233.5" cy="1355.5" r="8" fill="#542788"/><circle cx="1218.7" cy="1389.5" r="8" fill="#360958"/><circle cx="1286.7" cy="1355.5" r="8" fill="#3c0f62"/><circle cx="1433.2" cy="1364.0" r="8" fill="#fed49c"/><circle cx="1393.1" cy="1381.0" r="8" fill="#fcb761"/><circle cx="1339.5" cy="1372.5" r="8" fill="#c5c3df"/><circle cx="1458.2" cy="1364.0" r="8" fill="#fdc073"/><circle cx="1271.4" cy="1389.5" r="8" fill="#914507"/><circle cx="1313.0" cy="1355.5" r="8" fill="#e8e9f1"/><circle cx="1404.5" cy="1355.5" r="8" fill="#d4d5e8"/><circle cx="1180.8" cy="1372.5" r="8" fill="#a24f07"/><circle cx="1425.2" cy="1364.0" r="8" fill="#fdc073"/><circle cx="1413.7" cy="1398.0" r="8" fill="#fcb660"/><circle cx="1608.0" cy="1372.5" r="8" fill="#ca6d0d"/><circle cx="1412.4" cy="1364.0" r="8" fill="#fedbab"/><circle cx="1213.8" cy="1364.0" r="8" fill="#904407"/><circle cx="1163.3" cy="1372.5" r="8" fill="#2d004b"/><circle cx="1346.1" cy="1372.5" r="8" fill="#8477af"/><circle cx="1494.9" cy="1372.5" r="8" fill="#b25806"/><circle cx="1233.7" cy="1364.0" r="8" fill="#4d207d"/><circle cx="1362.2" cy="1372.5" r="8" fill="#70579f"/><circle cx="1424.4" cy="1372.5" r="8" fill="#fdca88"/><circle cx="1244.1" cy="1364.0" r="8" fill="#2d004b"/><circle cx="1419.5" cy="1381.0" r="8" fill="#d8daeb"/><circle cx="1264.9" cy="1364.0" r="8" fill="#6b4f9b"/><circle cx="1264.5" cy="1355.5" r="8" fill="#6c509b"/><circle cx="1404.9" cy="1364.0" r="8" fill="#f4a74b"/><circle cx="1117.5" cy="1372.5" r="8" fill="#370a5a"/><circle cx="1273.8" cy="1355.5" r="8" fill="#461972"/><circle cx="1222.7" cy="1381.0" r="8" fill="#350857"/><circle cx="1370.7" cy="1372.5" r="8" fill="#664697"/><circle cx="1302.6" cy="1364.0" r="8" fill="#4c1f7b"/><circle cx="1327.0" cy="1355.5" r="8" fill="#f9f0e4"/><circle cx="1283.9" cy="1364.0" r="8" fill="#4f2280"/><circle cx="1401.8" cy="1372.5" r="8" fill="#fee1ba"/><circle cx="1205.3" cy="1381.0" r="8" fill="#2d004b"/><circle cx="1257.6" cy="1372.5" r="8" fill="#4c1f7c"/><circle cx="1458.0" cy="1376.5" r="8" fill="#994a07"/><circle cx="1539.0" cy="1372.5" r="8" fill="#b35806"/><circle cx="1315.7" cy="1338.5" r="8" fill="#745fa3"/><circle cx="1376.0" cy="1364.0" r="8" fill="#fdc073"/><circle cx="1219.5" cy="1372.5" r="8" fill="#984907"/><circle cx="1346.5" cy="1389.5" r="8" fill="#b4add3"/><circle cx="1299.2" cy="1389.5" r="8" fill="#2d004b"/><circle cx="1285.6" cy="1389.5" r="8" fill="#8073ac"/><circle cx="1338.1" cy="1364.0" r="8" fill="#b9b4d7"/><circle cx="1400.0" cy="1355.5" r="8" fill="#fee1b8"/><circle cx="1308.9" cy="1364.0" r="8" fill="#6b4e9b"/><circle cx="1382.6" cy="1381.0" r="8" fill="#d3d4e8"/><circle cx="1357.9" cy="1389.5" r="8" fill="#623f93"/><circle cx="1344.5" cy="1347.0" r="8" fill="#bfbbdb"/><circle cx="1188.0" cy="1364.0" r="8" fill="#2d004b"/><circle cx="1300.2" cy="1381.0" r="8" fill="#8d82b6"/><circle cx="1385.2" cy="1355.5" r="8" fill="#a24f07"/><circle cx="1374.8" cy="1347.0" r="8" fill="#fed9a7"/><circle cx="1247.4" cy="1381.0" r="8" fill="#934607"/><circle cx="1466.6" cy="1372.5" r="8" fill="#fdc47c"/><circle cx="1331.9" cy="1372.5" r="8" fill="#b6b1d5"/><circle cx="1339.4" cy="1381.0" r="8" fill="#a8a0ca"/><circle cx="1224.8" cy="1372.5" r="8" fill="#ac5406"/><circle cx="1228.8" cy="1355.5" r="8" fill="#3a0d60"/><circle cx="1306.4" cy="1372.5" r="8" fill="#ebecf2"/><circle cx="1329.4" cy="1364.0" r="8" fill="#6b4e9b"/><circle cx="1251.7" cy="1381.0" r="8" fill="#853e08"/><circle cx="1402.5" cy="1381.0" r="8" fill="#fdc986"/><circle cx="1443.9" cy="1372.5" r="8" fill="#fdbd6d"/><circle cx="1434.0" cy="1372.5" r="8" fill="#fdc278"/><circle cx="1455.9" cy="1372.5" r="8" fill="#fdbb69"/><circle cx="1175.8" cy="1364.0" r="8" fill="#a34f07"/><circle cx="1430.7" cy="1381.0" r="8" fill="#fbe9d0"/><circle cx="1589.0" cy="1372.5" r="8" fill="#e08214"/><circle cx="1273.5" cy="1372.5" r="8" fill="#350858"/><circle cx="1298.3" cy="1355.5" r="8" fill="#944707"/><circle cx="1202.7" cy="1372.5" r="8" fill="#310451"/><circle cx="1216.5" cy="1355.5" r="8" fill="#2d004b"/><circle cx="1297.9" cy="1355.5" r="8" fill="#c5c3df"/><circle cx="1504.7" cy="1372.5" r="8" fill="#b05606"/><circle cx="1318.4" cy="1389.5" r="8" fill="#654496"/><circle cx="1247.7" cy="1389.5" r="8" fill="#3a0d5f"/><circle cx="1372.8" cy="1389.5" r="8" fill="#f3a547"/><circle cx="1370.7" cy="1355.5" r="8" fill="#fde3bf"/><circle cx="1328.0" cy="1389.5" r="8" fill="#684a98"/><circle cx="1456.0" cy="1372.5" r="8" fill="#faecd6"/><circle cx="1243.7" cy="1355.5" r="8" fill="#350858"/><circle cx="1415.6" cy="1355.5" r="8" fill="#fee1b8"/><circle cx="1331.7" cy="1381.0" r="8" fill="#5b348e"/><circle cx="1444.3" cy="1364.0" r="8" fill="#fdc37a"/><circle cx="1447.5" cy="1364.0" r="8" fill="#fed39a"/><circle cx="1397.7" cy="1364.0" r="8" fill="#faecd9"/><circle cx="1299.5" cy="1372.5" r="8" fill="#745fa3"/><circle cx="1404.0" cy="1389.5" r="8" fill="#e18416"/><circle cx="1358.5" cy="1355.5" r="8" fill="#fee1b8"/><circle cx="1390.5" cy="1364.0" r="8" fill="#fedfb5"/><circle cx="1358.1" cy="1398.0" r="8" fill="#fdb762"/><circle cx="1365.5" cy="1389.5" r="8" fill="#fedbac"/><circle cx="1407.1" cy="1347.0" r="8" fill="#fed8a5"/><circle cx="1290.7" cy="1372.5" r="8" fill="#3b0e61"/><circle cx="1348.1" cy="1381.0" r="8" fill="#867ab1"/><circle cx="1206.1" cy="1372.5" r="8" fill="#30034f"/><circle cx="1290.9" cy="1381.0" r="8" fill="#f3f3f5"/><circle cx="1325.3" cy="1381.0" r="8" fill="#f1f1f5"/><circle cx="1270.8" cy="1372.5" r="8" fill="#664797"/><circle cx="1225.7" cy="1389.5" r="8" fill="#2d004b"/><circle cx="1314.3" cy="1381.0" r="8" fill="#c1bddc"/><circle cx="1331.1" cy="1389.5" r="8" fill="#7763a5"/><circle cx="1174.4" cy="1372.5" r="8" fill="#310451"/><circle cx="1263.2" cy="1381.0" r="8" fill="#2f024d"/><circle cx="1470.6" cy="1372.5" r="8" fill="#ea9530"/><circle cx="1131.5" cy="1372.5" r="8" fill="#2d004b"/><circle cx="1515.6" cy="1364.0" r="8" fill="#b65b07"/><circle cx="1365.3" cy="1347.0" r="8" fill="#dcddec"/><circle cx="1431.1" cy="1372.5" r="8" fill="#fab25a"/><circle cx="1366.9" cy="1381.0" r="8" fill="#fdc681"/><circle cx="1323.0" cy="1372.5" r="8" fill="#f4f4f6"/><circle cx="1369.3" cy="1364.0" r="8" fill="#fedbad"/><circle cx="1474.7" cy="1364.0" r="8" fill="#fbb45e"/><circle cx="1557.0" cy="1369.5" r="8" fill="#a34f07"/><circle cx="1207.9" cy="1364.0" r="8" fill="#944707"/><circle cx="1506.7" cy="1364.0" r="8" fill="#af5606"/><circle cx="1230.9" cy="1381.0" r="8" fill="#2d004b"/><circle cx="1360.0" cy="1347.0" r="8" fill="#f8f2e9"/><circle cx="1432.8" cy="1364.0" r="8" fill="#fdca88"/><circle cx="1349.5" cy="1355.5" r="8" fill="#d7d9ea"/><circle cx="1315.0" cy="1364.0" r="8" fill="#bfbbda"/><circle cx="1255.9" cy="1355.5" r="8" fill="#9d4c07"/><circle cx="1284.9" cy="1381.0" r="8" fill="#884008"/><circle cx="1270.4" cy="1381.0" r="8" fill="#3e1166"/><circle cx="1453.5" cy="1372.5" r="8" fill="#fdbf72"/><circle cx="1452.0" cy="1369.5" r="8" fill="#994a07"/><circle cx="1249.6" cy="1364.0" r="8" fill="#9b4b07"/><circle cx="1344.1" cy="1389.5" r="8" fill="#f7f6f4"/><circle cx="1381.0" cy="1364.0" r="8" fill="#fbebd4"/><circle cx="1410.3" cy="1372.5" r="8" fill="#e08214"/><circle cx="1553.0" cy="1375.5" r="8" fill="#542788"/><circle cx="1384.1" cy="1372.5" r="8" fill="#fbebd5"/><circle cx="1145.7" cy="1372.5" r="8" fill="#8d4307"/><circle cx="1214.4" cy="1372.5" r="8" fill="#2d004b"/><circle cx="1577.0" cy="1372.5" r="8" fill="#fee0b6"/><circle cx="1236.0" cy="1389.5" r="8" fill="#3a0d5f"/><circle cx="1313.4" cy="1389.5" r="8" fill="#d5d7e9"/><circle cx="1306.9" cy="1398.0" r="8" fill="#644295"/><circle cx="1419.2" cy="1355.5" r="8" fill="#fed094"/><circle cx="1255.1" cy="1389.5" r="8" fill="#6b4f9b"/><circle cx="1166.4" cy="1372.5" r="8" fill="#2d004b"/><circle cx="1157.1" cy="1364.0" r="8" fill="#370a5b"/><circle cx="1354.5" cy="1372.5" r="8" fill="#faedda"/><circle cx="1408.3" cy="1398.0" r="8" fill="#e08214"/><circle cx="1201.2" cy="1364.0" r="8" fill="#2d004b"/><circle cx="1512.2" cy="1372.5" r="8" fill="#be6209"/><circle cx="1314.9" cy="1347.0" r="8" fill="#eeeef3"/><circle cx="1216.6" cy="1364.0" r="8" fill="#350858"/><circle cx="1218.1" cy="1381.0" r="8" fill="#2d004b"/><circle cx="1150.9" cy="1364.0" r="8" fill="#340756"/><circle cx="1227.7" cy="1364.0" r="8" fill="#390c5e"/><circle cx="1318.7" cy="1398.0" r="8" fill="#491c77"/><circle cx="1311.6" cy="1381.0" r="8" fill="#2d004b"/><circle cx="1251.9" cy="1372.5" r="8" fill="#5c368f"/><circle cx="1253.2" cy="1347.0" r="8" fill="#4d207e"/><circle cx="1399.6" cy="1381.0" r="8" fill="#fdc47c"/><circle cx="1148.8" cy="1372.5" r="8" fill="#2d004b"/><circle cx="1279.3" cy="1364.0" r="8" fill="#ac5406"/><circle cx="1411.0" cy="1381.0" r="8" fill="#fed9a8"/><circle cx="1284.9" cy="1372.5" r="8" fill="#2f024f"/><circle cx="1256.3" cy="1364.0" r="8" fill="#451870"/><circle cx="1009.0" cy="1372.5" r="8" fill="#2d004b"/><circle cx="1497.1" cy="1364.0" r="8" fill="#b95e08"/><circle cx="1194.4" cy="1372.5" r="8" fill="#a65106"/><circle cx="1325.7" cy="1347.0" r="8" fill="#bdb8d9"/><circle cx="1134.6" cy="1372.5" r="8" fill="#340756"/><circle cx="1085.0" cy="1372.5" r="8" fill="#6a4d9a"/><circle cx="1331.3" cy="1355.5" r="8" fill="#5d3790"/><circle cx="1291.9" cy="1389.5" r="8" fill="#a69dc9"/><circle cx="1529.0" cy="1372.5" r="8" fill="#542788"/><circle cx="1396.0" cy="1389.5" r="8" fill="#fed39a"/><circle cx="1376.8" cy="1381.0" r="8" fill="#fde3bf"/>
</g>
<g>
<circle cx="1265.2" cy="1485.4" r="8" fill="#fbb45d"/><circle cx="1387.6" cy="1510.9" r="8" fill="#9e4c07"/><circle cx="1276.7" cy="1519.4" r="8" fill="#725ba1"/><circle cx="1186.0" cy="1493.9" r="8" fill="#fee0b6"/><circle cx="1395.0" cy="1493.9" r="8" fill="#d37610"/><circle cx="1323.4" cy="1519.4" r="8" fill="#db7d12"/><circle cx="1622.0" cy="1493.9" r="8" fill="#8f4407"/><circle cx="1292.4" cy="1493.9" r="8" fill="#e8922b"/><circle cx="1232.9" cy="1485.4" r="8" fill="#fdba68"/><circle cx="1334.2" cy="1476.9" r="8" fill="#fcb55f"/><circle cx="1324.9" cy="1476.9" r="8" fill="#dc7e13"/><circle cx="1264.2" cy="1493.9" r="8" fill="#ef9e3c"/><circle cx="1437.9" cy="1493.9" r="8" fill="#faecd8"/><circle cx="1249.5" cy="1493.9" r="8" fill="#e9932d"/><circle cx="1373.7" cy="1493.9" r="8" fill="#dee0ed"/><circle cx="1332.8" cy="1510.9" r="8" fill="#d77a11"/><circle cx="1709.0" cy="1493.9" r="8" fill="#944707"/><circle cx="1343.0" cy="1493.9" r="8" fill="#d37610"/><circle cx="1277.0" cy="1493.9" r="8" fill="#dd7f13"/><circle cx="1317.4" cy="1502.4" r="8" fill="#e28518"/><circle cx="1228.5" cy="1493.9" r="8" fill="#ec9936"/><circle cx="1353.4" cy="1485.4" r="8" fill="#ef9e3c"/><circle cx="1350.0" cy="1510.9" r="8" fill="#f0a141"/><circle cx="1331.5" cy="1502.4" r="8" fill="#2d004b"/><circle cx="1346.1" cy="1476.9" r="8" fill="#bd6109"/><circle cx="1424.1" cy="1493.9" r="8" fill="#d0730f"/><circle cx="1507.0" cy="1493.9" r="8" fill="#b35806"/><circle cx="1409.1" cy="1485.4" r="8" fill="#d5d6e9"/><circle cx="1327.7" cy="1493.9" r="8" fill="#e58c22"/><circle cx="1245.1" cy="1485.4" r="8" fill="#f5a94d"/><circle cx="1271.7" cy="1510.9" r="8" fill="#e08214"/><circle cx="1298.7" cy="1493.9" r="8" fill="#5f3a91"/><circle cx="1450.9" cy="1493.9" r="8" fill="#fdba66"/><circle cx="1087.0" cy="1493.9" r="8" fill="#e08214"/><circle cx="1494.0" cy="1493.9" r="8" fill="#a34f07"/><circle cx="1324.9" cy="1493.9" r="8" fill="#9f4d07"/><circle cx="1303.5" cy="1493.9" r="8" fill="#e68d24"/><circle cx="1550.0" cy="1493.9" r="8" fill="#fed8a5"/><circle cx="1375.2" cy="1485.4" r="8" fill="#c7c5e0"/><circle cx="1416.9" cy="1493.9" r="8" fill="#cc6f0e"/><circle cx="1197.8" cy="1493.9" r="8" fill="#fedbac"/><circle cx="1273.3" cy="1502.4" r="8" fill="#c3c0dd"/><circle cx="1263.2" cy="1519.4" r="8" fill="#ce710e"/><circle cx="1304.2" cy="1519.4" r="8" fill="#e3871c"/><circle cx="1364.3" cy="1485.4" r="8" fill="#c96d0d"/><circle cx="1359.9" cy="1485.4" r="8" fill="#df8114"/><circle cx="1330.3" cy="1485.4" r="8" fill="#ef9d3c"/><circle cx="1279.2" cy="1459.9" r="8" fill="#b8b2d6"/><circle cx="1291.4" cy="1502.4" r="8" fill="#e18316"/><circle cx="1329.1" cy="1468.4" r="8" fill="#fedcae"/><circle cx="1209.2" cy="1493.9" r="8" fill="#fdbd6d"/><circle cx="1390.9" cy="1502.4" r="8" fill="#c76a0c"/><circle cx="1314.8" cy="1519.4" r="8" fill="#fcb661"/><circle cx="1268.2" cy="1468.4" r="8" fill="#e08214"/><circle cx="1263.1" cy="1502.4" r="8" fill="#fbebd4"/><circle cx="1280.1" cy="1468.4" r="8" fill="#da7c12"/><circle cx="1314.2" cy="1476.9" r="8" fill="#e28519"/><circle cx="1540.0" cy="1493.9" r="8" fill="#a34f07"/><circle cx="1237.0" cy="1502.4" r="8" fill="#f3a547"/><circle cx="1304.5" cy="1510.9" r="8" fill="#fde4c0"/><circle cx="1260.0" cy="1493.9" r="8" fill="#d37610"/><circle cx="1377.1" cy="1502.4" r="8" fill="#ca6e0d"/><circle cx="1344.9" cy="1502.4" r="8" fill="#bf630a"/><circle cx="1350.4" cy="1493.9" r="8" fill="#e78f27"/><circle cx="1444.5" cy="1493.9" r="8" fill="#fbead3"/><circle cx="1300.1" cy="1468.4" r="8" fill="#562b8a"/><circle cx="1323.7" cy="1502.4" r="8" fill="#da7c12"/><circle cx="1407.6" cy="1493.9" r="8" fill="#c3670b"/><circle cx="1382.9" cy="1502.4" r="8" fill="#ca6d0d"/><circle cx="1290.4" cy="1468.4" r="8" fill="#ed9a37"/><circle cx="1718.0" cy="1497.9" r="8" fill="#d27510"/><circle cx="1305.3" cy="1485.4" r="8" fill="#e28619"/><circle cx="1324.0" cy="1510.9" r="8" fill="#2d004b"/><circle cx="1334.8" cy="1493.9" r="8" fill="#fdc175"/><circle cx="1383.2" cy="1493.9" r="8" fill="#c1650a"/><circle cx="1278.9" cy="1502.4" r="8" fill="#ca6d0d"/><circle cx="1401.4" cy="1493.9" r="8" fill="#e08214"/><circle cx="1478.0" cy="1493.9" r="8" fill="#ca6d0d"/><circle cx="1303.9" cy="1502.4" r="8" fill="#c5690c"/><circle cx="1328.3" cy="1485.4" r="8" fill="#e08315"/><circle cx="1283.6" cy="1476.9" r="8" fill="#2d004b"/><circle cx="1293.1" cy="1476.9" r="8" fill="#de8013"/><circle cx="1514.0" cy="1488.9" r="8" fill="#b35806"/><circle cx="1098.0" cy="1493.9" r="8" fill="#e08214"/><circle cx="1267.6" cy="1510.9" r="8" fill="#f9f1e6"/><circle cx="1648.0" cy="1493.9" r="8" fill="#8f4407"/><circle cx="1393.3" cy="1485.4" r="8" fill="#de8013"/><circle cx="1279.2" cy="1485.4" r="8" fill="#b1aad1"/><circle cx="1298.1" cy="1476.9" r="8" fill="#f1a141"/><circle cx="1430.5" cy="1493.9" r="8" fill="#dddeed"/><circle cx="1389.2" cy="1476.9" r="8" fill="#994907"/><circle cx="1318.9" cy="1468.4" r="8" fill="#a55007"/><circle cx="1317.8" cy="1510.9" r="8" fill="#c4680b"/><circle cx="1231.0" cy="1493.9" r="8" fill="#f2a446"/><circle cx="1338.4" cy="1485.4" r="8" fill="#ee9b39"/><circle cx="1336.5" cy="1510.9" r="8" fill="#c3670b"/><circle cx="1221.8" cy="1502.4" r="8" fill="#e89029"/><circle cx="1279.9" cy="1493.9" r="8" fill="#faeede"/><circle cx="1337.6" cy="1502.4" r="8" fill="#f4a74b"/><circle cx="1716.0" cy="1490.9" r="8" fill="#994a07"/><circle cx="1319.8" cy="1485.4" r="8" fill="#fbe9cf"/><circle cx="1292.4" cy="1510.9" r="8" fill="#f9f2e9"/><circle cx="1261.8" cy="1476.9" r="8" fill="#e78f27"/><circle cx="1302.3" cy="1459.9" r="8" fill="#e48a20"/><circle cx="1309.5" cy="1527.9" r="8" fill="#fbb45c"/><circle cx="1421.9" cy="1502.4" r="8" fill="#e68e25"/><circle cx="1231.2" cy="1476.9" r="8" fill="#e89129"/><circle cx="1382.2" cy="1476.9" r="8" fill="#b0a9d1"/><circle cx="1277.3" cy="1485.4" r="8" fill="#e4891f"/><circle cx="1221.2" cy="1476.9" r="8" fill="#e8912a"/><circle cx="1245.9" cy="1502.4" r="8" fill="#e48a1f"/><circle cx="1366.3" cy="1502.4" r="8" fill="#ca6d0d"/><circle cx="1413.1" cy="1485.4" r="8" fill="#c76b0c"/><circle cx="1257.7" cy="1502.4" r="8" fill="#f1a142"/><circle cx="1241.1" cy="1502.4" r="8" fill="#ec9834"/><circle cx="1409.1" cy="1476.9" r="8" fill="#d47710"/><circle cx="1666.0" cy="1493.9" r="8" fill="#944707"/><circle cx="1304.7" cy="1451.4" r="8" fill="#de8013"/><circle cx="1403.4" cy="1502.4" r="8" fill="#df8114"/><circle cx="1974.0" cy="1493.9" r="8" fill="#8f4407"/><circle cx="1357.7" cy="1502.4" r="8" fill="#d37610"/><circle cx="1262.4" cy="1476.9" r="8" fill="#735ca1"/><circle cx="1228.1" cy="1485.4" r="8" fill="#eb9733"/><circle cx="1412.5" cy="1502.4" r="8" fill="#bb5f08"/><circle cx="1377.9" cy="1476.9" r="8" fill="#d27510"/><circle cx="1426.5" cy="1485.4" r="8" fill="#c2660b"/><circle cx="1693.0" cy="1493.9" r="8" fill="#d27510"/><circle cx="1242.7" cy="1485.4" r="8" fill="#e9922c"/><circle cx="1411.1" cy="1476.9" r="8" fill="#ed9a36"/><circle cx="1396.0" cy="1502.4" r="8" fill="#fdbd6d"/><circle cx="1306.3" cy="1468.4" r="8" fill="#f8f3ea"/><circle cx="1207.0" cy="1493.9" r="8" fill="#994a07"/><circle cx="1300.3" cy="1510.9" r="8" fill="#e18315"/><circle cx="1400.7" cy="1485.4" r="8" fill="#e79028"/><circle cx="1365.3" cy="1476.9" r="8" fill="#e9922b"/><circle cx="1326.8" cy="1476.9" r="8" fill="#e4891e"/><circle cx="1311.8" cy="1493.9" r="8" fill="#2d004b"/><circle cx="1283.8" cy="1519.4" r="8" fill="#be630a"/><circle cx="1358.5" cy="1493.9" r="8" fill="#ee9c39"/><circle cx="1283.7" cy="1510.9" r="8" fill="#fce7ca"/><circle cx="1521.0" cy="1497.9" r="8" fill="#b35806"/><circle cx="1386.4" cy="1485.4" r="8" fill="#c86b0c"/><circle cx="1308.3" cy="1476.9" r="8" fill="#310451"/><circle cx="1289.4" cy="1519.4" r="8" fill="#f3a649"/><circle cx="1316.7" cy="1485.4" r="8" fill="#c96d0d"/><circle cx="1215.8" cy="1485.4" r="8" fill="#fed6a1"/><circle cx="1270.6" cy="1468.4" r="8" fill="#2d004b"/><circle cx="1241.3" cy="1493.9" r="8" fill="#eb9631"/><circle cx="1286.3" cy="1459.9" r="8" fill="#c96d0d"/><circle cx="1369.7" cy="1493.9" r="8" fill="#d27510"/><circle cx="1296.3" cy="1502.4" r="8" fill="#faeedf"/><circle cx="1219.7" cy="1493.9" r="8" fill="#fce6c6"/><circle cx="1300.1" cy="1485.4" r="8" fill="#d57811"/><circle cx="1247.9" cy="1476.9" r="8" fill="#ee9c3a"/><circle cx="1767.0" cy="1493.9" r="8" fill="#8f4407"/><circle cx="1239.9" cy="1476.9" r="8" fill="#ef9d3c"/><circle cx="1274.9" cy="1476.9" r="8" fill="#d57811"/><circle cx="1290.6" cy="1485.4" r="8" fill="#ec9936"/><circle cx="1317.8" cy="1468.4" r="8" fill="#a65106"/><circle cx="1320.6" cy="1459.9" r="8" fill="#623f93"/><circle cx="1217.6" cy="1485.4" r="8" fill="#fdc47b"/><circle cx="1260.1" cy="1485.4" r="8" fill="#dc7e13"/><circle cx="1155.0" cy="1493.9" r="8" fill="#e68d24"/><circle cx="1260.1" cy="1510.9" r="8" fill="#300350"/><circle cx="1739.0" cy="1493.9" r="8" fill="#d27510"/><circle cx="1362.6" cy="1510.9" r="8" fill="#ca6d0d"/><circle cx="1353.8" cy="1502.4" r="8" fill="#e58c22"/><circle cx="1563.0" cy="1493.9" r="8" fill="#a34f07"/>
</g>
<g>
<circle cx="1358.8" cy="1632.3" r="8" fill="#2d004b"/><circle cx="1275.9" cy="1632.3" r="8" fill="#a34f07"/><circle cx="1318.5" cy="1589.8" r="8" fill="#a95306"/><circle cx="1358.4" cy="1598.3" r="8" fill="#fbe8ce"/><circle cx="1330.6" cy="1640.8" r="8" fill="#f9f1e7"/><circle cx="1351.1" cy="1632.3" r="8" fill="#2e014c"/><circle cx="1330.5" cy="1589.8" r="8" fill="#fedbab"/><circle cx="1308.3" cy="1598.3" r="8" fill="#a55007"/><circle cx="1368.9" cy="1606.8" r="8" fill="#fdcc8c"/><circle cx="1355.7" cy="1623.8" r="8" fill="#2f024e"/><circle cx="1281.3" cy="1589.8" r="8" fill="#a14e07"/><circle cx="1467.6" cy="1598.3" r="8" fill="#330654"/><circle cx="1277.6" cy="1589.8" r="8" fill="#ac5406"/><circle cx="1225.9" cy="1606.8" r="8" fill="#a24f07"/><circle cx="1461.2" cy="1606.8" r="8" fill="#fedbac"/><circle cx="1420.2" cy="1623.8" r="8" fill="#fece91"/><circle cx="1258.6" cy="1623.8" r="8" fill="#a95206"/><circle cx="1286.0" cy="1640.8" r="8" fill="#a04d07"/><circle cx="1356.7" cy="1606.8" r="8" fill="#f3f3f6"/><circle cx="1382.0" cy="1623.8" r="8" fill="#fed39b"/><circle cx="1237.3" cy="1623.8" r="8" fill="#934607"/><circle cx="1096.0" cy="1615.3" r="8" fill="#994a07"/><circle cx="1302.5" cy="1623.8" r="8" fill="#994a07"/><circle cx="1384.0" cy="1606.8" r="8" fill="#30034f"/><circle cx="1349.2" cy="1606.8" r="8" fill="#fecc8d"/><circle cx="1248.4" cy="1623.8" r="8" fill="#964807"/><circle cx="1334.8" cy="1632.3" r="8" fill="#fee1b9"/><circle cx="1348.2" cy="1598.3" r="8" fill="#fce6c6"/><circle cx="1260.8" cy="1632.3" r="8" fill="#9e4c07"/><circle cx="1318.6" cy="1623.8" r="8" fill="#2d004b"/><circle cx="1277.9" cy="1640.8" r="8" fill="#a55007"/><circle cx="1478.6" cy="1615.3" r="8" fill="#fce5c5"/><circle cx="1396.2" cy="1606.8" r="8" fill="#fed8a5"/><circle cx="1310.9" cy="1623.8" r="8" fill="#ba5f08"/><circle cx="1432.7" cy="1623.8" r="8" fill="#2d004b"/><circle cx="1485.2" cy="1615.3" r="8" fill="#fde2bb"/><circle cx="1251.0" cy="1632.3" r="8" fill="#ad5506"/><circle cx="1411.7" cy="1615.3" r="8" fill="#fedcaf"/><circle cx="1447.4" cy="1615.3" r="8" fill="#2d004b"/><circle cx="1277.7" cy="1598.3" r="8" fill="#924507"/><circle cx="1241.3" cy="1606.8" r="8" fill="#9b4b07"/><circle cx="1248.7" cy="1606.8" r="8" fill="#984907"/><circle cx="1299.3" cy="1615.3" r="8" fill="#a34f07"/><circle cx="1350.5" cy="1589.8" r="8" fill="#fee1ba"/><circle cx="1323.4" cy="1615.3" r="8" fill="#fece91"/><circle cx="1338.7" cy="1615.3" r="8" fill="#f8f3ec"/><circle cx="1416.6" cy="1615.3" r="8" fill="#fed59e"/><circle cx="1275.6" cy="1615.3" r="8" fill="#a14e07"/><circle cx="1295.5" cy="1615.3" r="8" fill="#9f4d07"/><circle cx="1391.3" cy="1623.8" r="8" fill="#fde3be"/><circle cx="1281.9" cy="1615.3" r="8" fill="#843e08"/><circle cx="1410.2" cy="1606.8" r="8" fill="#30034f"/><circle cx="1244.1" cy="1615.3" r="8" fill="#a85206"/><circle cx="1370.8" cy="1606.8" r="8" fill="#fed29a"/><circle cx="1469.0" cy="1606.8" r="8" fill="#fed9a7"/><circle cx="1446.3" cy="1606.8" r="8" fill="#fed39b"/><circle cx="1391.5" cy="1606.8" r="8" fill="#fecf93"/><circle cx="1525.5" cy="1615.3" r="8" fill="#2e014c"/><circle cx="1349.8" cy="1649.3" r="8" fill="#2d004b"/><circle cx="1297.4" cy="1632.3" r="8" fill="#b25706"/><circle cx="1366.2" cy="1615.3" r="8" fill="#f8f4ef"/><circle cx="1205.1" cy="1615.3" r="8" fill="#9f4d07"/><circle cx="1325.2" cy="1632.3" r="8" fill="#f9f1e6"/><circle cx="1304.3" cy="1606.8" r="8" fill="#954807"/><circle cx="1420.3" cy="1606.8" r="8" fill="#ed9a37"/><circle cx="1279.4" cy="1623.8" r="8" fill="#9c4b07"/><circle cx="1441.7" cy="1623.8" r="8" fill="#fde2bc"/><circle cx="1621.0" cy="1615.3" r="8" fill="#fee0b6"/><circle cx="1269.1" cy="1606.8" r="8" fill="#9c4b07"/><circle cx="1314.9" cy="1632.3" r="8" fill="#faeedf"/><circle cx="1431.6" cy="1606.8" r="8" fill="#fdc47c"/><circle cx="1261.4" cy="1598.3" r="8" fill="#a14e07"/><circle cx="1463.8" cy="1615.3" r="8" fill="#fedaaa"/><circle cx="1216.9" cy="1615.3" r="8" fill="#a65107"/><circle cx="1374.5" cy="1623.8" r="8" fill="#fdca88"/><circle cx="1292.1" cy="1606.8" r="8" fill="#a55007"/><circle cx="1448.5" cy="1623.8" r="8" fill="#fde2bc"/><circle cx="1267.8" cy="1623.8" r="8" fill="#a34f07"/><circle cx="1290.6" cy="1598.3" r="8" fill="#a45007"/><circle cx="1609.0" cy="1615.3" r="8" fill="#fee0b6"/><circle cx="1288.7" cy="1589.8" r="8" fill="#a04d07"/><circle cx="1266.8" cy="1615.3" r="8" fill="#a95206"/><circle cx="1275.8" cy="1606.8" r="8" fill="#9c4b07"/><circle cx="1342.8" cy="1623.8" r="8" fill="#faeedd"/><circle cx="1236.0" cy="1615.3" r="8" fill="#984907"/><circle cx="1285.9" cy="1606.8" r="8" fill="#af5606"/><circle cx="1288.6" cy="1623.8" r="8" fill="#a45007"/><circle cx="1332.7" cy="1606.8" r="8" fill="#eeeff4"/><circle cx="1343.7" cy="1589.8" r="8" fill="#fee0b5"/><circle cx="1332.4" cy="1581.3" r="8" fill="#fedbac"/><circle cx="1314.1" cy="1598.3" r="8" fill="#340756"/><circle cx="1240.7" cy="1623.8" r="8" fill="#a34f07"/><circle cx="1283.5" cy="1623.8" r="8" fill="#a44f07"/><circle cx="1269.4" cy="1589.8" r="8" fill="#a04e07"/><circle cx="1340.4" cy="1640.8" r="8" fill="#2d004b"/><circle cx="1299.4" cy="1598.3" r="8" fill="#ae5506"/><circle cx="1404.2" cy="1606.8" r="8" fill="#2d004b"/><circle cx="1395.5" cy="1615.3" r="8" fill="#fedbab"/><circle cx="1428.3" cy="1623.8" r="8" fill="#fce6c7"/><circle cx="1326.0" cy="1623.8" r="8" fill="#fed49c"/><circle cx="1426.4" cy="1615.3" r="8" fill="#300350"/><circle cx="1109.0" cy="1615.3" r="8" fill="#994a07"/><circle cx="1246.6" cy="1598.3" r="8" fill="#a04e07"/><circle cx="1220.7" cy="1615.3" r="8" fill="#9c4b07"/><circle cx="1435.7" cy="1606.8" r="8" fill="#2d004b"/><circle cx="1229.0" cy="1623.8" r="8" fill="#a45007"/><circle cx="1461.6" cy="1623.8" r="8" fill="#2d004b"/><circle cx="1205.3" cy="1606.8" r="8" fill="#a24e07"/><circle cx="1295.2" cy="1632.3" r="8" fill="#954707"/><circle cx="1523.7" cy="1606.8" r="8" fill="#2d004b"/><circle cx="1473.6" cy="1615.3" r="8" fill="#fee0b6"/><circle cx="1381.5" cy="1615.3" r="8" fill="#2d004b"/><circle cx="1471.4" cy="1615.3" r="8" fill="#fcb660"/><circle cx="1251.5" cy="1598.3" r="8" fill="#a14e07"/><circle cx="1212.0" cy="1606.8" r="8" fill="#a45007"/><circle cx="1229.4" cy="1615.3" r="8" fill="#984907"/><circle cx="1271.8" cy="1598.3" r="8" fill="#954707"/><circle cx="1351.0" cy="1640.8" r="8" fill="#310451"/><circle cx="1256.4" cy="1606.8" r="8" fill="#aa5306"/><circle cx="1350.1" cy="1581.3" r="8" fill="#f7f5f3"/><circle cx="1338.3" cy="1581.3" r="8" fill="#f7f7f7"/><circle cx="1356.3" cy="1615.3" r="8" fill="#a85206"/><circle cx="1344.6" cy="1606.8" r="8" fill="#fde4c1"/><circle cx="1235.4" cy="1598.3" r="8" fill="#863f08"/><circle cx="1236.2" cy="1606.8" r="8" fill="#9d4c07"/><circle cx="1502.0" cy="1615.3" r="8" fill="#2d004b"/><circle cx="1323.3" cy="1606.8" r="8" fill="#fedbac"/><circle cx="1451.4" cy="1606.8" r="8" fill="#f5a94d"/><circle cx="1318.7" cy="1606.8" r="8" fill="#f7f6f5"/><circle cx="1266.4" cy="1632.3" r="8" fill="#a65107"/><circle cx="1365.8" cy="1598.3" r="8" fill="#fedbad"/><circle cx="1285.4" cy="1598.3" r="8" fill="#b45906"/><circle cx="1363.6" cy="1623.8" r="8" fill="#f8f3ec"/><circle cx="1356.2" cy="1640.8" r="8" fill="#fed196"/><circle cx="1282.2" cy="1632.3" r="8" fill="#ac5406"/><circle cx="1336.4" cy="1615.3" r="8" fill="#fed8a4"/><circle cx="1333.1" cy="1623.8" r="8" fill="#fed5a0"/><circle cx="1303.0" cy="1589.8" r="8" fill="#ab5306"/><circle cx="1450.5" cy="1615.3" r="8" fill="#2d004b"/><circle cx="1349.4" cy="1615.3" r="8" fill="#fed5a0"/><circle cx="1329.9" cy="1598.3" r="8" fill="#fedeb1"/><circle cx="1308.0" cy="1615.3" r="8" fill="#a55007"/><circle cx="1401.1" cy="1623.8" r="8" fill="#fce5c5"/><circle cx="1397.7" cy="1598.3" r="8" fill="#300350"/><circle cx="1347.3" cy="1623.8" r="8" fill="#f8f3eb"/><circle cx="1397.9" cy="1623.8" r="8" fill="#2d004b"/><circle cx="1249.1" cy="1615.3" r="8" fill="#a55007"/><circle cx="1433.5" cy="1615.3" r="8" fill="#f1a141"/><circle cx="1441.2" cy="1598.3" r="8" fill="#fed7a3"/><circle cx="1390.3" cy="1615.3" r="8" fill="#fedeb2"/><circle cx="1319.6" cy="1615.3" r="8" fill="#b25806"/><circle cx="1263.3" cy="1615.3" r="8" fill="#ab5406"/><circle cx="1342.3" cy="1598.3" r="8" fill="#2f024f"/><circle cx="1299.7" cy="1606.8" r="8" fill="#a85206"/><circle cx="1371.4" cy="1615.3" r="8" fill="#fedeb1"/><circle cx="1407.2" cy="1615.3" r="8" fill="#fbebd6"/><circle cx="1341.8" cy="1632.3" r="8" fill="#ecedf3"/><circle cx="1514.3" cy="1606.8" r="8" fill="#2f024e"/><circle cx="1465.1" cy="1623.8" r="8" fill="#2d004b"/><circle cx="1355.7" cy="1589.8" r="8" fill="#fce6c8"/><circle cx="1219.3" cy="1606.8" r="8" fill="#9a4a07"/><circle cx="1546.0" cy="1615.3" r="8" fill="#fee0b6"/><circle cx="1326.5" cy="1598.3" r="8" fill="#f7f6f3"/><circle cx="1200.9" cy="1615.3" r="8" fill="#9f4d07"/><circle cx="1517.4" cy="1615.3" r="8" fill="#2d004b"/>
</g>
<g>
<circle cx="1376.8" cy="1736.6" r="8" fill="#c3c0dd"/><circle cx="1228.6" cy="1745.1" r="8" fill="#ad5506"/><circle cx="1508.0" cy="1742.6" r="8" fill="#6a4d9a"/><circle cx="1319.7" cy="1728.1" r="8" fill="#e18518"/><circle cx="1394.2" cy="1719.6" r="8" fill="#8579b0"/><circle cx="1286.1" cy="1719.6" r="8" fill="#d0730f"/><circle cx="1380.4" cy="1770.6" r="8" fill="#542788"/><circle cx="1192.6" cy="1736.6" r="8" fill="#944707"/><circle cx="1471.1" cy="1728.1" r="8" fill="#2e014c"/><circle cx="1250.0" cy="1753.6" r="8" fill="#b75c07"/><circle cx="1347.0" cy="1728.1" r="8" fill="#7967a6"/><circle cx="1462.6" cy="1728.1" r="8" fill="#320553"/><circle cx="1313.8" cy="1745.1" r="8" fill="#e68d24"/><circle cx="1300.3" cy="1745.1" r="8" fill="#d1740f"/><circle cx="1277.7" cy="1736.6" r="8" fill="#b55a07"/><circle cx="1480.6" cy="1728.1" r="8" fill="#b1a9d1"/><circle cx="1221.1" cy="1728.1" r="8" fill="#974807"/><circle cx="1383.6" cy="1728.1" r="8" fill="#8579b0"/><circle cx="1308.1" cy="1719.6" r="8" fill="#f1a142"/><circle cx="1395.7" cy="1736.6" r="8" fill="#988dbe"/><circle cx="1428.7" cy="1728.1" r="8" fill="#2e014d"/><circle cx="1248.5" cy="1736.6" r="8" fill="#c1650a"/><circle cx="1409.0" cy="1736.6" r="8" fill="#d27510"/><circle cx="1242.9" cy="1728.1" r="8" fill="#a04d07"/><circle cx="1396.2" cy="1728.1" r="8" fill="#8d82b6"/><circle cx="1171.0" cy="1729.6" r="8" fill="#944707"/><circle cx="1422.0" cy="1745.1" r="8" fill="#330654"/><circle cx="1338.7" cy="1736.6" r="8" fill="#f3f3f5"/><circle cx="1182.6" cy="1728.1" r="8" fill="#954707"/><circle cx="1260.7" cy="1736.6" r="8" fill="#cb6f0e"/><circle cx="1262.2" cy="1728.1" r="8" fill="#c3670b"/><circle cx="1224.2" cy="1736.6" r="8" fill="#9f4d07"/><circle cx="1365.4" cy="1762.1" r="8" fill="#6d529d"/><circle cx="1389.8" cy="1745.1" r="8" fill="#592f8c"/><circle cx="1453.0" cy="1719.6" r="8" fill="#320553"/><circle cx="1366.4" cy="1719.6" r="8" fill="#6d539d"/><circle cx="1251.8" cy="1719.6" r="8" fill="#9b4b07"/><circle cx="1254.2" cy="1728.1" r="8" fill="#c6690c"/><circle cx="1397.4" cy="1762.1" r="8" fill="#7d6da9"/><circle cx="1289.9" cy="1753.6" r="8" fill="#e08214"/><circle cx="1473.2" cy="1736.6" r="8" fill="#b9b4d7"/><circle cx="1394.6" cy="1753.6" r="8" fill="#a59cc8"/><circle cx="1283.8" cy="1728.1" r="8" fill="#e79028"/><circle cx="1293.0" cy="1753.6" r="8" fill="#da7c12"/><circle cx="1315.8" cy="1736.6" r="8" fill="#dc7f13"/><circle cx="1240.9" cy="1736.6" r="8" fill="#aa5306"/><circle cx="1391.4" cy="1711.1" r="8" fill="#8a7eb3"/><circle cx="1332.6" cy="1745.1" r="8" fill="#c2660b"/><circle cx="1307.0" cy="1706.6" r="8" fill="#6a4d9a"/><circle cx="1228.4" cy="1736.6" r="8" fill="#a14e07"/><circle cx="1387.4" cy="1702.6" r="8" fill="#7f72ab"/><circle cx="1266.9" cy="1736.6" r="8" fill="#cc6f0e"/><circle cx="1322.9" cy="1736.6" r="8" fill="#cc6f0e"/><circle cx="1214.5" cy="1736.6" r="8" fill="#a55007"/><circle cx="1278.8" cy="1753.6" r="8" fill="#dc7e13"/><circle cx="1423.0" cy="1728.1" r="8" fill="#350858"/><circle cx="1223.5" cy="1728.1" r="8" fill="#9e4c07"/><circle cx="1428.7" cy="1736.6" r="8" fill="#3a0d5f"/><circle cx="1373.3" cy="1728.1" r="8" fill="#5d378f"/><circle cx="1236.9" cy="1753.6" r="8" fill="#954807"/><circle cx="1435.5" cy="1728.1" r="8" fill="#360959"/><circle cx="1279.5" cy="1719.6" r="8" fill="#ca6d0d"/><circle cx="1194.0" cy="1745.1" r="8" fill="#8e4307"/><circle cx="1357.4" cy="1736.6" r="8" fill="#ada5ce"/><circle cx="1259.1" cy="1711.1" r="8" fill="#c86b0c"/><circle cx="1188.2" cy="1736.6" r="8" fill="#8f4407"/><circle cx="1308.5" cy="1745.1" r="8" fill="#f8af55"/><circle cx="1338.8" cy="1745.1" r="8" fill="#fee0b6"/><circle cx="1269.3" cy="1728.1" r="8" fill="#ca6d0d"/><circle cx="1413.4" cy="1736.6" r="8" fill="#491c76"/><circle cx="1288.7" cy="1728.1" r="8" fill="#d47710"/><circle cx="1359.9" cy="1745.1" r="8" fill="#a69ec9"/><circle cx="1333.2" cy="1736.6" r="8" fill="#f9b159"/><circle cx="1299.7" cy="1719.6" r="8" fill="#bf630a"/><circle cx="1359.9" cy="1728.1" r="8" fill="#7a69a7"/><circle cx="1407.6" cy="1728.1" r="8" fill="#401368"/><circle cx="1428.0" cy="1719.6" r="8" fill="#370a5b"/><circle cx="1368.8" cy="1753.6" r="8" fill="#8072ac"/><circle cx="1243.1" cy="1711.1" r="8" fill="#b35806"/><circle cx="1322.7" cy="1745.1" r="8" fill="#f5a94c"/><circle cx="1206.6" cy="1736.6" r="8" fill="#a04d07"/><circle cx="1276.3" cy="1728.1" r="8" fill="#ce710e"/><circle cx="1420.8" cy="1719.6" r="8" fill="#2d004b"/><circle cx="1434.7" cy="1719.6" r="8" fill="#2d004b"/><circle cx="1307.2" cy="1728.1" r="8" fill="#e9922c"/><circle cx="1222.3" cy="1745.1" r="8" fill="#964807"/><circle cx="1342.4" cy="1728.1" r="8" fill="#fdbc6b"/><circle cx="1398.5" cy="1745.1" r="8" fill="#512483"/><circle cx="1237.5" cy="1719.6" r="8" fill="#af5606"/><circle cx="1461.1" cy="1736.6" r="8" fill="#390c5e"/><circle cx="1287.4" cy="1745.1" r="8" fill="#c1650a"/><circle cx="1408.1" cy="1745.1" r="8" fill="#310451"/><circle cx="1447.0" cy="1728.1" r="8" fill="#2d004b"/><circle cx="1445.2" cy="1719.6" r="8" fill="#3b0e60"/><circle cx="1416.0" cy="1745.1" r="8" fill="#7764a5"/><circle cx="1380.9" cy="1762.1" r="8" fill="#d0d0e5"/><circle cx="1410.7" cy="1753.6" r="8" fill="#7764a5"/><circle cx="1427.7" cy="1745.1" r="8" fill="#b4aed4"/><circle cx="1265.0" cy="1762.1" r="8" fill="#a34f07"/><circle cx="1469.1" cy="1736.6" r="8" fill="#340755"/><circle cx="1260.5" cy="1719.6" r="8" fill="#c2660b"/><circle cx="1292.9" cy="1745.1" r="8" fill="#d67911"/><circle cx="1367.7" cy="1728.1" r="8" fill="#8275ad"/><circle cx="1235.9" cy="1745.1" r="8" fill="#9f4d07"/><circle cx="1364.1" cy="1711.1" r="8" fill="#9f96c4"/><circle cx="1417.4" cy="1719.6" r="8" fill="#aca4cd"/><circle cx="1383.1" cy="1719.6" r="8" fill="#8073ac"/><circle cx="1200.5" cy="1745.1" r="8" fill="#9d4c07"/><circle cx="1352.0" cy="1736.6" r="8" fill="#f4f4f6"/><circle cx="1218.1" cy="1745.1" r="8" fill="#904407"/><circle cx="1265.5" cy="1745.1" r="8" fill="#cb6f0e"/><circle cx="1323.7" cy="1728.1" r="8" fill="#f1a243"/><circle cx="1392.6" cy="1736.6" r="8" fill="#a198c5"/><circle cx="1503.0" cy="1729.6" r="8" fill="#6a4d9a"/><circle cx="1410.8" cy="1719.6" r="8" fill="#b0a9d1"/><circle cx="1229.8" cy="1728.1" r="8" fill="#a85206"/><circle cx="1299.3" cy="1736.6" r="8" fill="#d47710"/><circle cx="1335.0" cy="1728.1" r="8" fill="#fdbe6f"/><circle cx="1396.7" cy="1753.6" r="8" fill="#562b8a"/><circle cx="1383.1" cy="1736.6" r="8" fill="#b6b0d5"/><circle cx="1227.6" cy="1719.6" r="8" fill="#c6690c"/><circle cx="1245.5" cy="1753.6" r="8" fill="#da7c12"/><circle cx="1393.3" cy="1728.1" r="8" fill="#a59cc8"/><circle cx="1265.0" cy="1753.6" r="8" fill="#bc6009"/><circle cx="1402.5" cy="1719.6" r="8" fill="#6f559e"/><circle cx="1456.6" cy="1736.6" r="8" fill="#401369"/><circle cx="1271.2" cy="1719.6" r="8" fill="#a14e07"/><circle cx="1391.6" cy="1762.1" r="8" fill="#9f96c4"/><circle cx="1307.2" cy="1736.6" r="8" fill="#e68e25"/><circle cx="1441.8" cy="1736.6" r="8" fill="#2d004b"/><circle cx="1450.5" cy="1745.1" r="8" fill="#2d004c"/><circle cx="1272.1" cy="1711.1" r="8" fill="#aa5306"/><circle cx="1261.7" cy="1702.6" r="8" fill="#b95e08"/><circle cx="1414.7" cy="1728.1" r="8" fill="#624094"/><circle cx="1396.7" cy="1711.1" r="8" fill="#a79fca"/><circle cx="1257.2" cy="1711.1" r="8" fill="#d87b12"/><circle cx="1404.0" cy="1736.6" r="8" fill="#3b0e61"/><circle cx="1492.0" cy="1736.6" r="8" fill="#bab4d7"/><circle cx="1191.4" cy="1728.1" r="8" fill="#8f4407"/><circle cx="1378.2" cy="1753.6" r="8" fill="#522586"/><circle cx="1301.3" cy="1728.1" r="8" fill="#e9942e"/><circle cx="1278.9" cy="1745.1" r="8" fill="#d57811"/><circle cx="1207.4" cy="1728.1" r="8" fill="#944607"/><circle cx="1456.6" cy="1728.1" r="8" fill="#360959"/><circle cx="1363.5" cy="1736.6" r="8" fill="#a299c6"/><circle cx="1244.4" cy="1745.1" r="8" fill="#b35806"/><circle cx="1440.6" cy="1745.1" r="8" fill="#2d004b"/><circle cx="1424.8" cy="1736.6" r="8" fill="#2d004b"/><circle cx="1200.9" cy="1736.6" r="8" fill="#9d4c07"/><circle cx="1443.6" cy="1745.1" r="8" fill="#2d004b"/><circle cx="1253.2" cy="1745.1" r="8" fill="#c4680b"/><circle cx="1382.5" cy="1745.1" r="8" fill="#b9b4d7"/><circle cx="1373.6" cy="1719.6" r="8" fill="#8d81b6"/><circle cx="1433.7" cy="1736.6" r="8" fill="#2d004b"/><circle cx="1266.8" cy="1745.1" r="8" fill="#d97b12"/><circle cx="1348.9" cy="1745.1" r="8" fill="#fde4c1"/><circle cx="1377.9" cy="1745.1" r="8" fill="#948abb"/><circle cx="1246.2" cy="1719.6" r="8" fill="#cb6e0d"/><circle cx="1290.1" cy="1736.6" r="8" fill="#e9932e"/><circle cx="1384.8" cy="1702.6" r="8" fill="#998fbf"/><circle cx="1384.2" cy="1711.1" r="8" fill="#877bb1"/><circle cx="1171.0" cy="1743.6" r="8" fill="#944707"/><circle cx="1274.0" cy="1753.6" r="8" fill="#ae5506"/><circle cx="1232.5" cy="1753.6" r="8" fill="#bd6109"/><circle cx="1254.1" cy="1736.6" r="8" fill="#cb6e0d"/><circle cx="1291.6" cy="1719.6" r="8" fill="#ea942e"/><circle cx="1355.1" cy="1719.6" r="8" fill="#a9a1cb"/><circle cx="1285.5" cy="1736.6" r="8" fill="#b95e08"/><circle cx="1382.6" cy="1753.6" r="8" fill="#7f71ab"/><circle cx="1269.3" cy="1762.1" r="8" fill="#d67911"/><circle cx="1212.9" cy="1745.1" r="8" fill="#984907"/><circle cx="1368.3" cy="1745.1" r="8" fill="#998fbf"/><circle cx="1414.9" cy="1753.6" r="8" fill="#b8b3d6"/><circle cx="1241.3" cy="1728.1" r="8" fill="#b45906"/><circle cx="1205.0" cy="1728.1" r="8" fill="#984907"/>
</g>
<g>
<circle cx="1347.7" cy="1858.0" r="8" fill="#cb6f0e"/><circle cx="1344.4" cy="1875.0" r="8" fill="#bf630a"/><circle cx="1332.8" cy="1858.0" r="8" fill="#ee9c3a"/><circle cx="1262.9" cy="1866.5" r="8" fill="#725ca1"/><circle cx="1309.7" cy="1849.5" r="8" fill="#a8a0ca"/><circle cx="1351.5" cy="1841.0" r="8" fill="#d27510"/><circle cx="1302.9" cy="1824.0" r="8" fill="#fdbe70"/><circle cx="1567.9" cy="1858.0" r="8" fill="#af5606"/><circle cx="1191.1" cy="1858.0" r="8" fill="#fed094"/><circle cx="1393.0" cy="1866.5" r="8" fill="#954707"/><circle cx="1322.7" cy="1858.0" r="8" fill="#fdc379"/><circle cx="1334.3" cy="1866.5" r="8" fill="#f3a548"/><circle cx="1317.2" cy="1883.5" r="8" fill="#fdc074"/><circle cx="1128.0" cy="1858.0" r="8" fill="#fdb863"/><circle cx="1565.9" cy="1849.5" r="8" fill="#e08315"/><circle cx="1263.5" cy="1841.0" r="8" fill="#fdbd6e"/><circle cx="1403.8" cy="1866.5" r="8" fill="#a24f07"/><circle cx="1369.3" cy="1866.5" r="8" fill="#a75106"/><circle cx="1301.8" cy="1841.0" r="8" fill="#b05706"/><circle cx="1329.1" cy="1841.0" r="8" fill="#a55007"/><circle cx="1219.9" cy="1858.0" r="8" fill="#f8f5f1"/><circle cx="1318.3" cy="1824.0" r="8" fill="#f7ac52"/><circle cx="1412.6" cy="1858.0" r="8" fill="#c4680b"/><circle cx="1384.6" cy="1849.5" r="8" fill="#a14e07"/><circle cx="1570.8" cy="1858.0" r="8" fill="#da7c12"/><circle cx="1379.0" cy="1858.0" r="8" fill="#904407"/><circle cx="1200.8" cy="1858.0" r="8" fill="#fdc279"/><circle cx="1249.7" cy="1849.5" r="8" fill="#feddb0"/><circle cx="1183.9" cy="1858.0" r="8" fill="#f8af55"/><circle cx="1395.9" cy="1841.0" r="8" fill="#c4680b"/><circle cx="1335.7" cy="1883.5" r="8" fill="#e3881d"/><circle cx="1355.8" cy="1849.5" r="8" fill="#ec9834"/><circle cx="1297.4" cy="1858.0" r="8" fill="#401369"/><circle cx="1413.4" cy="1849.5" r="8" fill="#a55007"/><circle cx="1401.0" cy="1858.0" r="8" fill="#a45007"/><circle cx="1286.2" cy="1866.5" r="8" fill="#ada6cf"/><circle cx="1304.7" cy="1875.0" r="8" fill="#eb9733"/><circle cx="1260.1" cy="1841.0" r="8" fill="#3f1267"/><circle cx="1450.5" cy="1858.0" r="8" fill="#ec9834"/><circle cx="1180.4" cy="1849.5" r="8" fill="#fdc47c"/><circle cx="1349.1" cy="1849.5" r="8" fill="#e28619"/><circle cx="1238.0" cy="1849.5" r="8" fill="#fde3bf"/><circle cx="1278.6" cy="1866.5" r="8" fill="#44176f"/><circle cx="1291.1" cy="1849.5" r="8" fill="#fdbc6b"/><circle cx="1318.1" cy="1858.0" r="8" fill="#e18417"/><circle cx="1295.5" cy="1875.0" r="8" fill="#fcb761"/><circle cx="1243.3" cy="1858.0" r="8" fill="#fde3be"/><circle cx="1522.7" cy="1858.0" r="8" fill="#b55a07"/><circle cx="1484.0" cy="1858.0" r="8" fill="#d27510"/><circle cx="1289.2" cy="1866.5" r="8" fill="#3a0d5f"/><circle cx="1370.9" cy="1858.0" r="8" fill="#9a4a07"/><circle cx="1381.4" cy="1858.0" r="8" fill="#b55a07"/><circle cx="1383.7" cy="1841.0" r="8" fill="#b35806"/><circle cx="1510.8" cy="1858.0" r="8" fill="#b05606"/><circle cx="1330.7" cy="1875.0" r="8" fill="#eb9732"/><circle cx="1703.0" cy="1853.0" r="8" fill="#a34f07"/><circle cx="1340.2" cy="1866.5" r="8" fill="#e48a20"/><circle cx="1283.1" cy="1849.5" r="8" fill="#745fa2"/><circle cx="1223.7" cy="1849.5" r="8" fill="#fdc781"/><circle cx="1233.6" cy="1849.5" r="8" fill="#fedcae"/><circle cx="1319.4" cy="1841.0" r="8" fill="#f9b057"/><circle cx="1327.2" cy="1866.5" r="8" fill="#fdba67"/><circle cx="1212.8" cy="1858.0" r="8" fill="#f3a547"/><circle cx="1231.4" cy="1858.0" r="8" fill="#f9f0e4"/><circle cx="1298.6" cy="1849.5" r="8" fill="#fdc884"/><circle cx="1225.5" cy="1858.0" r="8" fill="#faeede"/><circle cx="1292.2" cy="1841.0" r="8" fill="#e68d25"/><circle cx="1193.1" cy="1849.5" r="8" fill="#fdb864"/><circle cx="1403.2" cy="1849.5" r="8" fill="#ae5506"/><circle cx="1293.7" cy="1858.0" r="8" fill="#f6ac51"/><circle cx="1314.0" cy="1849.5" r="8" fill="#de8013"/><circle cx="1345.5" cy="1849.5" r="8" fill="#c76a0c"/><circle cx="1259.5" cy="1849.5" r="8" fill="#2d004b"/><circle cx="1262.5" cy="1858.0" r="8" fill="#6b4e9a"/><circle cx="1272.7" cy="1858.0" r="8" fill="#fdc278"/><circle cx="1334.7" cy="1832.5" r="8" fill="#b25706"/><circle cx="1342.3" cy="1841.0" r="8" fill="#c3670b"/><circle cx="1396.4" cy="1849.5" r="8" fill="#934607"/><circle cx="1369.7" cy="1849.5" r="8" fill="#ae5506"/><circle cx="1174.8" cy="1858.0" r="8" fill="#f09f3f"/><circle cx="1326.2" cy="1832.5" r="8" fill="#fce7c9"/><circle cx="1576.1" cy="1858.0" r="8" fill="#c86c0d"/><circle cx="1358.5" cy="1875.0" r="8" fill="#faefdf"/><circle cx="1245.6" cy="1858.0" r="8" fill="#fbead2"/><circle cx="1331.5" cy="1841.0" r="8" fill="#d57811"/><circle cx="1607.0" cy="1858.0" r="8" fill="#d1740f"/><circle cx="1299.2" cy="1875.0" r="8" fill="#f7ad53"/><circle cx="1304.3" cy="1832.5" r="8" fill="#fdbb69"/><circle cx="1283.8" cy="1841.0" r="8" fill="#6c509b"/><circle cx="1370.9" cy="1841.0" r="8" fill="#9a4a07"/><circle cx="1329.2" cy="1883.5" r="8" fill="#a34f07"/><circle cx="1307.1" cy="1866.5" r="8" fill="#b45906"/><circle cx="1198.0" cy="1858.0" r="8" fill="#fdb863"/><circle cx="1307.4" cy="1858.0" r="8" fill="#2d004b"/><circle cx="1405.5" cy="1858.0" r="8" fill="#a95206"/><circle cx="1389.2" cy="1858.0" r="8" fill="#bc6009"/><circle cx="1317.5" cy="1875.0" r="8" fill="#da7c12"/><circle cx="1263.1" cy="1858.0" r="8" fill="#735da1"/><circle cx="1328.6" cy="1849.5" r="8" fill="#fdc175"/><circle cx="1298.9" cy="1832.5" r="8" fill="#f7ac52"/><circle cx="1303.4" cy="1892.0" r="8" fill="#4d207c"/><circle cx="1345.7" cy="1832.5" r="8" fill="#9f4d07"/><circle cx="1332.1" cy="1849.5" r="8" fill="#e78e26"/><circle cx="1328.2" cy="1875.0" r="8" fill="#bd6109"/><circle cx="1426.2" cy="1849.5" r="8" fill="#a24f07"/><circle cx="1351.7" cy="1866.5" r="8" fill="#b05606"/><circle cx="1268.2" cy="1849.5" r="8" fill="#4e217f"/><circle cx="1358.5" cy="1841.0" r="8" fill="#fde3bf"/><circle cx="1516.4" cy="1858.0" r="8" fill="#ae5506"/><circle cx="1421.7" cy="1858.0" r="8" fill="#d87a11"/><circle cx="1308.2" cy="1841.0" r="8" fill="#f0a141"/><circle cx="1218.9" cy="1849.5" r="8" fill="#faecd8"/><circle cx="1396.9" cy="1866.5" r="8" fill="#934607"/><circle cx="1344.0" cy="1883.5" r="8" fill="#9c4b07"/><circle cx="1374.0" cy="1849.5" r="8" fill="#b35806"/><circle cx="1700.0" cy="1862.0" r="8" fill="#a34f07"/><circle cx="1572.8" cy="1849.5" r="8" fill="#c1650a"/><circle cx="1356.4" cy="1866.5" r="8" fill="#cf720f"/><circle cx="1278.9" cy="1832.5" r="8" fill="#a59dc8"/><circle cx="1469.0" cy="1858.0" r="8" fill="#fce8cb"/><circle cx="1167.4" cy="1858.0" r="8" fill="#f8ae54"/><circle cx="1585.6" cy="1858.0" r="8" fill="#c66a0c"/><circle cx="1066.0" cy="1858.0" r="8" fill="#e08214"/><circle cx="1373.7" cy="1866.5" r="8" fill="#a65106"/><circle cx="1551.5" cy="1858.0" r="8" fill="#db7e13"/><circle cx="1662.0" cy="1858.0" r="8" fill="#a34f07"/><circle cx="1302.7" cy="1815.5" r="8" fill="#9d4c07"/><circle cx="1314.0" cy="1832.5" r="8" fill="#fdc67f"/><circle cx="1682.0" cy="1858.0" r="8" fill="#a95206"/><circle cx="1392.4" cy="1849.5" r="8" fill="#a04e07"/><circle cx="1780.0" cy="1858.0" r="8" fill="#d27510"/><circle cx="1428.3" cy="1858.0" r="8" fill="#df8114"/><circle cx="1384.9" cy="1866.5" r="8" fill="#d67911"/><circle cx="1341.5" cy="1858.0" r="8" fill="#faecd7"/><circle cx="1358.3" cy="1858.0" r="8" fill="#b65b07"/><circle cx="1314.5" cy="1866.5" r="8" fill="#9a4a07"/><circle cx="1274.6" cy="1875.0" r="8" fill="#8579b0"/><circle cx="1278.9" cy="1849.5" r="8" fill="#562a8a"/><circle cx="1286.2" cy="1858.0" r="8" fill="#6a4d9a"/><circle cx="1271.4" cy="1841.0" r="8" fill="#2d004b"/><circle cx="1267.7" cy="1866.5" r="8" fill="#867ab1"/><circle cx="1537.1" cy="1858.0" r="8" fill="#c1650a"/><circle cx="1280.8" cy="1875.0" r="8" fill="#9e95c3"/><circle cx="1530.4" cy="1858.0" r="8" fill="#b85c07"/><circle cx="1303.0" cy="1866.5" r="8" fill="#e58c23"/><circle cx="1301.7" cy="1883.5" r="8" fill="#f2a446"/>
</g>
<g>
<circle cx="1308.6" cy="1987.9" r="8" fill="#f9b159"/><circle cx="1347.8" cy="1970.9" r="8" fill="#aa5306"/><circle cx="1279.3" cy="1970.9" r="8" fill="#887cb2"/><circle cx="1232.7" cy="1979.4" r="8" fill="#4b1e7a"/><circle cx="1419.9" cy="1979.4" r="8" fill="#b45906"/><circle cx="1300.1" cy="1987.9" r="8" fill="#f4a84c"/><circle cx="1327.2" cy="1945.4" r="8" fill="#f7ad52"/><circle cx="1409.9" cy="1979.4" r="8" fill="#bd6109"/><circle cx="1407.2" cy="1970.9" r="8" fill="#8c4208"/><circle cx="1379.7" cy="1970.9" r="8" fill="#b25806"/><circle cx="1450.9" cy="1979.4" r="8" fill="#a65106"/><circle cx="1340.1" cy="1979.4" r="8" fill="#e18417"/><circle cx="1246.6" cy="1962.4" r="8" fill="#3c0f63"/><circle cx="1442.3" cy="1970.9" r="8" fill="#b85d08"/><circle cx="1294.2" cy="1979.4" r="8" fill="#f2a344"/><circle cx="1258.2" cy="1996.4" r="8" fill="#f9f2e9"/><circle cx="1325.0" cy="1936.9" r="8" fill="#fdb863"/><circle cx="1242.4" cy="1970.9" r="8" fill="#4f2281"/><circle cx="1386.5" cy="1987.9" r="8" fill="#e58b20"/><circle cx="1287.1" cy="1979.4" r="8" fill="#f3a548"/><circle cx="1359.6" cy="1987.9" r="8" fill="#e68d25"/><circle cx="1338.6" cy="1979.4" r="8" fill="#f6aa4f"/><circle cx="1567.0" cy="1979.4" r="8" fill="#b35806"/><circle cx="1333.6" cy="1987.9" r="8" fill="#fdbe70"/><circle cx="1265.6" cy="1987.9" r="8" fill="#f8f3ed"/><circle cx="1318.9" cy="1970.9" r="8" fill="#ee9c3a"/><circle cx="1238.8" cy="1979.4" r="8" fill="#a69dc9"/><circle cx="1316.0" cy="1987.9" r="8" fill="#fdb864"/><circle cx="1208.0" cy="1974.4" r="8" fill="#fdb863"/><circle cx="1515.0" cy="1979.4" r="8" fill="#a95206"/><circle cx="1346.4" cy="1987.9" r="8" fill="#fbead4"/><circle cx="1323.2" cy="2004.9" r="8" fill="#fdc073"/><circle cx="1371.7" cy="1962.4" r="8" fill="#b05606"/><circle cx="1317.3" cy="2013.4" r="8" fill="#ee9d3b"/><circle cx="1306.8" cy="1962.4" r="8" fill="#fdc37a"/><circle cx="1426.1" cy="1979.4" r="8" fill="#ca6e0d"/><circle cx="1264.4" cy="1970.9" r="8" fill="#8478af"/><circle cx="1276.5" cy="1987.9" r="8" fill="#5b338e"/><circle cx="1535.0" cy="1979.4" r="8" fill="#a95206"/><circle cx="1417.5" cy="1970.9" r="8" fill="#c0640a"/><circle cx="1332.9" cy="2004.9" r="8" fill="#e58b21"/><circle cx="1554.0" cy="1979.4" r="8" fill="#b35806"/><circle cx="1331.6" cy="1996.4" r="8" fill="#f8ae54"/><circle cx="1612.0" cy="1979.4" r="8" fill="#a95206"/><circle cx="1350.0" cy="1987.9" r="8" fill="#fce8cc"/><circle cx="1324.8" cy="1953.9" r="8" fill="#f7ad53"/><circle cx="1587.0" cy="1979.4" r="8" fill="#a95206"/><circle cx="1274.9" cy="1979.4" r="8" fill="#2d004b"/><circle cx="1313.3" cy="1996.4" r="8" fill="#a34f07"/><circle cx="1353.3" cy="1970.9" r="8" fill="#fdc47d"/><circle cx="1626.0" cy="1979.4" r="8" fill="#a95206"/><circle cx="1263.4" cy="1996.4" r="8" fill="#2d004b"/><circle cx="1365.4" cy="1987.9" r="8" fill="#fdb762"/><circle cx="1481.8" cy="1979.4" r="8" fill="#924607"/><circle cx="1431.5" cy="1979.4" r="8" fill="#c1650a"/><circle cx="1471.9" cy="1979.4" r="8" fill="#b55a07"/><circle cx="1258.4" cy="1970.9" r="8" fill="#552989"/><circle cx="1244.2" cy="1979.4" r="8" fill="#2d004b"/><circle cx="1357.2" cy="1979.4" r="8" fill="#e58c22"/><circle cx="1244.0" cy="1987.9" r="8" fill="#8e82b6"/><circle cx="1394.0" cy="1970.9" r="8" fill="#b25706"/><circle cx="1316.2" cy="1962.4" r="8" fill="#f6ac51"/><circle cx="1304.6" cy="1979.4" r="8" fill="#fbb55e"/><circle cx="1364.6" cy="1979.4" r="8" fill="#fed8a6"/><circle cx="1309.5" cy="1979.4" r="8" fill="#fdb864"/><circle cx="1338.7" cy="1962.4" r="8" fill="#fdbc6c"/><circle cx="1306.1" cy="1970.9" r="8" fill="#fdb762"/><circle cx="1288.6" cy="1970.9" r="8" fill="#f7ac52"/><circle cx="1365.0" cy="1970.9" r="8" fill="#e18417"/><circle cx="1267.5" cy="1962.4" r="8" fill="#2f024f"/><circle cx="1209.0" cy="1984.4" r="8" fill="#fdb863"/><circle cx="1377.7" cy="1962.4" r="8" fill="#f3a547"/><circle cx="1245.0" cy="1970.9" r="8" fill="#2d004b"/><circle cx="1455.2" cy="1979.4" r="8" fill="#a55007"/><circle cx="1379.1" cy="1987.9" r="8" fill="#f09f3f"/><circle cx="1261.2" cy="1953.9" r="8" fill="#f3f3f5"/><circle cx="1443.8" cy="1979.4" r="8" fill="#9c4b07"/><circle cx="1462.4" cy="1979.4" r="8" fill="#c4680b"/><circle cx="1432.1" cy="1970.9" r="8" fill="#b15706"/><circle cx="1272.6" cy="1962.4" r="8" fill="#41146b"/><circle cx="1349.8" cy="1962.4" r="8" fill="#f9f0e5"/><circle cx="1346.2" cy="1962.4" r="8" fill="#b15706"/><circle cx="1240.8" cy="1987.9" r="8" fill="#532686"/><circle cx="1257.3" cy="1962.4" r="8" fill="#5f3991"/><circle cx="1295.3" cy="1962.4" r="8" fill="#f8b057"/><circle cx="1321.1" cy="1987.9" r="8" fill="#fbb55f"/><circle cx="1273.2" cy="1996.4" r="8" fill="#310451"/><circle cx="1495.3" cy="1979.4" r="8" fill="#bf630a"/><circle cx="1232.0" cy="1970.9" r="8" fill="#735da2"/><circle cx="1372.4" cy="1979.4" r="8" fill="#a24e07"/><circle cx="1297.1" cy="1970.9" r="8" fill="#fdba67"/><circle cx="1313.2" cy="1970.9" r="8" fill="#fdb862"/><circle cx="1304.4" cy="1996.4" r="8" fill="#e68d24"/><circle cx="1667.0" cy="1979.4" r="8" fill="#a34f07"/><circle cx="1350.0" cy="1979.4" r="8" fill="#ef9f3e"/><circle cx="1277.4" cy="1979.4" r="8" fill="#6e549e"/><circle cx="1422.1" cy="1970.9" r="8" fill="#ae5506"/><circle cx="1332.8" cy="1987.9" r="8" fill="#f8af56"/><circle cx="1317.2" cy="1945.4" r="8" fill="#ef9e3d"/><circle cx="1711.0" cy="1979.4" r="8" fill="#a34f07"/><circle cx="1325.4" cy="1953.9" r="8" fill="#fdbb69"/><circle cx="1321.8" cy="1996.4" r="8" fill="#fdc176"/><circle cx="1358.3" cy="1970.9" r="8" fill="#fed9a8"/><circle cx="1332.3" cy="1979.4" r="8" fill="#f3a548"/><circle cx="1404.0" cy="1979.4" r="8" fill="#c76b0c"/><circle cx="1273.5" cy="1987.9" r="8" fill="#3e1166"/><circle cx="1330.0" cy="2013.4" r="8" fill="#ef9e3e"/><circle cx="1272.5" cy="1970.9" r="8" fill="#2d004b"/><circle cx="1325.2" cy="1970.9" r="8" fill="#fdbf71"/><circle cx="1306.4" cy="2004.9" r="8" fill="#f2a344"/><circle cx="1390.1" cy="1979.4" r="8" fill="#b85c07"/><circle cx="1255.7" cy="1953.9" r="8" fill="#7560a3"/><circle cx="1255.2" cy="1987.9" r="8" fill="#310451"/><circle cx="1328.6" cy="1962.4" r="8" fill="#fdb965"/><circle cx="1252.6" cy="1979.4" r="8" fill="#451871"/><circle cx="1261.8" cy="1979.4" r="8" fill="#340756"/><circle cx="1401.3" cy="1970.9" r="8" fill="#ab5306"/><circle cx="1333.1" cy="1970.9" r="8" fill="#fdc379"/><circle cx="1323.3" cy="1962.4" r="8" fill="#eb9733"/><circle cx="1385.3" cy="1979.4" r="8" fill="#c2660b"/><circle cx="1324.0" cy="1979.4" r="8" fill="#f8ae55"/><circle cx="1337.3" cy="1996.4" r="8" fill="#f9b159"/><circle cx="1308.7" cy="1953.9" r="8" fill="#f3a547"/><circle cx="1387.8" cy="1970.9" r="8" fill="#ba5f08"/>
</g>
<g>
<circle cx="1300.0" cy="2117.8" r="8" fill="#b2acd2"/><circle cx="1259.6" cy="2092.3" r="8" fill="#5a318d"/><circle cx="1282.3" cy="2083.8" r="8" fill="#978cbd"/><circle cx="1301.9" cy="2117.8" r="8" fill="#d4d5e8"/><circle cx="1226.0" cy="2092.3" r="8" fill="#390c5e"/><circle cx="1445.3" cy="2100.8" r="8" fill="#fdca87"/><circle cx="1647.0" cy="2100.8" r="8" fill="#8f4407"/><circle cx="1330.5" cy="2117.8" r="8" fill="#9e95c3"/><circle cx="1420.6" cy="2126.3" r="8" fill="#a75106"/><circle cx="1358.8" cy="2075.3" r="8" fill="#ed9a37"/><circle cx="1195.0" cy="2092.8" r="8" fill="#2d004b"/><circle cx="1251.1" cy="2100.8" r="8" fill="#4b1e7a"/><circle cx="1312.6" cy="2075.3" r="8" fill="#b0a8d0"/><circle cx="1278.4" cy="2109.3" r="8" fill="#ad5506"/><circle cx="1449.3" cy="2092.3" r="8" fill="#974907"/><circle cx="1397.8" cy="2075.3" r="8" fill="#cb6e0d"/><circle cx="1359.6" cy="2092.3" r="8" fill="#eb9631"/><circle cx="1319.0" cy="2100.8" r="8" fill="#a04d07"/><circle cx="1329.0" cy="2092.3" r="8" fill="#b25706"/><circle cx="1304.7" cy="2109.3" r="8" fill="#9288ba"/><circle cx="1257.8" cy="2083.8" r="8" fill="#43166e"/><circle cx="1439.5" cy="2092.3" r="8" fill="#fedbab"/><circle cx="1391.3" cy="2092.3" r="8" fill="#cf720f"/><circle cx="1453.5" cy="2100.8" r="8" fill="#fedbac"/><circle cx="1321.2" cy="2126.3" r="8" fill="#6b4f9b"/><circle cx="1352.7" cy="2117.8" r="8" fill="#eb9732"/><circle cx="1487.0" cy="2100.8" r="8" fill="#2d004b"/><circle cx="1265.0" cy="2100.8" r="8" fill="#42156c"/><circle cx="1300.8" cy="2075.3" r="8" fill="#a79fca"/><circle cx="1203.0" cy="2100.8" r="8" fill="#2d004b"/><circle cx="1439.3" cy="2100.8" r="8" fill="#fece91"/><circle cx="1298.7" cy="2100.8" r="8" fill="#664797"/><circle cx="1418.9" cy="2117.8" r="8" fill="#cb6e0d"/><circle cx="1330.6" cy="2066.8" r="8" fill="#aea6cf"/><circle cx="1330.2" cy="2100.8" r="8" fill="#f8f3eb"/><circle cx="1321.2" cy="2092.3" r="8" fill="#9186b9"/><circle cx="1319.6" cy="2109.3" r="8" fill="#2d004b"/><circle cx="1352.3" cy="2100.8" r="8" fill="#b65b07"/><circle cx="1330.9" cy="2126.3" r="8" fill="#aaa2cc"/><circle cx="1399.4" cy="2100.8" r="8" fill="#dc7e13"/><circle cx="1375.8" cy="2092.3" r="8" fill="#e78f27"/><circle cx="1396.5" cy="2066.8" r="8" fill="#d4d5e8"/><circle cx="1384.8" cy="2134.8" r="8" fill="#a65107"/><circle cx="1236.3" cy="2092.3" r="8" fill="#2d004b"/><circle cx="1374.4" cy="2066.8" r="8" fill="#853e08"/><circle cx="1316.6" cy="2117.8" r="8" fill="#b7b1d5"/><circle cx="1274.9" cy="2109.3" r="8" fill="#603c92"/><circle cx="1367.9" cy="2117.8" r="8" fill="#d3d4e8"/><circle cx="1228.0" cy="2100.8" r="8" fill="#44176f"/><circle cx="1450.6" cy="2109.3" r="8" fill="#feddb0"/><circle cx="1359.8" cy="2083.8" r="8" fill="#d37610"/><circle cx="1330.7" cy="2083.8" r="8" fill="#300350"/><circle cx="1360.6" cy="2117.8" r="8" fill="#af5606"/><circle cx="1467.0" cy="2100.8" r="8" fill="#fecc8c"/><circle cx="1234.6" cy="2100.8" r="8" fill="#2d004b"/><circle cx="1251.0" cy="2092.3" r="8" fill="#2d004b"/><circle cx="1309.6" cy="2066.8" r="8" fill="#8a7fb4"/><circle cx="1335.0" cy="2109.3" r="8" fill="#b95e08"/><circle cx="1348.1" cy="2126.3" r="8" fill="#a14e07"/><circle cx="1400.9" cy="2109.3" r="8" fill="#9a4a07"/><circle cx="1286.0" cy="2100.8" r="8" fill="#310451"/><circle cx="1285.8" cy="2075.3" r="8" fill="#9084b8"/><circle cx="1382.9" cy="2092.3" r="8" fill="#f3a648"/><circle cx="1385.1" cy="2100.8" r="8" fill="#e89029"/><circle cx="1187.0" cy="2100.8" r="8" fill="#2d004b"/><circle cx="1411.1" cy="2126.3" r="8" fill="#fed9a8"/><circle cx="1296.3" cy="2083.8" r="8" fill="#9a90c0"/><circle cx="1228.0" cy="2092.3" r="8" fill="#390c5e"/><circle cx="1409.2" cy="2100.8" r="8" fill="#b15706"/><circle cx="1287.9" cy="2092.3" r="8" fill="#8a7eb3"/><circle cx="1384.2" cy="2083.8" r="8" fill="#b95e08"/><circle cx="1307.1" cy="2075.3" r="8" fill="#c9c7e1"/><circle cx="1262.6" cy="2109.3" r="8" fill="#390c5e"/><circle cx="1322.6" cy="2075.3" r="8" fill="#8e83b7"/><circle cx="1336.5" cy="2100.8" r="8" fill="#b7b1d5"/><circle cx="1350.7" cy="2083.8" r="8" fill="#974807"/><circle cx="1259.4" cy="2109.3" r="8" fill="#613d93"/><circle cx="1367.9" cy="2083.8" r="8" fill="#e4891e"/><circle cx="1311.8" cy="2109.3" r="8" fill="#aca4cd"/><circle cx="1291.5" cy="2109.3" r="8" fill="#cac9e2"/><circle cx="1252.1" cy="2100.8" r="8" fill="#491c76"/><circle cx="1332.2" cy="2075.3" r="8" fill="#cfcfe5"/><circle cx="1410.1" cy="2075.3" r="8" fill="#db7e13"/><circle cx="1417.8" cy="2092.3" r="8" fill="#cb6f0e"/><circle cx="1283.8" cy="2092.3" r="8" fill="#b25806"/><circle cx="1556.0" cy="2100.8" r="8" fill="#f9f0e3"/><circle cx="1414.9" cy="2100.8" r="8" fill="#df8114"/><circle cx="1303.5" cy="2126.3" r="8" fill="#d3d4e8"/><circle cx="1347.5" cy="2109.3" r="8" fill="#bbb6d8"/><circle cx="1383.9" cy="2126.3" r="8" fill="#be6209"/><circle cx="1424.4" cy="2100.8" r="8" fill="#8b4208"/><circle cx="1349.4" cy="2092.3" r="8" fill="#bb5f08"/><circle cx="1403.1" cy="2075.3" r="8" fill="#d8daeb"/><circle cx="1386.1" cy="2066.8" r="8" fill="#7f3b08"/><circle cx="1376.5" cy="2075.3" r="8" fill="#a75106"/><circle cx="1261.4" cy="2117.8" r="8" fill="#8377af"/><circle cx="1312.4" cy="2134.8" r="8" fill="#2d004b"/><circle cx="1369.8" cy="2075.3" r="8" fill="#ef9e3d"/><circle cx="1365.2" cy="2109.3" r="8" fill="#b05606"/><circle cx="1313.4" cy="2126.3" r="8" fill="#8578af"/><circle cx="1357.1" cy="2100.8" r="8" fill="#ce710e"/><circle cx="1419.4" cy="2075.3" r="8" fill="#d27510"/><circle cx="1373.2" cy="2134.8" r="8" fill="#e2871b"/><circle cx="1301.9" cy="2092.3" r="8" fill="#b2abd2"/><circle cx="1410.8" cy="2083.8" r="8" fill="#c66a0c"/><circle cx="1379.1" cy="2109.3" r="8" fill="#c3670b"/><circle cx="1370.2" cy="2092.3" r="8" fill="#ba5f08"/><circle cx="1302.8" cy="2083.8" r="8" fill="#f0f0f4"/><circle cx="1288.2" cy="2083.8" r="8" fill="#a69ec9"/><circle cx="1419.9" cy="2109.3" r="8" fill="#fecd8f"/><circle cx="1300.3" cy="2092.3" r="8" fill="#b4add3"/><circle cx="1355.4" cy="2109.3" r="8" fill="#974907"/><circle cx="1372.3" cy="2100.8" r="8" fill="#a24e07"/><circle cx="1420.2" cy="2083.8" r="8" fill="#a04d07"/><circle cx="1403.1" cy="2092.3" r="8" fill="#fed7a4"/><circle cx="1336.8" cy="2092.3" r="8" fill="#bb5f08"/><circle cx="1346.4" cy="2109.3" r="8" fill="#c2660b"/><circle cx="1275.7" cy="2100.8" r="8" fill="#6d539d"/><circle cx="1311.3" cy="2100.8" r="8" fill="#8d82b6"/><circle cx="1398.9" cy="2083.8" r="8" fill="#c4680b"/><circle cx="1271.3" cy="2083.8" r="8" fill="#42156c"/><circle cx="1505.0" cy="2100.8" r="8" fill="#b2abd2"/><circle cx="1396.1" cy="2100.8" r="8" fill="#fed7a3"/><circle cx="1280.5" cy="2100.8" r="8" fill="#aea6cf"/><circle cx="1372.8" cy="2109.3" r="8" fill="#d37610"/><circle cx="1378.2" cy="2117.8" r="8" fill="#a04d07"/><circle cx="1250.1" cy="2109.3" r="8" fill="#582f8c"/><circle cx="1376.7" cy="2126.3" r="8" fill="#e58b21"/><circle cx="1354.0" cy="2075.3" r="8" fill="#d0730f"/><circle cx="1262.6" cy="2083.8" r="8" fill="#2d004b"/><circle cx="1301.6" cy="2066.8" r="8" fill="#30034f"/><circle cx="1238.5" cy="2100.8" r="8" fill="#3a0d60"/><circle cx="1303.9" cy="2100.8" r="8" fill="#9287b9"/><circle cx="1432.6" cy="2109.3" r="8" fill="#fee1ba"/><circle cx="1406.5" cy="2109.3" r="8" fill="#ad5506"/><circle cx="1296.9" cy="2126.3" r="8" fill="#a299c6"/><circle cx="1338.3" cy="2083.8" r="8" fill="#f1a243"/><circle cx="1343.6" cy="2100.8" r="8" fill="#954707"/><circle cx="1297.1" cy="2109.3" r="8" fill="#9f96c4"/><circle cx="1391.9" cy="2109.3" r="8" fill="#9d4c07"/><circle cx="1264.6" cy="2092.3" r="8" fill="#5f3a91"/><circle cx="1373.6" cy="2083.8" r="8" fill="#b3acd3"/><circle cx="1393.4" cy="2126.3" r="8" fill="#a14e07"/><circle cx="1383.3" cy="2117.8" r="8" fill="#c3670b"/><circle cx="1406.5" cy="2092.3" r="8" fill="#fee0b5"/><circle cx="1340.6" cy="2092.3" r="8" fill="#b25706"/><circle cx="1329.9" cy="2109.3" r="8" fill="#2d004b"/><circle cx="1400.3" cy="2117.8" r="8" fill="#d77911"/><circle cx="1380.4" cy="2075.3" r="8" fill="#c3c0dd"/><circle cx="1312.2" cy="2092.3" r="8" fill="#a59cc8"/><circle cx="1426.5" cy="2092.3" r="8" fill="#feddb1"/><circle cx="1313.9" cy="2058.3" r="8" fill="#b1aad1"/><circle cx="1337.7" cy="2117.8" r="8" fill="#e18417"/><circle cx="1287.5" cy="2117.8" r="8" fill="#c8c6e0"/><circle cx="1341.5" cy="2083.8" r="8" fill="#c1bedc"/><circle cx="1309.3" cy="2083.8" r="8" fill="#f8f4f0"/><circle cx="1606.0" cy="2100.8" r="8" fill="#8f4407"/><circle cx="1406.5" cy="2117.8" r="8" fill="#bc6009"/><circle cx="1321.0" cy="2117.8" r="8" fill="#b55a07"/><circle cx="1269.6" cy="2092.3" r="8" fill="#7e6faa"/><circle cx="1236.5" cy="2109.3" r="8" fill="#2d004b"/><circle cx="1397.8" cy="2083.8" r="8" fill="#904407"/><circle cx="1440.1" cy="2109.3" r="8" fill="#fde5c3"/><circle cx="1368.2" cy="2100.8" r="8" fill="#998fbf"/><circle cx="1568.0" cy="2100.8" r="8" fill="#f9f0e3"/><circle cx="1397.0" cy="2117.8" r="8" fill="#cf720f"/><circle cx="1323.2" cy="2083.8" r="8" fill="#6d529c"/><circle cx="1442.2" cy="2092.3" r="8" fill="#fed196"/>
</g>
<g>
<circle cx="1297.1" cy="2205.2" r="8" fill="#2d004b"/><circle cx="1318.3" cy="2230.7" r="8" fill="#d57710"/><circle cx="1465.3" cy="2222.2" r="8" fill="#bc6109"/><circle cx="1564.0" cy="2222.2" r="8" fill="#a95206"/><circle cx="1331.3" cy="2239.2" r="8" fill="#cc6f0e"/><circle cx="1360.3" cy="2230.7" r="8" fill="#b55a07"/><circle cx="1461.6" cy="2213.7" r="8" fill="#be6209"/><circle cx="1400.6" cy="2205.2" r="8" fill="#dc7f13"/><circle cx="1433.3" cy="2222.2" r="8" fill="#d47710"/><circle cx="1253.3" cy="2239.2" r="8" fill="#310451"/><circle cx="1365.8" cy="2239.2" r="8" fill="#ce720f"/><circle cx="1223.0" cy="2222.2" r="8" fill="#9e4c07"/><circle cx="1347.1" cy="2239.2" r="8" fill="#cc700e"/><circle cx="1260.2" cy="2205.2" r="8" fill="#cd700e"/><circle cx="1351.4" cy="2247.7" r="8" fill="#bd6209"/><circle cx="1345.8" cy="2205.2" r="8" fill="#964807"/><circle cx="1314.5" cy="2188.2" r="8" fill="#b05706"/><circle cx="1425.4" cy="2222.2" r="8" fill="#e28519"/><circle cx="1284.5" cy="2213.7" r="8" fill="#d27510"/><circle cx="1398.3" cy="2213.7" r="8" fill="#c2660b"/><circle cx="1336.4" cy="2247.7" r="8" fill="#c86b0c"/><circle cx="1544.0" cy="2222.2" r="8" fill="#a95206"/><circle cx="1291.7" cy="2196.7" r="8" fill="#ada6ce"/><circle cx="1399.2" cy="2230.7" r="8" fill="#c66a0c"/><circle cx="1321.6" cy="2239.2" r="8" fill="#ae5506"/><circle cx="1452.7" cy="2222.2" r="8" fill="#c2660b"/><circle cx="1298.8" cy="2230.7" r="8" fill="#e58b21"/><circle cx="1288.5" cy="2205.2" r="8" fill="#e68d24"/><circle cx="1270.2" cy="2205.2" r="8" fill="#b3acd3"/><circle cx="1434.9" cy="2230.7" r="8" fill="#c5690c"/><circle cx="1346.5" cy="2222.2" r="8" fill="#be6209"/><circle cx="1385.5" cy="2222.2" r="8" fill="#d57710"/><circle cx="1304.5" cy="2213.7" r="8" fill="#b25706"/><circle cx="1417.3" cy="2230.7" r="8" fill="#d1740f"/><circle cx="1298.7" cy="2222.2" r="8" fill="#2d004b"/><circle cx="1417.2" cy="2213.7" r="8" fill="#bc6009"/><circle cx="1300.2" cy="2213.7" r="8" fill="#fdbe70"/><circle cx="1265.5" cy="2222.2" r="8" fill="#2d004b"/><circle cx="1251.0" cy="2230.7" r="8" fill="#e08214"/><circle cx="1341.5" cy="2196.7" r="8" fill="#c2660b"/><circle cx="1576.0" cy="2222.2" r="8" fill="#a95206"/><circle cx="1304.2" cy="2205.2" r="8" fill="#a65107"/><circle cx="1336.3" cy="2239.2" r="8" fill="#b25706"/><circle cx="1383.2" cy="2205.2" r="8" fill="#bb6009"/><circle cx="1232.0" cy="2213.7" r="8" fill="#c0640a"/><circle cx="1331.5" cy="2196.7" r="8" fill="#a95206"/><circle cx="1354.9" cy="2222.2" r="8" fill="#c5690c"/><circle cx="1333.8" cy="2222.2" r="8" fill="#d57811"/><circle cx="1356.9" cy="2213.7" r="8" fill="#d47710"/><circle cx="1390.9" cy="2230.7" r="8" fill="#da7c12"/><circle cx="1428.0" cy="2213.7" r="8" fill="#db7d12"/><circle cx="1204.0" cy="2222.2" r="8" fill="#9e4c07"/><circle cx="1308.4" cy="2247.7" r="8" fill="#b35806"/><circle cx="1820.0" cy="2222.2" r="8" fill="#8f4407"/><circle cx="1415.6" cy="2222.2" r="8" fill="#d0730f"/><circle cx="1266.9" cy="2230.7" r="8" fill="#e08214"/><circle cx="1433.5" cy="2222.2" r="8" fill="#d47710"/><circle cx="1340.6" cy="2230.7" r="8" fill="#cc700e"/><circle cx="1388.9" cy="2222.2" r="8" fill="#c1650a"/><circle cx="1315.2" cy="2205.2" r="8" fill="#9a4a07"/><circle cx="1411.5" cy="2239.2" r="8" fill="#c96d0d"/><circle cx="1464.1" cy="2213.7" r="8" fill="#da7c12"/><circle cx="1279.8" cy="2222.2" r="8" fill="#df8114"/><circle cx="1372.4" cy="2213.7" r="8" fill="#c5690c"/><circle cx="1347.6" cy="2247.7" r="8" fill="#cf720f"/><circle cx="1350.1" cy="2188.2" r="8" fill="#bb5f08"/><circle cx="1329.2" cy="2188.2" r="8" fill="#df8114"/><circle cx="1330.3" cy="2230.7" r="8" fill="#b45906"/><circle cx="1368.2" cy="2213.7" r="8" fill="#d37610"/><circle cx="1351.3" cy="2196.7" r="8" fill="#e28518"/><circle cx="1245.4" cy="2222.2" r="8" fill="#e3871b"/><circle cx="1269.1" cy="2213.7" r="8" fill="#978cbd"/><circle cx="1254.3" cy="2213.7" r="8" fill="#e08214"/><circle cx="1233.6" cy="2222.2" r="8" fill="#4e217e"/><circle cx="1362.8" cy="2205.2" r="8" fill="#c86c0d"/><circle cx="1253.4" cy="2222.2" r="8" fill="#e58c23"/><circle cx="1301.0" cy="2196.7" r="8" fill="#c96d0d"/><circle cx="1280.2" cy="2230.7" r="8" fill="#320553"/><circle cx="1248.4" cy="2205.2" r="8" fill="#fbb45c"/><circle cx="1316.9" cy="2213.7" r="8" fill="#b75c07"/><circle cx="1292.6" cy="2230.7" r="8" fill="#2d004b"/><circle cx="1292.9" cy="2213.7" r="8" fill="#300350"/><circle cx="1413.8" cy="2205.2" r="8" fill="#c0640a"/><circle cx="1279.4" cy="2213.7" r="8" fill="#320554"/><circle cx="1355.6" cy="2205.2" r="8" fill="#b05706"/><circle cx="1333.1" cy="2205.2" r="8" fill="#d87b12"/><circle cx="1335.2" cy="2196.7" r="8" fill="#db7e13"/><circle cx="1329.7" cy="2247.7" r="8" fill="#bf630a"/><circle cx="1409.4" cy="2213.7" r="8" fill="#d47710"/><circle cx="1272.9" cy="2230.7" r="8" fill="#572b8a"/><circle cx="1388.5" cy="2213.7" r="8" fill="#d97b12"/><circle cx="1313.0" cy="2239.2" r="8" fill="#c2660b"/><circle cx="1331.2" cy="2222.2" r="8" fill="#d47710"/><circle cx="1354.9" cy="2230.7" r="8" fill="#c4680b"/><circle cx="1370.5" cy="2205.2" r="8" fill="#d97b12"/><circle cx="1258.7" cy="2213.7" r="8" fill="#e68d24"/><circle cx="1444.2" cy="2213.7" r="8" fill="#bd6109"/><circle cx="1380.1" cy="2230.7" r="8" fill="#b85c07"/><circle cx="1480.0" cy="2222.2" r="8" fill="#c76b0c"/><circle cx="1343.8" cy="2213.7" r="8" fill="#b85c07"/><circle cx="1272.5" cy="2205.2" r="8" fill="#e78f27"/><circle cx="1405.4" cy="2230.7" r="8" fill="#cd700e"/><circle cx="1317.1" cy="2222.2" r="8" fill="#c2660b"/><circle cx="1342.5" cy="2188.2" r="8" fill="#be6209"/><circle cx="1348.5" cy="2239.2" r="8" fill="#b95d08"/><circle cx="1364.3" cy="2230.7" r="8" fill="#ba5e08"/><circle cx="1373.8" cy="2222.2" r="8" fill="#cb6f0e"/><circle cx="1319.3" cy="2205.2" r="8" fill="#ab5306"/><circle cx="1428.5" cy="2213.7" r="8" fill="#a95206"/><circle cx="1519.0" cy="2222.2" r="8" fill="#b35806"/><circle cx="1270.1" cy="2239.2" r="8" fill="#c86b0c"/><circle cx="1474.2" cy="2213.7" r="8" fill="#d67811"/><circle cx="1302.4" cy="2222.2" r="8" fill="#bf640a"/><circle cx="1295.5" cy="2222.2" r="8" fill="#2d004b"/><circle cx="1401.6" cy="2222.2" r="8" fill="#c2660b"/><circle cx="1309.7" cy="2213.7" r="8" fill="#b95e08"/><circle cx="1411.8" cy="2205.2" r="8" fill="#c76a0c"/><circle cx="1288.7" cy="2239.2" r="8" fill="#370a5b"/><circle cx="1325.2" cy="2256.2" r="8" fill="#da7d12"/><circle cx="1376.4" cy="2230.7" r="8" fill="#b25806"/><circle cx="1304.1" cy="2239.2" r="8" fill="#ba5f08"/><circle cx="1424.0" cy="2230.7" r="8" fill="#cc6f0e"/><circle cx="1312.0" cy="2230.7" r="8" fill="#cd700e"/><circle cx="1325.1" cy="2205.2" r="8" fill="#a55007"/><circle cx="1307.8" cy="2230.7" r="8" fill="#b45906"/><circle cx="1262.3" cy="2230.7" r="8" fill="#d27510"/><circle cx="1464.0" cy="2222.2" r="8" fill="#bc6109"/><circle cx="1453.3" cy="2213.7" r="8" fill="#b75c07"/><circle cx="1395.2" cy="2205.2" r="8" fill="#bf640a"/><circle cx="1361.2" cy="2222.2" r="8" fill="#c96d0d"/><circle cx="1283.4" cy="2239.2" r="8" fill="#fcb761"/><circle cx="1315.5" cy="2196.7" r="8" fill="#b35806"/><circle cx="1434.9" cy="2213.7" r="8" fill="#ce710e"/><circle cx="1283.4" cy="2205.2" r="8" fill="#2d004c"/><circle cx="1338.9" cy="2230.7" r="8" fill="#c3670b"/><circle cx="1369.0" cy="2222.2" r="8" fill="#c5690c"/><circle cx="1258.6" cy="2222.2" r="8" fill="#2d004b"/><circle cx="1477.9" cy="2222.2" r="8" fill="#e9932e"/><circle cx="1354.7" cy="2213.7" r="8" fill="#c2660b"/><circle cx="1383.8" cy="2213.7" r="8" fill="#c66a0c"/><circle cx="1447.2" cy="2222.2" r="8" fill="#b85d08"/><circle cx="1409.3" cy="2222.2" r="8" fill="#b65b07"/><circle cx="1325.4" cy="2213.7" r="8" fill="#bd6109"/><circle cx="1244.8" cy="2213.7" r="8" fill="#2e014c"/><circle cx="1310.2" cy="2222.2" r="8" fill="#c1660b"/><circle cx="1339.1" cy="2213.7" r="8" fill="#cf720f"/><circle cx="1282.6" cy="2222.2" r="8" fill="#2d004b"/>
</g>
<g>
<circle cx="1262.3" cy="2326.5" r="8" fill="#320552"/><circle cx="1408.2" cy="2335.0" r="8" fill="#a34f07"/><circle cx="1321.2" cy="2352.0" r="8" fill="#ef9f3e"/><circle cx="1309.6" cy="2326.5" r="8" fill="#eb9732"/><circle cx="1264.3" cy="2343.5" r="8" fill="#552989"/><circle cx="1361.4" cy="2369.0" r="8" fill="#a95306"/><circle cx="1328.4" cy="2318.0" r="8" fill="#d27510"/><circle cx="1396.0" cy="2343.5" r="8" fill="#a85206"/><circle cx="1276.9" cy="2343.5" r="8" fill="#f1a242"/><circle cx="1468.1" cy="2343.5" r="8" fill="#e18417"/><circle cx="1293.0" cy="2326.5" r="8" fill="#da7c12"/><circle cx="1336.0" cy="2335.0" r="8" fill="#b95d08"/><circle cx="1350.2" cy="2335.0" r="8" fill="#bb5f08"/><circle cx="1239.9" cy="2352.0" r="8" fill="#de8013"/><circle cx="1273.9" cy="2352.0" r="8" fill="#f8f5f1"/><circle cx="1379.2" cy="2352.0" r="8" fill="#cb6e0d"/><circle cx="1319.5" cy="2377.5" r="8" fill="#ac5406"/><circle cx="1571.0" cy="2343.5" r="8" fill="#ca6d0d"/><circle cx="1258.1" cy="2352.0" r="8" fill="#5b348e"/><circle cx="1320.8" cy="2343.5" r="8" fill="#f6ab50"/><circle cx="1346.2" cy="2360.5" r="8" fill="#d67911"/><circle cx="1247.8" cy="2335.0" r="8" fill="#3c0f62"/><circle cx="1315.9" cy="2301.0" r="8" fill="#b45906"/><circle cx="1311.6" cy="2352.0" r="8" fill="#fdb762"/><circle cx="1285.7" cy="2352.0" r="8" fill="#c2bedc"/><circle cx="1364.0" cy="2318.0" r="8" fill="#964807"/><circle cx="1461.6" cy="2343.5" r="8" fill="#9a4a07"/><circle cx="1298.2" cy="2343.5" r="8" fill="#f5f5f6"/><circle cx="1620.0" cy="2345.5" r="8" fill="#a95206"/><circle cx="1271.9" cy="2326.5" r="8" fill="#2d004b"/><circle cx="1328.4" cy="2335.0" r="8" fill="#af5606"/><circle cx="1300.4" cy="2352.0" r="8" fill="#f3a648"/><circle cx="1282.3" cy="2326.5" r="8" fill="#ea942e"/><circle cx="1270.4" cy="2335.0" r="8" fill="#6f559e"/><circle cx="1440.4" cy="2335.0" r="8" fill="#a65107"/><circle cx="1404.1" cy="2335.0" r="8" fill="#994a07"/><circle cx="1418.9" cy="2335.0" r="8" fill="#8d4307"/><circle cx="1360.3" cy="2335.0" r="8" fill="#fedeb2"/><circle cx="1320.1" cy="2369.0" r="8" fill="#a24f07"/><circle cx="1359.7" cy="2360.5" r="8" fill="#9e4c07"/><circle cx="1342.1" cy="2326.5" r="8" fill="#b05606"/><circle cx="1391.1" cy="2335.0" r="8" fill="#b65a07"/><circle cx="1358.3" cy="2326.5" r="8" fill="#9e4c07"/><circle cx="1256.3" cy="2335.0" r="8" fill="#613e93"/><circle cx="1381.7" cy="2335.0" r="8" fill="#d57710"/><circle cx="1324.5" cy="2326.5" r="8" fill="#de8013"/><circle cx="1382.0" cy="2335.0" r="8" fill="#b65b07"/><circle cx="1430.6" cy="2343.5" r="8" fill="#b35806"/><circle cx="1260.4" cy="2352.0" r="8" fill="#6e539d"/><circle cx="1329.9" cy="2360.5" r="8" fill="#dd7f13"/><circle cx="1636.0" cy="2343.5" r="8" fill="#bc6009"/><circle cx="1364.5" cy="2352.0" r="8" fill="#fed39b"/><circle cx="1253.4" cy="2343.5" r="8" fill="#d37610"/><circle cx="1612.0" cy="2340.5" r="8" fill="#b35806"/><circle cx="1319.4" cy="2318.0" r="8" fill="#ea942e"/><circle cx="1243.4" cy="2335.0" r="8" fill="#2e014c"/><circle cx="1459.7" cy="2335.0" r="8" fill="#b55906"/><circle cx="1371.5" cy="2335.0" r="8" fill="#ac5406"/><circle cx="1315.3" cy="2326.5" r="8" fill="#e68e25"/><circle cx="1375.3" cy="2343.5" r="8" fill="#7f3b08"/><circle cx="1366.9" cy="2343.5" r="8" fill="#eb9631"/><circle cx="1232.1" cy="2343.5" r="8" fill="#2d004b"/><circle cx="1321.7" cy="2335.0" r="8" fill="#ed9a38"/><circle cx="1720.0" cy="2343.5" r="8" fill="#9e4c07"/><circle cx="1354.5" cy="2326.5" r="8" fill="#ee9c3b"/><circle cx="1402.5" cy="2343.5" r="8" fill="#9b4b07"/><circle cx="1282.9" cy="2335.0" r="8" fill="#f4a649"/><circle cx="1426.4" cy="2335.0" r="8" fill="#a65107"/><circle cx="1652.0" cy="2343.5" r="8" fill="#c0650a"/><circle cx="1323.1" cy="2343.5" r="8" fill="#ec9834"/><circle cx="1344.3" cy="2335.0" r="8" fill="#bd6109"/><circle cx="1292.3" cy="2335.0" r="8" fill="#f7f6f3"/><circle cx="1341.9" cy="2352.0" r="8" fill="#dc7f13"/><circle cx="1388.4" cy="2343.5" r="8" fill="#9e4c07"/><circle cx="1602.0" cy="2343.5" r="8" fill="#c5690c"/><circle cx="1271.7" cy="2352.0" r="8" fill="#4f2280"/><circle cx="1250.3" cy="2343.5" r="8" fill="#340756"/><circle cx="1351.1" cy="2352.0" r="8" fill="#fbb45c"/><circle cx="1277.7" cy="2335.0" r="8" fill="#eb9632"/><circle cx="1353.1" cy="2360.5" r="8" fill="#fdc782"/><circle cx="1311.0" cy="2343.5" r="8" fill="#ee9b39"/><circle cx="1346.9" cy="2343.5" r="8" fill="#e08214"/><circle cx="1741.0" cy="2343.5" r="8" fill="#9e4c07"/><circle cx="1299.0" cy="2335.0" r="8" fill="#e9922c"/><circle cx="1314.4" cy="2360.5" r="8" fill="#f3a649"/><circle cx="1283.2" cy="2318.0" r="8" fill="#fedcad"/><circle cx="1240.8" cy="2343.5" r="8" fill="#360959"/><circle cx="1262.6" cy="2335.0" r="8" fill="#e08214"/><circle cx="1325.2" cy="2352.0" r="8" fill="#fdc47c"/><circle cx="1436.2" cy="2335.0" r="8" fill="#db7e13"/><circle cx="1296.4" cy="2343.5" r="8" fill="#fab25a"/><circle cx="1451.8" cy="2343.5" r="8" fill="#b15706"/><circle cx="1446.2" cy="2335.0" r="8" fill="#954707"/><circle cx="1285.9" cy="2360.5" r="8" fill="#fdbb69"/><circle cx="1477.6" cy="2343.5" r="8" fill="#9e4c07"/><circle cx="1294.2" cy="2360.5" r="8" fill="#f4a84b"/><circle cx="1330.1" cy="2343.5" r="8" fill="#df8114"/><circle cx="1287.5" cy="2343.5" r="8" fill="#c0bcdb"/><circle cx="1419.1" cy="2343.5" r="8" fill="#e68e26"/><circle cx="1468.2" cy="2335.0" r="8" fill="#9f4d07"/><circle cx="1406.9" cy="2343.5" r="8" fill="#ba5e08"/><circle cx="1313.1" cy="2360.5" r="8" fill="#e58b22"/><circle cx="1356.7" cy="2309.5" r="8" fill="#db7e13"/><circle cx="1302.1" cy="2318.0" r="8" fill="#ee9d3b"/><circle cx="1359.7" cy="2343.5" r="8" fill="#fedfb5"/><circle cx="1470.9" cy="2335.0" r="8" fill="#984907"/><circle cx="1297.2" cy="2326.5" r="8" fill="#f5f5f6"/><circle cx="1250.3" cy="2326.5" r="8" fill="#c86c0d"/><circle cx="1423.1" cy="2343.5" r="8" fill="#ae5506"/><circle cx="1360.0" cy="2352.0" r="8" fill="#fde2bb"/><circle cx="1296.4" cy="2352.0" r="8" fill="#e18316"/><circle cx="1312.7" cy="2335.0" r="8" fill="#fbb55f"/><circle cx="1252.6" cy="2326.5" r="8" fill="#330654"/><circle cx="1319.5" cy="2309.5" r="8" fill="#fdc57d"/><circle cx="1353.8" cy="2343.5" r="8" fill="#fdc279"/><circle cx="1440.6" cy="2343.5" r="8" fill="#9d4c07"/><circle cx="1251.7" cy="2352.0" r="8" fill="#350858"/><circle cx="1365.5" cy="2326.5" r="8" fill="#fed8a6"/><circle cx="1299.7" cy="2360.5" r="8" fill="#d4d5e9"/><circle cx="1331.3" cy="2352.0" r="8" fill="#dc7e13"/><circle cx="1272.0" cy="2343.5" r="8" fill="#603c92"/>
</g>
<g>
<circle cx="1252.1" cy="2456.4" r="8" fill="#7966a6"/><circle cx="1341.2" cy="2481.9" r="8" fill="#e8922b"/><circle cx="1282.6" cy="2456.4" r="8" fill="#b4add3"/><circle cx="1215.0" cy="2464.9" r="8" fill="#350858"/><circle cx="1550.0" cy="2464.9" r="8" fill="#a34f07"/><circle cx="1377.1" cy="2447.9" r="8" fill="#ec9935"/><circle cx="1303.8" cy="2464.9" r="8" fill="#ea942f"/><circle cx="1333.1" cy="2447.9" r="8" fill="#e89129"/><circle cx="1392.7" cy="2473.4" r="8" fill="#fdc680"/><circle cx="1421.0" cy="2464.9" r="8" fill="#f1f1f5"/><circle cx="1570.0" cy="2464.9" r="8" fill="#994a07"/><circle cx="1472.9" cy="2464.9" r="8" fill="#c0640a"/><circle cx="1328.8" cy="2473.4" r="8" fill="#ed9a37"/><circle cx="1410.6" cy="2473.4" r="8" fill="#fed6a2"/><circle cx="1325.9" cy="2464.9" r="8" fill="#f2a445"/><circle cx="1318.6" cy="2447.9" r="8" fill="#e9922b"/><circle cx="1201.4" cy="2456.4" r="8" fill="#2d004b"/><circle cx="1383.2" cy="2473.4" r="8" fill="#d0730f"/><circle cx="1393.4" cy="2464.9" r="8" fill="#fdc783"/><circle cx="1392.9" cy="2456.4" r="8" fill="#fece90"/><circle cx="1389.5" cy="2464.9" r="8" fill="#ac5406"/><circle cx="1226.3" cy="2447.9" r="8" fill="#350858"/><circle cx="1302.2" cy="2473.4" r="8" fill="#da7d12"/><circle cx="1296.0" cy="2456.4" r="8" fill="#aea7cf"/><circle cx="1290.7" cy="2456.4" r="8" fill="#afa7d0"/><circle cx="1329.4" cy="2464.9" r="8" fill="#ef9e3d"/><circle cx="1389.6" cy="2456.4" r="8" fill="#fed49d"/><circle cx="1306.1" cy="2447.9" r="8" fill="#e79028"/><circle cx="1409.8" cy="2447.9" r="8" fill="#fdbe6f"/><circle cx="1316.0" cy="2422.4" r="8" fill="#f3a648"/><circle cx="1342.6" cy="2447.9" r="8" fill="#9d4c07"/><circle cx="1316.1" cy="2498.9" r="8" fill="#df8114"/><circle cx="1310.0" cy="2481.9" r="8" fill="#e8912a"/><circle cx="1313.5" cy="2490.4" r="8" fill="#f09f3e"/><circle cx="1257.3" cy="2464.9" r="8" fill="#6c519c"/><circle cx="1381.6" cy="2456.4" r="8" fill="#a34f07"/><circle cx="1344.8" cy="2473.4" r="8" fill="#b35806"/><circle cx="1313.9" cy="2439.4" r="8" fill="#e68d24"/><circle cx="1325.2" cy="2430.9" r="8" fill="#ee9c3a"/><circle cx="1220.9" cy="2464.9" r="8" fill="#370a5a"/><circle cx="1285.4" cy="2464.9" r="8" fill="#b6b0d5"/><circle cx="1251.0" cy="2464.9" r="8" fill="#3d1064"/><circle cx="1255.3" cy="2464.9" r="8" fill="#644395"/><circle cx="1280.2" cy="2464.9" r="8" fill="#b3add3"/><circle cx="1322.1" cy="2473.4" r="8" fill="#e58c22"/><circle cx="1230.6" cy="2464.9" r="8" fill="#2d004c"/><circle cx="1307.4" cy="2481.9" r="8" fill="#ed9a38"/><circle cx="1374.8" cy="2464.9" r="8" fill="#b55a07"/><circle cx="1402.1" cy="2447.9" r="8" fill="#fdc47d"/><circle cx="1369.6" cy="2464.9" r="8" fill="#9f4d07"/><circle cx="1429.5" cy="2464.9" r="8" fill="#a04d07"/><circle cx="1372.6" cy="2473.4" r="8" fill="#fed59f"/><circle cx="1207.9" cy="2464.9" r="8" fill="#3d1063"/><circle cx="1250.4" cy="2456.4" r="8" fill="#3a0d60"/><circle cx="1500.9" cy="2464.9" r="8" fill="#b45906"/><circle cx="1359.8" cy="2481.9" r="8" fill="#c4680b"/><circle cx="1290.0" cy="2473.4" r="8" fill="#bab5d7"/><circle cx="1353.8" cy="2447.9" r="8" fill="#de8114"/><circle cx="1314.0" cy="2447.9" r="8" fill="#ea942e"/><circle cx="1276.3" cy="2464.9" r="8" fill="#7e6faa"/><circle cx="1404.6" cy="2464.9" r="8" fill="#fdc175"/><circle cx="1270.9" cy="2456.4" r="8" fill="#6d529c"/><circle cx="1265.2" cy="2464.9" r="8" fill="#6b4f9b"/><circle cx="1299.2" cy="2447.9" r="8" fill="#b0a9d0"/><circle cx="1260.3" cy="2456.4" r="8" fill="#7560a3"/><circle cx="1215.6" cy="2473.4" r="8" fill="#310451"/><circle cx="1354.0" cy="2473.4" r="8" fill="#cd710e"/><circle cx="1235.7" cy="2456.4" r="8" fill="#4b1e7b"/><circle cx="1277.9" cy="2456.4" r="8" fill="#988dbe"/><circle cx="1302.6" cy="2456.4" r="8" fill="#e3881c"/><circle cx="1352.0" cy="2481.9" r="8" fill="#e08214"/><circle cx="1243.5" cy="2456.4" r="8" fill="#3d1064"/><circle cx="1201.0" cy="2464.9" r="8" fill="#42156c"/><circle cx="1209.3" cy="2456.4" r="8" fill="#42156c"/><circle cx="1240.6" cy="2464.9" r="8" fill="#320552"/><circle cx="1300.9" cy="2473.4" r="8" fill="#aea6cf"/><circle cx="1405.0" cy="2481.9" r="8" fill="#fece90"/><circle cx="1360.9" cy="2464.9" r="8" fill="#ce710e"/><circle cx="1481.1" cy="2464.9" r="8" fill="#a95306"/><circle cx="1303.8" cy="2430.9" r="8" fill="#e68d23"/><circle cx="1321.4" cy="2456.4" r="8" fill="#d97c12"/><circle cx="1331.2" cy="2490.4" r="8" fill="#e78f27"/><circle cx="1386.2" cy="2447.9" r="8" fill="#b25706"/><circle cx="1367.6" cy="2447.9" r="8" fill="#e68d24"/><circle cx="1413.6" cy="2490.4" r="8" fill="#fdcc8c"/><circle cx="1335.0" cy="2464.9" r="8" fill="#e3881c"/><circle cx="1214.8" cy="2456.4" r="8" fill="#401369"/><circle cx="1444.1" cy="2464.9" r="8" fill="#c4680b"/><circle cx="1313.9" cy="2430.9" r="8" fill="#ea952f"/><circle cx="1311.7" cy="2473.4" r="8" fill="#e58c22"/><circle cx="1373.5" cy="2481.9" r="8" fill="#a65007"/><circle cx="1488.8" cy="2464.9" r="8" fill="#b15706"/><circle cx="1221.1" cy="2473.4" r="8" fill="#380b5c"/><circle cx="1331.3" cy="2481.9" r="8" fill="#e58b21"/><circle cx="1349.3" cy="2464.9" r="8" fill="#d27510"/><circle cx="1294.1" cy="2464.9" r="8" fill="#b8b3d6"/><circle cx="1320.3" cy="2490.4" r="8" fill="#f7ac52"/><circle cx="1322.7" cy="2439.4" r="8" fill="#e2861a"/><circle cx="1225.4" cy="2456.4" r="8" fill="#2d004b"/><circle cx="1405.5" cy="2456.4" r="8" fill="#fdc57d"/><circle cx="1352.1" cy="2464.9" r="8" fill="#fdc57e"/><circle cx="1412.9" cy="2464.9" r="8" fill="#fdc680"/><circle cx="1308.7" cy="2490.4" r="8" fill="#ea9530"/><circle cx="1409.8" cy="2481.9" r="8" fill="#fdc37a"/><circle cx="1411.5" cy="2456.4" r="8" fill="#fed096"/><circle cx="1347.7" cy="2456.4" r="8" fill="#e08214"/><circle cx="1461.2" cy="2464.9" r="8" fill="#cb6e0d"/><circle cx="1360.1" cy="2456.4" r="8" fill="#ef9e3c"/><circle cx="1358.3" cy="2447.9" r="8" fill="#ae5506"/><circle cx="1411.6" cy="2439.4" r="8" fill="#fed39b"/><circle cx="1338.4" cy="2473.4" r="8" fill="#a65106"/><circle cx="1374.6" cy="2473.4" r="8" fill="#a95206"/><circle cx="1321.5" cy="2481.9" r="8" fill="#e4891e"/><circle cx="1403.9" cy="2473.4" r="8" fill="#fdcc8c"/><circle cx="1330.4" cy="2439.4" r="8" fill="#e48a1f"/><circle cx="1311.2" cy="2464.9" r="8" fill="#e58c23"/><circle cx="1360.3" cy="2473.4" r="8" fill="#cf720f"/><circle cx="1303.2" cy="2439.4" r="8" fill="#e58c22"/><circle cx="1394.8" cy="2447.9" r="8" fill="#fedcae"/><circle cx="1311.6" cy="2456.4" r="8" fill="#e2871b"/><circle cx="1341.7" cy="2447.9" r="8" fill="#fdbf71"/><circle cx="1331.7" cy="2456.4" r="8" fill="#ea9530"/><circle cx="1341.4" cy="2456.4" r="8" fill="#ef9f3e"/><circle cx="1330.1" cy="2430.9" r="8" fill="#d97c12"/><circle cx="1371.7" cy="2456.4" r="8" fill="#ae5506"/><circle cx="1352.0" cy="2456.4" r="8" fill="#e4891e"/>
</g>
<g>
<circle cx="1409.7" cy="2594.8" r="8" fill="#fce8cd"/><circle cx="1396.5" cy="2577.8" r="8" fill="#fde2bc"/><circle cx="1353.5" cy="2577.8" r="8" fill="#9f4d07"/><circle cx="1308.5" cy="2594.8" r="8" fill="#320553"/><circle cx="1330.7" cy="2586.3" r="8" fill="#9a4a07"/><circle cx="1358.2" cy="2594.8" r="8" fill="#d27510"/><circle cx="1290.1" cy="2594.8" r="8" fill="#b0a9d0"/><circle cx="1257.1" cy="2577.8" r="8" fill="#d27510"/><circle cx="1554.0" cy="2583.3" r="8" fill="#9e4c07"/><circle cx="1422.3" cy="2586.3" r="8" fill="#fee1ba"/><circle cx="1304.4" cy="2586.3" r="8" fill="#ce710e"/><circle cx="1347.7" cy="2577.8" r="8" fill="#a45007"/><circle cx="1320.3" cy="2577.8" r="8" fill="#f7ad53"/><circle cx="1379.4" cy="2594.8" r="8" fill="#fee2ba"/><circle cx="1400.3" cy="2586.3" r="8" fill="#fde4c2"/><circle cx="1316.4" cy="2569.3" r="8" fill="#bc6009"/><circle cx="1303.6" cy="2603.3" r="8" fill="#bfbbdb"/><circle cx="1312.5" cy="2586.3" r="8" fill="#2d004b"/><circle cx="1381.3" cy="2586.3" r="8" fill="#fbe9d0"/><circle cx="1299.5" cy="2594.8" r="8" fill="#2d004b"/><circle cx="1327.0" cy="2577.8" r="8" fill="#cf720f"/><circle cx="1500.0" cy="2586.3" r="8" fill="#994a07"/><circle cx="1416.2" cy="2569.3" r="8" fill="#fce8cb"/><circle cx="1346.5" cy="2569.3" r="8" fill="#f5a94d"/><circle cx="1363.3" cy="2594.8" r="8" fill="#a34f07"/><circle cx="1341.8" cy="2569.3" r="8" fill="#b05606"/><circle cx="1306.4" cy="2603.3" r="8" fill="#2d004b"/><circle cx="1392.0" cy="2569.3" r="8" fill="#fce8cb"/><circle cx="1455.0" cy="2583.3" r="8" fill="#9e4c07"/><circle cx="1396.0" cy="2594.8" r="8" fill="#fce8cb"/><circle cx="1423.8" cy="2577.8" r="8" fill="#fde4c0"/><circle cx="1270.1" cy="2577.8" r="8" fill="#2f024e"/><circle cx="1359.6" cy="2603.3" r="8" fill="#b05606"/><circle cx="1332.6" cy="2560.8" r="8" fill="#a45007"/><circle cx="1292.1" cy="2577.8" r="8" fill="#d47710"/><circle cx="1310.7" cy="2577.8" r="8" fill="#330654"/><circle cx="1321.6" cy="2611.8" r="8" fill="#cd700e"/><circle cx="1259.9" cy="2586.3" r="8" fill="#d37610"/><circle cx="1268.1" cy="2603.3" r="8" fill="#300350"/><circle cx="1327.0" cy="2620.3" r="8" fill="#c5690c"/><circle cx="1328.3" cy="2543.8" r="8" fill="#d37610"/><circle cx="1281.7" cy="2594.8" r="8" fill="#bab5d7"/><circle cx="1278.8" cy="2586.3" r="8" fill="#c8c7e1"/><circle cx="1409.4" cy="2586.3" r="8" fill="#fde2bc"/><circle cx="1428.0" cy="2586.3" r="8" fill="#9e4c07"/><circle cx="1358.6" cy="2586.3" r="8" fill="#af5606"/><circle cx="1671.0" cy="2586.3" r="8" fill="#a34f07"/><circle cx="1391.7" cy="2594.8" r="8" fill="#fce8cd"/><circle cx="1416.7" cy="2586.3" r="8" fill="#fce6c8"/><circle cx="1291.4" cy="2611.8" r="8" fill="#2e014d"/><circle cx="1371.8" cy="2594.8" r="8" fill="#fce6c8"/><circle cx="1250.6" cy="2577.8" r="8" fill="#db7e13"/><circle cx="1472.0" cy="2586.3" r="8" fill="#fde5c3"/><circle cx="1341.6" cy="2594.8" r="8" fill="#a04e07"/><circle cx="1286.0" cy="2569.3" r="8" fill="#2d004b"/><circle cx="1249.2" cy="2586.3" r="8" fill="#d67911"/><circle cx="1240.7" cy="2586.3" r="8" fill="#d97b12"/><circle cx="1321.9" cy="2594.8" r="8" fill="#aa5306"/><circle cx="1346.1" cy="2586.3" r="8" fill="#ab5306"/><circle cx="1331.1" cy="2603.3" r="8" fill="#fcb660"/><circle cx="1242.9" cy="2577.8" r="8" fill="#d67911"/><circle cx="1317.5" cy="2586.3" r="8" fill="#c0640a"/><circle cx="1322.7" cy="2552.3" r="8" fill="#552889"/><circle cx="1260.9" cy="2594.8" r="8" fill="#d37610"/><circle cx="1326.7" cy="2560.8" r="8" fill="#f9b158"/><circle cx="1374.5" cy="2577.8" r="8" fill="#fde3bf"/><circle cx="1433.0" cy="2586.3" r="8" fill="#fde5c3"/><circle cx="1394.7" cy="2603.3" r="8" fill="#faecd8"/><circle cx="1281.4" cy="2603.3" r="8" fill="#e48a20"/><circle cx="1329.6" cy="2611.8" r="8" fill="#fdbd6e"/><circle cx="1311.5" cy="2552.3" r="8" fill="#2d004b"/><circle cx="1333.4" cy="2586.3" r="8" fill="#a75106"/><circle cx="1335.2" cy="2577.8" r="8" fill="#fdbe70"/><circle cx="1295.4" cy="2586.3" r="8" fill="#e4891e"/><circle cx="1423.9" cy="2594.8" r="8" fill="#fbe8ce"/><circle cx="1270.6" cy="2569.3" r="8" fill="#320552"/><circle cx="1324.8" cy="2569.3" r="8" fill="#f0a040"/><circle cx="1660.0" cy="2586.3" r="8" fill="#a34f07"/><circle cx="1276.0" cy="2569.3" r="8" fill="#df8114"/><circle cx="1355.5" cy="2603.3" r="8" fill="#a75106"/><circle cx="1266.6" cy="2586.3" r="8" fill="#2d004b"/><circle cx="1289.5" cy="2569.3" r="8" fill="#ee9c3a"/><circle cx="1319.0" cy="2560.8" r="8" fill="#fbb55f"/><circle cx="1363.8" cy="2569.3" r="8" fill="#904507"/><circle cx="1226.6" cy="2586.3" r="8" fill="#d47710"/><circle cx="1268.6" cy="2594.8" r="8" fill="#ce710e"/><circle cx="1295.5" cy="2552.3" r="8" fill="#da7c12"/><circle cx="1233.2" cy="2577.8" r="8" fill="#cf720f"/><circle cx="1338.6" cy="2594.8" r="8" fill="#c3670b"/><circle cx="1325.7" cy="2603.3" r="8" fill="#ac5406"/><circle cx="1276.9" cy="2594.8" r="8" fill="#ce710e"/><circle cx="1335.1" cy="2569.3" r="8" fill="#b35806"/><circle cx="1355.2" cy="2569.3" r="8" fill="#b45906"/><circle cx="1326.4" cy="2594.8" r="8" fill="#a04d07"/><circle cx="1304.5" cy="2569.3" r="8" fill="#f8af55"/><circle cx="1414.7" cy="2594.8" r="8" fill="#fbebd5"/><circle cx="1330.4" cy="2552.3" r="8" fill="#f9b159"/><circle cx="1389.2" cy="2577.8" r="8" fill="#fce5c5"/><circle cx="1310.4" cy="2611.8" r="8" fill="#d2d3e7"/><circle cx="1360.8" cy="2577.8" r="8" fill="#a44f07"/><circle cx="1339.0" cy="2586.3" r="8" fill="#fbb45d"/><circle cx="1525.0" cy="2586.3" r="8" fill="#994a07"/><circle cx="1298.4" cy="2560.8" r="8" fill="#2d004b"/><circle cx="1416.9" cy="2577.8" r="8" fill="#fde4c1"/><circle cx="1280.9" cy="2577.8" r="8" fill="#2d004b"/><circle cx="1232.8" cy="2586.3" r="8" fill="#e18417"/><circle cx="1286.5" cy="2560.8" r="8" fill="#bc6009"/><circle cx="1306.9" cy="2569.3" r="8" fill="#2d004b"/><circle cx="1312.9" cy="2560.8" r="8" fill="#d57710"/><circle cx="1378.8" cy="2577.8" r="8" fill="#fce5c4"/><circle cx="1543.0" cy="2586.3" r="8" fill="#994a07"/><circle cx="1288.6" cy="2611.8" r="8" fill="#d67911"/><circle cx="1582.0" cy="2586.3" r="8" fill="#a34f07"/><circle cx="1362.0" cy="2586.3" r="8" fill="#b2abd2"/><circle cx="1285.9" cy="2577.8" r="8" fill="#360959"/><circle cx="1335.1" cy="2577.8" r="8" fill="#9c4b07"/><circle cx="1228.6" cy="2577.8" r="8" fill="#c1650a"/><circle cx="1269.3" cy="2560.8" r="8" fill="#2d004b"/><circle cx="1446.0" cy="2586.3" r="8" fill="#9e4c07"/><circle cx="1290.2" cy="2560.8" r="8" fill="#2d004b"/><circle cx="1348.0" cy="2594.8" r="8" fill="#8e4307"/><circle cx="1370.0" cy="2586.3" r="8" fill="#fbead4"/><circle cx="1394.5" cy="2569.3" r="8" fill="#fde3bf"/><circle cx="1410.0" cy="2568.3" r="8" fill="#d8daeb"/><circle cx="1363.0" cy="2586.3" r="8" fill="#a95306"/><circle cx="1318.0" cy="2603.3" r="8" fill="#de8013"/><circle cx="1304.2" cy="2577.8" r="8" fill="#d47710"/><circle cx="1403.0" cy="2577.8" r="8" fill="#fbe9cf"/><circle cx="1296.6" cy="2603.3" r="8" fill="#2e014d"/><circle cx="1534.0" cy="2589.3" r="8" fill="#994a07"/><circle cx="1284.6" cy="2586.3" r="8" fill="#c2660b"/><circle cx="1280.8" cy="2603.3" r="8" fill="#e9932d"/><circle cx="1392.1" cy="2586.3" r="8" fill="#fbead2"/>
</g>
<g>
<circle cx="1389.0" cy="2699.2" r="8" fill="#c4680b"/><circle cx="1492.8" cy="2707.7" r="8" fill="#d97b12"/><circle cx="1293.3" cy="2699.2" r="8" fill="#532687"/><circle cx="1325.5" cy="2707.7" r="8" fill="#da7d12"/><circle cx="1323.8" cy="2682.2" r="8" fill="#d47710"/><circle cx="1283.7" cy="2716.2" r="8" fill="#877bb1"/><circle cx="1364.1" cy="2716.2" r="8" fill="#f4a74a"/><circle cx="1419.3" cy="2707.7" r="8" fill="#cd700e"/><circle cx="1541.0" cy="2707.7" r="8" fill="#ca6d0d"/><circle cx="1348.3" cy="2724.7" r="8" fill="#f1a141"/><circle cx="1349.0" cy="2690.7" r="8" fill="#ee9d3b"/><circle cx="1411.7" cy="2707.7" r="8" fill="#ac5406"/><circle cx="1370.8" cy="2699.2" r="8" fill="#fdbd6d"/><circle cx="1347.0" cy="2707.7" r="8" fill="#eb9632"/><circle cx="1329.3" cy="2716.2" r="8" fill="#e08214"/><circle cx="1445.9" cy="2707.7" r="8" fill="#b65b07"/><circle cx="1390.9" cy="2707.7" r="8" fill="#cb6e0d"/><circle cx="1262.0" cy="2707.7" r="8" fill="#2d004b"/><circle cx="1354.3" cy="2716.2" r="8" fill="#f5a84c"/><circle cx="1362.3" cy="2699.2" r="8" fill="#ee9b39"/><circle cx="1504.2" cy="2707.7" r="8" fill="#d97c12"/><circle cx="1305.3" cy="2707.7" r="8" fill="#f9f1e7"/><circle cx="1338.3" cy="2716.2" r="8" fill="#e68d24"/><circle cx="1427.8" cy="2707.7" r="8" fill="#c5680b"/><circle cx="1376.8" cy="2699.2" r="8" fill="#d47610"/><circle cx="1325.7" cy="2741.7" r="8" fill="#e28518"/><circle cx="1341.4" cy="2699.2" r="8" fill="#f1a243"/><circle cx="1269.4" cy="2699.2" r="8" fill="#9084b8"/><circle cx="1311.2" cy="2690.7" r="8" fill="#e3871b"/><circle cx="1304.7" cy="2716.2" r="8" fill="#eb9631"/><circle cx="1363.5" cy="2733.2" r="8" fill="#bd6109"/><circle cx="1388.7" cy="2707.7" r="8" fill="#b45906"/><circle cx="1581.0" cy="2707.7" r="8" fill="#994a07"/><circle cx="1483.2" cy="2707.7" r="8" fill="#b55a07"/><circle cx="1515.3" cy="2707.7" r="8" fill="#ac5406"/><circle cx="1403.2" cy="2699.2" r="8" fill="#d77a11"/><circle cx="1329.4" cy="2699.2" r="8" fill="#d87b12"/><circle cx="1270.9" cy="2707.7" r="8" fill="#613d92"/><circle cx="1319.9" cy="2716.2" r="8" fill="#d87a11"/><circle cx="1336.3" cy="2733.2" r="8" fill="#e08214"/><circle cx="1473.7" cy="2707.7" r="8" fill="#a14e07"/><circle cx="1327.7" cy="2682.2" r="8" fill="#cd700e"/><circle cx="1351.3" cy="2724.7" r="8" fill="#fbb45d"/><circle cx="1368.0" cy="2724.7" r="8" fill="#e18417"/><circle cx="1469.3" cy="2707.7" r="8" fill="#a04e07"/><circle cx="1331.9" cy="2673.7" r="8" fill="#e18416"/><circle cx="1287.7" cy="2724.7" r="8" fill="#9e95c3"/><circle cx="1362.1" cy="2690.7" r="8" fill="#d67811"/><circle cx="1278.5" cy="2707.7" r="8" fill="#6a4c9a"/><circle cx="1255.0" cy="2707.7" r="8" fill="#e08214"/><circle cx="1324.7" cy="2690.7" r="8" fill="#d47710"/><circle cx="1312.2" cy="2699.2" r="8" fill="#e08214"/><circle cx="1450.3" cy="2707.7" r="8" fill="#bf630a"/><circle cx="1346.8" cy="2682.2" r="8" fill="#ea952f"/><circle cx="1282.8" cy="2707.7" r="8" fill="#8275ad"/><circle cx="1317.9" cy="2716.2" r="8" fill="#dc7e13"/><circle cx="1341.2" cy="2682.2" r="8" fill="#da7c12"/><circle cx="1389.9" cy="2716.2" r="8" fill="#bc6109"/><circle cx="1397.0" cy="2699.2" r="8" fill="#bf630a"/><circle cx="1297.4" cy="2707.7" r="8" fill="#360959"/><circle cx="1360.9" cy="2707.7" r="8" fill="#f9b158"/><circle cx="1343.4" cy="2716.2" r="8" fill="#eb9631"/><circle cx="1330.4" cy="2707.7" r="8" fill="#e58b21"/><circle cx="1349.5" cy="2699.2" r="8" fill="#e8922b"/><circle cx="1439.7" cy="2707.7" r="8" fill="#e78f27"/><circle cx="1372.9" cy="2707.7" r="8" fill="#fdb863"/><circle cx="1374.8" cy="2716.2" r="8" fill="#bb6009"/><circle cx="1288.4" cy="2699.2" r="8" fill="#6f559e"/><circle cx="1281.4" cy="2724.7" r="8" fill="#7d6eaa"/><circle cx="1377.5" cy="2707.7" r="8" fill="#c96d0d"/><circle cx="1325.5" cy="2673.7" r="8" fill="#d57811"/><circle cx="1340.7" cy="2707.7" r="8" fill="#dd7f13"/><circle cx="1324.9" cy="2733.2" r="8" fill="#e48a20"/><circle cx="1395.2" cy="2716.2" r="8" fill="#b25706"/><circle cx="1296.1" cy="2707.7" r="8" fill="#fdc47c"/><circle cx="1342.3" cy="2690.7" r="8" fill="#fdbc6b"/><circle cx="1370.9" cy="2716.2" r="8" fill="#fece91"/><circle cx="1529.0" cy="2707.7" r="8" fill="#a95206"/><circle cx="1337.8" cy="2699.2" r="8" fill="#df8114"/><circle cx="1289.5" cy="2690.7" r="8" fill="#59308c"/><circle cx="1337.8" cy="2724.7" r="8" fill="#e79028"/><circle cx="1330.7" cy="2690.7" r="8" fill="#e08215"/><circle cx="1317.3" cy="2724.7" r="8" fill="#ea952f"/><circle cx="1274.4" cy="2716.2" r="8" fill="#2d004b"/><circle cx="1246.0" cy="2707.7" r="8" fill="#2d004b"/><circle cx="1304.0" cy="2690.7" r="8" fill="#d0cfe5"/><circle cx="1357.8" cy="2682.2" r="8" fill="#fdc175"/><circle cx="1328.2" cy="2733.2" r="8" fill="#e18518"/><circle cx="1406.0" cy="2707.7" r="8" fill="#cc6f0e"/><circle cx="1276.4" cy="2690.7" r="8" fill="#887cb2"/><circle cx="1358.3" cy="2724.7" r="8" fill="#f0a040"/><circle cx="1337.9" cy="2690.7" r="8" fill="#e68d24"/><circle cx="1354.9" cy="2707.7" r="8" fill="#f6ab50"/><circle cx="1294.8" cy="2699.2" r="8" fill="#f9f2e9"/><circle cx="1365.9" cy="2690.7" r="8" fill="#c2660b"/><circle cx="1307.4" cy="2699.2" r="8" fill="#a9a1cb"/><circle cx="1275.4" cy="2699.2" r="8" fill="#6e539d"/><circle cx="1322.4" cy="2699.2" r="8" fill="#e08214"/><circle cx="1370.1" cy="2682.2" r="8" fill="#f1a141"/><circle cx="1312.3" cy="2707.7" r="8" fill="#d37610"/><circle cx="1332.8" cy="2741.7" r="8" fill="#e78e26"/><circle cx="1237.0" cy="2707.7" r="8" fill="#2d004b"/><circle cx="1325.4" cy="2724.7" r="8" fill="#e78f27"/><circle cx="1326.8" cy="2724.7" r="8" fill="#cf720f"/>
</g>
<line x1="940" y1="2831.3" x2="2025" y2="2831.3" stroke="#1c1c1c" stroke-width="3.6"/>
<line x1="1122" y1="2831.3" x2="1122" y2="2846.5" stroke="#1c1c1c" stroke-width="3.5"/>
<text x="1122" y="2891.5" font-size="45.4" text-anchor="middle" fill="#1c1c1c">−0.05</text>
<line x1="1334.9" y1="2831.3" x2="1334.9" y2="2846.5" stroke="#1c1c1c" stroke-width="3.5"/>
<text x="1334.9" y="2891.5" font-size="45.4" text-anchor="middle" fill="#1c1c1c">0.00</text>
<line x1="1550" y1="2831.3" x2="1550" y2="2846.5" stroke="#1c1c1c" stroke-width="3.5"/>
<text x="1550" y="2891.5" font-size="45.4" text-anchor="middle" fill="#1c1c1c">0.05</text>
<line x1="1762.5" y1="2831.3" x2="1762.5" y2="2846.5" stroke="#1c1c1c" stroke-width="3.5"/>
<text x="1762.5" y="2891.5" font-size="45.4" text-anchor="middle" fill="#1c1c1c">0.10</text>
<line x1="1978.3" y1="2831.3" x2="1978.3" y2="2846.5" stroke="#1c1c1c" stroke-width="3.5"/>
<text x="1978.3" y="2891.5" font-size="45.4" text-anchor="middle" fill="#1c1c1c">0.15</text>
<text x="1482.5" y="2958.5" font-size="53.6" text-anchor="middle" fill="#141414">SHAP value (impact on model output)</text>
<text x="842" y="180.0" font-size="53.5" text-anchor="end" fill="#0a0a0a">th_density</text>
<text x="842" y="301.4" font-size="53.5" text-anchor="end" fill="#0a0a0a">th_mp_density</text>
<text x="842" y="422.8" font-size="53.5" text-anchor="end" fill="#0a0a0a">mp_density_mean</text>
<text x="842" y="544.1" font-size="53.5" text-anchor="end" fill="#0a0a0a">density_mean</text>
<text x="842" y="665.5" font-size="53.5" text-anchor="end" fill="#0a0a0a">GS_gap_mean</text>
<text x="842" y="786.9" font-size="53.5" text-anchor="end" fill="#0a0a0a">heat_of_formation_range</text>
<text x="842" y="908.3" font-size="53.5" text-anchor="end" fill="#0a0a0a">pVal_frac</text>
<text x="842" y="1029.7" font-size="53.5" text-anchor="end" fill="#0a0a0a">at_vol_mean</text>
<text x="842" y="1151.0" font-size="53.5" text-anchor="end" fill="#0a0a0a">atomic_weight_mean</text>
<text x="842" y="1272.4" font-size="53.5" text-anchor="end" fill="#0a0a0a">cov_vol_mean</text>
<text x="842" y="1393.8" font-size="53.5" text-anchor="end" fill="#0a0a0a">Melting_mismatch</text>
<text x="842" y="1515.2" font-size="53.5" text-anchor="end" fill="#0a0a0a">Allred-Rochow_diff</text>
<text x="842" y="1636.6" font-size="53.5" text-anchor="end" fill="#0a0a0a">atomic_weight_max</text>
<text x="842" y="1757.9" font-size="53.5" text-anchor="end" fill="#0a0a0a">NValence_mean</text>
<text x="842" y="1879.3" font-size="53.5" text-anchor="end" fill="#0a0a0a">vdw_vol_diff</text>
<text x="842" y="2000.7" font-size="53.5" text-anchor="end" fill="#0a0a0a">Mulliken_range</text>
<text x="842" y="2122.1" font-size="53.5" text-anchor="end" fill="#0a0a0a">NValence_mismatch</text>
<text x="842" y="2243.5" font-size="53.5" text-anchor="end" fill="#0a0a0a">dipole_polarizability_mismatch</text>
<text x="842" y="2364.8" font-size="53.5" text-anchor="end" fill="#0a0a0a">IE1_range</text>
<text x="842" y="2486.2" font-size="53.5" text-anchor="end" fill="#0a0a0a">Martynov-Batsanov_range</text>
<text x="842" y="2607.6" font-size="53.5" text-anchor="end" fill="#0a0a0a">Gordy_range</text>
<text x="842" y="2729.0" font-size="53.5" text-anchor="end" fill="#0a0a0a">Pauling_range</text>
<rect x="2090" y="38" width="35.7" height="2792.5" fill="url(#cb)"/>
<text x="2139" y="56" font-size="45" fill="#141414">High</text>
<text x="2139" y="2847" font-size="45" fill="#141414">Low</text>
<text transform="translate(2277,1437.5) rotate(-90)" font-size="49.5" text-anchor="middle" fill="#141414">Feature value</text>
</g>
</svg></body></html>
